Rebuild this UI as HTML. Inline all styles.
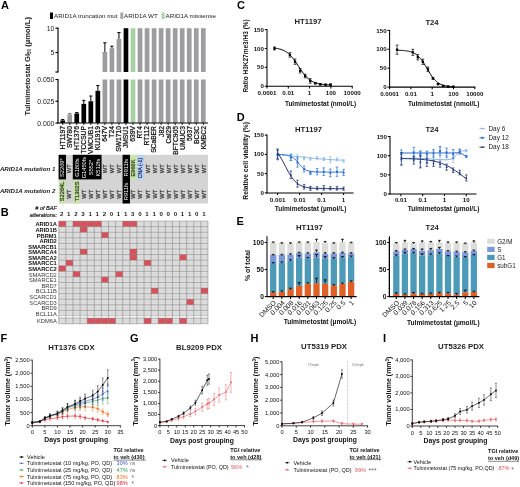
<!DOCTYPE html>
<html lang="en"><head><meta charset="utf-8"><title>Figure</title>
<style>html,body{margin:0;padding:0;background:#fff;}svg{display:block;font-family:'Liberation Sans', Arial, sans-serif;}</style>
</head><body>
<svg width="520" height="487" viewBox="0 0 520 487">
<rect x="0" y="0" width="520" height="487" fill="#fff"/>
<g id="panelA">
<text x="0.90" y="9.40" font-size="11" font-weight="bold" text-anchor="start" fill="#000">A</text>
<rect x="50.00" y="12.50" width="3.00" height="6.50" fill="#000"/>
<text x="54.00" y="18.00" font-size="6.25" font-weight="normal" text-anchor="start" fill="#222">ARID1A truncation mut</text>
<rect x="120.30" y="12.50" width="3.00" height="6.50" fill="#a6a6a6"/>
<text x="124.10" y="18.00" font-size="6.25" font-weight="normal" text-anchor="start" fill="#222">ARID1A WT</text>
<rect x="161.60" y="12.50" width="3.00" height="6.50" fill="#a9d5a5"/>
<text x="165.50" y="18.00" font-size="6.25" font-weight="normal" text-anchor="start" fill="#222">ARID1A missense</text>
<line x1="62.70" y1="120.39" x2="62.70" y2="119.52" stroke="#000" stroke-width="1.0"/>
<line x1="61.10" y1="119.52" x2="64.30" y2="119.52" stroke="#000" stroke-width="1.0"/>
<rect x="60.35" y="120.39" width="4.70" height="2.61" fill="#000"/>
<line x1="69.73" y1="114.30" x2="69.73" y2="113.43" stroke="#777" stroke-width="1.0"/>
<line x1="68.13" y1="113.43" x2="71.33" y2="113.43" stroke="#777" stroke-width="1.0"/>
<rect x="67.38" y="114.30" width="4.70" height="8.70" fill="#9d9d9f"/>
<line x1="76.76" y1="113.43" x2="76.76" y2="112.56" stroke="#000" stroke-width="1.0"/>
<line x1="75.16" y1="112.56" x2="78.36" y2="112.56" stroke="#000" stroke-width="1.0"/>
<rect x="74.41" y="113.43" width="4.70" height="9.57" fill="#000"/>
<line x1="83.79" y1="103.86" x2="83.79" y2="100.38" stroke="#000" stroke-width="1.0"/>
<line x1="82.19" y1="100.38" x2="85.39" y2="100.38" stroke="#000" stroke-width="1.0"/>
<rect x="81.44" y="103.86" width="4.70" height="19.14" fill="#000"/>
<line x1="90.82" y1="101.25" x2="90.82" y2="96.03" stroke="#000" stroke-width="1.0"/>
<line x1="89.22" y1="96.03" x2="92.42" y2="96.03" stroke="#000" stroke-width="1.0"/>
<rect x="88.47" y="101.25" width="4.70" height="21.75" fill="#000"/>
<line x1="97.85" y1="90.81" x2="97.85" y2="85.59" stroke="#000" stroke-width="1.0"/>
<line x1="96.25" y1="85.59" x2="99.45" y2="85.59" stroke="#000" stroke-width="1.0"/>
<rect x="95.50" y="90.81" width="4.70" height="32.19" fill="#000"/>
<rect x="102.53" y="79.50" width="4.70" height="43.50" fill="#9d9d9f"/>
<line x1="104.88" y1="52.01" x2="104.88" y2="42.78" stroke="#000" stroke-width="1.0"/>
<line x1="103.28" y1="42.78" x2="106.48" y2="42.78" stroke="#000" stroke-width="1.0"/>
<rect x="102.53" y="52.01" width="4.70" height="19.99" fill="#9d9d9f"/>
<rect x="109.56" y="79.50" width="4.70" height="43.50" fill="#9d9d9f"/>
<line x1="111.91" y1="48.13" x2="111.91" y2="46.18" stroke="#000" stroke-width="1.0"/>
<line x1="110.31" y1="46.18" x2="113.51" y2="46.18" stroke="#000" stroke-width="1.0"/>
<rect x="109.56" y="48.13" width="4.70" height="23.87" fill="#9d9d9f"/>
<rect x="116.59" y="79.50" width="4.70" height="43.50" fill="#9d9d9f"/>
<line x1="118.94" y1="38.89" x2="118.94" y2="32.57" stroke="#000" stroke-width="1.0"/>
<line x1="117.34" y1="32.57" x2="120.54" y2="32.57" stroke="#000" stroke-width="1.0"/>
<rect x="116.59" y="38.89" width="4.70" height="33.11" fill="#9d9d9f"/>
<rect x="123.62" y="79.50" width="4.70" height="43.50" fill="#000"/>
<rect x="123.62" y="28.20" width="4.70" height="43.80" fill="#000"/>
<rect x="130.65" y="79.50" width="4.70" height="43.50" fill="#a8cea5"/>
<rect x="130.65" y="28.20" width="4.70" height="43.80" fill="#a8cea5"/>
<rect x="137.68" y="79.50" width="4.70" height="43.50" fill="#9d9d9f"/>
<rect x="137.68" y="28.20" width="4.70" height="43.80" fill="#9d9d9f"/>
<rect x="144.71" y="79.50" width="4.70" height="43.50" fill="#9d9d9f"/>
<rect x="144.71" y="28.20" width="4.70" height="43.80" fill="#9d9d9f"/>
<rect x="151.74" y="79.50" width="4.70" height="43.50" fill="#9d9d9f"/>
<rect x="151.74" y="28.20" width="4.70" height="43.80" fill="#9d9d9f"/>
<rect x="158.77" y="79.50" width="4.70" height="43.50" fill="#9d9d9f"/>
<rect x="158.77" y="28.20" width="4.70" height="43.80" fill="#9d9d9f"/>
<rect x="165.80" y="79.50" width="4.70" height="43.50" fill="#9d9d9f"/>
<rect x="165.80" y="28.20" width="4.70" height="43.80" fill="#9d9d9f"/>
<rect x="172.83" y="79.50" width="4.70" height="43.50" fill="#9d9d9f"/>
<rect x="172.83" y="28.20" width="4.70" height="43.80" fill="#9d9d9f"/>
<rect x="179.86" y="79.50" width="4.70" height="43.50" fill="#9d9d9f"/>
<rect x="179.86" y="28.20" width="4.70" height="43.80" fill="#9d9d9f"/>
<rect x="186.89" y="79.50" width="4.70" height="43.50" fill="#9d9d9f"/>
<rect x="186.89" y="28.20" width="4.70" height="43.80" fill="#9d9d9f"/>
<rect x="193.92" y="79.50" width="4.70" height="43.50" fill="#9d9d9f"/>
<rect x="193.92" y="28.20" width="4.70" height="43.80" fill="#9d9d9f"/>
<rect x="200.95" y="79.50" width="4.70" height="43.50" fill="#9d9d9f"/>
<rect x="200.95" y="28.20" width="4.70" height="43.80" fill="#9d9d9f"/>
<line x1="58.00" y1="27.62" x2="58.00" y2="72.58" stroke="#000" stroke-width="1.15"/>
<line x1="55.40" y1="28.20" x2="58.00" y2="28.20" stroke="#000" stroke-width="1.15"/>
<text x="54.40" y="30.70" font-size="6.9" font-weight="normal" text-anchor="end" fill="#222">10</text>
<line x1="55.40" y1="52.50" x2="58.00" y2="52.50" stroke="#000" stroke-width="1.15"/>
<text x="54.40" y="55.00" font-size="6.9" font-weight="normal" text-anchor="end" fill="#222">5</text>
<line x1="55.40" y1="72.00" x2="58.00" y2="72.00" stroke="#000" stroke-width="1.15"/>
<line x1="58.00" y1="78.92" x2="58.00" y2="123.58" stroke="#000" stroke-width="1.15"/>
<line x1="55.40" y1="79.50" x2="58.00" y2="79.50" stroke="#000" stroke-width="1.15"/>
<text x="54.40" y="82.00" font-size="6.9" font-weight="normal" text-anchor="end" fill="#222">0.050</text>
<line x1="55.40" y1="101.25" x2="58.00" y2="101.25" stroke="#000" stroke-width="1.15"/>
<text x="54.40" y="103.75" font-size="6.9" font-weight="normal" text-anchor="end" fill="#222">0.025</text>
<line x1="55.40" y1="123.00" x2="58.00" y2="123.00" stroke="#000" stroke-width="1.15"/>
<text x="54.40" y="125.50" font-size="6.9" font-weight="normal" text-anchor="end" fill="#222">0.000</text>
<line x1="57.42" y1="123.00" x2="208.00" y2="123.00" stroke="#000" stroke-width="1.15"/>
<line x1="62.70" y1="123.00" x2="62.70" y2="125.00" stroke="#000" stroke-width="0.9"/>
<text x="65.10" y="126.10" font-size="6.7" font-weight="normal" text-anchor="end" fill="#111" transform="rotate(-90 65.10 126.10)" stroke="#111" stroke-width="0.25">HT1197</text>
<line x1="69.73" y1="123.00" x2="69.73" y2="125.00" stroke="#000" stroke-width="0.9"/>
<text x="72.13" y="126.10" font-size="6.7" font-weight="normal" text-anchor="end" fill="#111" transform="rotate(-90 72.13 126.10)" stroke="#111" stroke-width="0.25">SW780</text>
<line x1="76.76" y1="123.00" x2="76.76" y2="125.00" stroke="#000" stroke-width="0.9"/>
<text x="79.16" y="126.10" font-size="6.7" font-weight="normal" text-anchor="end" fill="#111" transform="rotate(-90 79.16 126.10)" stroke="#111" stroke-width="0.25">HT1376</text>
<line x1="83.79" y1="123.00" x2="83.79" y2="125.00" stroke="#000" stroke-width="0.9"/>
<text x="86.19" y="126.10" font-size="6.7" font-weight="normal" text-anchor="end" fill="#111" transform="rotate(-90 86.19 126.10)" stroke="#111" stroke-width="0.25">TCCSUP</text>
<line x1="90.82" y1="123.00" x2="90.82" y2="125.00" stroke="#000" stroke-width="0.9"/>
<text x="93.22" y="126.10" font-size="6.7" font-weight="normal" text-anchor="end" fill="#111" transform="rotate(-90 93.22 126.10)" stroke="#111" stroke-width="0.25">VMCUB1</text>
<line x1="97.85" y1="123.00" x2="97.85" y2="125.00" stroke="#000" stroke-width="0.9"/>
<text x="100.25" y="126.10" font-size="6.7" font-weight="normal" text-anchor="end" fill="#111" transform="rotate(-90 100.25 126.10)" stroke="#111" stroke-width="0.25">KU1919</text>
<line x1="104.88" y1="123.00" x2="104.88" y2="125.00" stroke="#000" stroke-width="0.9"/>
<text x="107.28" y="126.10" font-size="6.7" font-weight="normal" text-anchor="end" fill="#111" transform="rotate(-90 107.28 126.10)" stroke="#111" stroke-width="0.25">647V</text>
<line x1="111.91" y1="123.00" x2="111.91" y2="125.00" stroke="#000" stroke-width="0.9"/>
<text x="114.31" y="126.10" font-size="6.7" font-weight="normal" text-anchor="end" fill="#111" transform="rotate(-90 114.31 126.10)" stroke="#111" stroke-width="0.25">T24</text>
<line x1="118.94" y1="123.00" x2="118.94" y2="125.00" stroke="#000" stroke-width="0.9"/>
<text x="121.34" y="126.10" font-size="6.7" font-weight="normal" text-anchor="end" fill="#111" transform="rotate(-90 121.34 126.10)" stroke="#111" stroke-width="0.25">SW1710</text>
<line x1="125.97" y1="123.00" x2="125.97" y2="125.00" stroke="#000" stroke-width="0.9"/>
<text x="128.37" y="126.10" font-size="6.7" font-weight="normal" text-anchor="end" fill="#111" transform="rotate(-90 128.37 126.10)" stroke="#111" stroke-width="0.25">JMSU1</text>
<line x1="133.00" y1="123.00" x2="133.00" y2="125.00" stroke="#000" stroke-width="0.9"/>
<text x="135.40" y="126.10" font-size="6.7" font-weight="normal" text-anchor="end" fill="#111" transform="rotate(-90 135.40 126.10)" stroke="#111" stroke-width="0.25">639V</text>
<line x1="140.03" y1="123.00" x2="140.03" y2="125.00" stroke="#000" stroke-width="0.9"/>
<text x="142.43" y="126.10" font-size="6.7" font-weight="normal" text-anchor="end" fill="#111" transform="rotate(-90 142.43 126.10)" stroke="#111" stroke-width="0.25">RT4</text>
<line x1="147.06" y1="123.00" x2="147.06" y2="125.00" stroke="#000" stroke-width="0.9"/>
<text x="149.46" y="126.10" font-size="6.7" font-weight="normal" text-anchor="end" fill="#111" transform="rotate(-90 149.46 126.10)" stroke="#111" stroke-width="0.25">RT112</text>
<line x1="154.09" y1="123.00" x2="154.09" y2="125.00" stroke="#000" stroke-width="0.9"/>
<text x="156.49" y="126.10" font-size="6.7" font-weight="normal" text-anchor="end" fill="#111" transform="rotate(-90 156.49 126.10)" stroke="#111" stroke-width="0.25">SCaBER</text>
<line x1="161.12" y1="123.00" x2="161.12" y2="125.00" stroke="#000" stroke-width="0.9"/>
<text x="163.52" y="126.10" font-size="6.7" font-weight="normal" text-anchor="end" fill="#111" transform="rotate(-90 163.52 126.10)" stroke="#111" stroke-width="0.25">J82</text>
<line x1="168.15" y1="123.00" x2="168.15" y2="125.00" stroke="#000" stroke-width="0.9"/>
<text x="170.55" y="126.10" font-size="6.7" font-weight="normal" text-anchor="end" fill="#111" transform="rotate(-90 170.55 126.10)" stroke="#111" stroke-width="0.25">Cal29</text>
<line x1="175.18" y1="123.00" x2="175.18" y2="125.00" stroke="#000" stroke-width="0.9"/>
<text x="177.58" y="126.10" font-size="6.7" font-weight="normal" text-anchor="end" fill="#111" transform="rotate(-90 177.58 126.10)" stroke="#111" stroke-width="0.25">BFTC905</text>
<line x1="182.21" y1="123.00" x2="182.21" y2="125.00" stroke="#000" stroke-width="0.9"/>
<text x="184.61" y="126.10" font-size="6.7" font-weight="normal" text-anchor="end" fill="#111" transform="rotate(-90 184.61 126.10)" stroke="#111" stroke-width="0.25">UMUC3</text>
<line x1="189.24" y1="123.00" x2="189.24" y2="125.00" stroke="#000" stroke-width="0.9"/>
<text x="191.64" y="126.10" font-size="6.7" font-weight="normal" text-anchor="end" fill="#111" transform="rotate(-90 191.64 126.10)" stroke="#111" stroke-width="0.25">5637</text>
<line x1="196.27" y1="123.00" x2="196.27" y2="125.00" stroke="#000" stroke-width="0.9"/>
<text x="198.67" y="126.10" font-size="6.7" font-weight="normal" text-anchor="end" fill="#111" transform="rotate(-90 198.67 126.10)" stroke="#111" stroke-width="0.25">BC3C</text>
<line x1="203.30" y1="123.00" x2="203.30" y2="125.00" stroke="#000" stroke-width="0.9"/>
<text x="205.70" y="126.10" font-size="6.7" font-weight="normal" text-anchor="end" fill="#111" transform="rotate(-90 205.70 126.10)" stroke="#111" stroke-width="0.25">KMBC2</text>
<text x="29.6" y="66.2" font-size="7.6" font-weight="bold" text-anchor="middle" fill="#222" transform="rotate(-90 29.6 66.2)">Tulmimetostat GI<tspan font-size="4.6" dy="1.6">50</tspan><tspan dy="-1.6"> (µmol/L)</tspan></text>
<rect x="58.75" y="154.80" width="149.25" height="48.70" fill="#d4d4d4"/>
<text x="55.30" y="170.90" font-size="6.15" font-weight="bold" text-anchor="end" fill="#222" font-style="italic">ARID1A mutation 1</text>
<text x="55.30" y="193.30" font-size="6.15" font-weight="bold" text-anchor="end" fill="#222" font-style="italic">ARID1A mutation 2</text>
<rect x="58.60" y="154.80" width="7.41" height="24.60" fill="#000"/>
<text x="64.30" y="167.60" font-size="5.7" font-weight="normal" text-anchor="middle" fill="#fff" transform="rotate(-90 64.30 167.60)">S2269*</text>
<rect x="59.05" y="180.40" width="6.51" height="23.10" fill="#cbe3ad"/>
<text x="64.30" y="191.40" font-size="5.7" font-weight="normal" text-anchor="middle" fill="#2d3d18" transform="rotate(-90 64.30 191.40)" stroke="#2d3d18" stroke-width="0.22">S2264L</text>
<text x="71.41" y="168.80" font-size="5.7" font-weight="normal" text-anchor="middle" fill="#2a2a2a" transform="rotate(-90 71.41 168.80)" stroke="#2a2a2a" stroke-width="0.22">WT</text>
<text x="71.41" y="194.20" font-size="5.7" font-weight="normal" text-anchor="middle" fill="#2a2a2a" transform="rotate(-90 71.41 194.20)" stroke="#2a2a2a" stroke-width="0.22">WT</text>
<rect x="72.81" y="154.80" width="7.41" height="24.60" fill="#000"/>
<text x="78.51" y="167.60" font-size="5.7" font-weight="normal" text-anchor="middle" fill="#fff" transform="rotate(-90 78.51 167.60)">G180fs</text>
<rect x="73.26" y="180.40" width="6.51" height="23.10" fill="#cbe3ad"/>
<text x="78.51" y="191.40" font-size="5.7" font-weight="normal" text-anchor="middle" fill="#2d3d18" transform="rotate(-90 78.51 191.40)" stroke="#2d3d18" stroke-width="0.22">T1302S</text>
<rect x="79.92" y="154.80" width="7.41" height="24.60" fill="#000"/>
<text x="85.62" y="167.60" font-size="5.7" font-weight="normal" text-anchor="middle" fill="#fff" transform="rotate(-90 85.62 167.60)">G1450fs</text>
<text x="85.62" y="194.20" font-size="5.7" font-weight="normal" text-anchor="middle" fill="#2a2a2a" transform="rotate(-90 85.62 194.20)" stroke="#2a2a2a" stroke-width="0.22">WT</text>
<rect x="87.02" y="154.80" width="7.41" height="24.60" fill="#000"/>
<text x="92.73" y="167.60" font-size="5.7" font-weight="normal" text-anchor="middle" fill="#fff" transform="rotate(-90 92.73 167.60)">S552*</text>
<text x="92.73" y="194.20" font-size="5.7" font-weight="normal" text-anchor="middle" fill="#2a2a2a" transform="rotate(-90 92.73 194.20)" stroke="#2a2a2a" stroke-width="0.22">WT</text>
<rect x="94.13" y="154.80" width="7.41" height="24.60" fill="#000"/>
<text x="99.84" y="167.60" font-size="5.7" font-weight="normal" text-anchor="middle" fill="#fff" transform="rotate(-90 99.84 167.60)">K512fs</text>
<text x="99.84" y="194.20" font-size="5.7" font-weight="normal" text-anchor="middle" fill="#2a2a2a" transform="rotate(-90 99.84 194.20)" stroke="#2a2a2a" stroke-width="0.22">WT</text>
<text x="106.94" y="168.80" font-size="5.7" font-weight="normal" text-anchor="middle" fill="#2a2a2a" transform="rotate(-90 106.94 168.80)" stroke="#2a2a2a" stroke-width="0.22">WT</text>
<text x="106.94" y="194.20" font-size="5.7" font-weight="normal" text-anchor="middle" fill="#2a2a2a" transform="rotate(-90 106.94 194.20)" stroke="#2a2a2a" stroke-width="0.22">WT</text>
<text x="114.05" y="168.80" font-size="5.7" font-weight="normal" text-anchor="middle" fill="#2a2a2a" transform="rotate(-90 114.05 168.80)" stroke="#2a2a2a" stroke-width="0.22">WT</text>
<text x="114.05" y="194.20" font-size="5.7" font-weight="normal" text-anchor="middle" fill="#2a2a2a" transform="rotate(-90 114.05 194.20)" stroke="#2a2a2a" stroke-width="0.22">WT</text>
<text x="121.16" y="168.80" font-size="5.7" font-weight="normal" text-anchor="middle" fill="#2a2a2a" transform="rotate(-90 121.16 168.80)" stroke="#2a2a2a" stroke-width="0.22">WT</text>
<text x="121.16" y="194.20" font-size="5.7" font-weight="normal" text-anchor="middle" fill="#2a2a2a" transform="rotate(-90 121.16 194.20)" stroke="#2a2a2a" stroke-width="0.22">WT</text>
<rect x="122.56" y="154.80" width="7.41" height="48.70" fill="#000"/>
<text x="128.26" y="167.60" font-size="5.7" font-weight="normal" text-anchor="middle" fill="#fff" transform="rotate(-90 128.26 167.60)">R911fs</text>
<text x="128.26" y="191.40" font-size="5.7" font-weight="normal" text-anchor="middle" fill="#fff" transform="rotate(-90 128.26 191.40)">R911fs</text>
<rect x="130.02" y="154.80" width="6.91" height="25.10" fill="#cbe3ad"/>
<text x="135.37" y="168.00" font-size="5.7" font-weight="normal" text-anchor="middle" fill="#2d3d18" transform="rotate(-90 135.37 168.00)" stroke="#2d3d18" stroke-width="0.22">E966K</text>
<text x="135.37" y="194.20" font-size="5.7" font-weight="normal" text-anchor="middle" fill="#2a2a2a" transform="rotate(-90 135.37 194.20)" stroke="#2a2a2a" stroke-width="0.22">WT</text>
<rect x="136.92" y="154.80" width="7.11" height="25.10" fill="#bcd3ee"/>
<text x="142.48" y="168.00" font-size="5.3" font-weight="normal" text-anchor="middle" fill="#1c2c78" transform="rotate(-90 142.48 168.00)" stroke="#1c2c78" stroke-width="0.22">CNA (-1)</text>
<text x="142.48" y="194.20" font-size="5.7" font-weight="normal" text-anchor="middle" fill="#2a2a2a" transform="rotate(-90 142.48 194.20)" stroke="#2a2a2a" stroke-width="0.22">WT</text>
<text x="149.58" y="168.80" font-size="5.7" font-weight="normal" text-anchor="middle" fill="#2a2a2a" transform="rotate(-90 149.58 168.80)" stroke="#2a2a2a" stroke-width="0.22">WT</text>
<text x="149.58" y="194.20" font-size="5.7" font-weight="normal" text-anchor="middle" fill="#2a2a2a" transform="rotate(-90 149.58 194.20)" stroke="#2a2a2a" stroke-width="0.22">WT</text>
<text x="156.69" y="168.80" font-size="5.7" font-weight="normal" text-anchor="middle" fill="#2a2a2a" transform="rotate(-90 156.69 168.80)" stroke="#2a2a2a" stroke-width="0.22">WT</text>
<text x="156.69" y="194.20" font-size="5.7" font-weight="normal" text-anchor="middle" fill="#2a2a2a" transform="rotate(-90 156.69 194.20)" stroke="#2a2a2a" stroke-width="0.22">WT</text>
<text x="163.80" y="168.80" font-size="5.7" font-weight="normal" text-anchor="middle" fill="#2a2a2a" transform="rotate(-90 163.80 168.80)" stroke="#2a2a2a" stroke-width="0.22">WT</text>
<text x="163.80" y="194.20" font-size="5.7" font-weight="normal" text-anchor="middle" fill="#2a2a2a" transform="rotate(-90 163.80 194.20)" stroke="#2a2a2a" stroke-width="0.22">WT</text>
<text x="170.91" y="168.80" font-size="5.7" font-weight="normal" text-anchor="middle" fill="#2a2a2a" transform="rotate(-90 170.91 168.80)" stroke="#2a2a2a" stroke-width="0.22">WT</text>
<text x="170.91" y="194.20" font-size="5.7" font-weight="normal" text-anchor="middle" fill="#2a2a2a" transform="rotate(-90 170.91 194.20)" stroke="#2a2a2a" stroke-width="0.22">WT</text>
<text x="178.01" y="168.80" font-size="5.7" font-weight="normal" text-anchor="middle" fill="#2a2a2a" transform="rotate(-90 178.01 168.80)" stroke="#2a2a2a" stroke-width="0.22">WT</text>
<text x="178.01" y="194.20" font-size="5.7" font-weight="normal" text-anchor="middle" fill="#2a2a2a" transform="rotate(-90 178.01 194.20)" stroke="#2a2a2a" stroke-width="0.22">WT</text>
<text x="185.12" y="168.80" font-size="5.7" font-weight="normal" text-anchor="middle" fill="#2a2a2a" transform="rotate(-90 185.12 168.80)" stroke="#2a2a2a" stroke-width="0.22">WT</text>
<text x="185.12" y="194.20" font-size="5.7" font-weight="normal" text-anchor="middle" fill="#2a2a2a" transform="rotate(-90 185.12 194.20)" stroke="#2a2a2a" stroke-width="0.22">WT</text>
<text x="192.23" y="168.80" font-size="5.7" font-weight="normal" text-anchor="middle" fill="#2a2a2a" transform="rotate(-90 192.23 168.80)" stroke="#2a2a2a" stroke-width="0.22">WT</text>
<text x="192.23" y="194.20" font-size="5.7" font-weight="normal" text-anchor="middle" fill="#2a2a2a" transform="rotate(-90 192.23 194.20)" stroke="#2a2a2a" stroke-width="0.22">WT</text>
<text x="199.33" y="168.80" font-size="5.7" font-weight="normal" text-anchor="middle" fill="#2a2a2a" transform="rotate(-90 199.33 168.80)" stroke="#2a2a2a" stroke-width="0.22">WT</text>
<text x="199.33" y="194.20" font-size="5.7" font-weight="normal" text-anchor="middle" fill="#2a2a2a" transform="rotate(-90 199.33 194.20)" stroke="#2a2a2a" stroke-width="0.22">WT</text>
<text x="206.44" y="168.80" font-size="5.7" font-weight="normal" text-anchor="middle" fill="#2a2a2a" transform="rotate(-90 206.44 168.80)" stroke="#2a2a2a" stroke-width="0.22">WT</text>
<text x="206.44" y="194.20" font-size="5.7" font-weight="normal" text-anchor="middle" fill="#2a2a2a" transform="rotate(-90 206.44 194.20)" stroke="#2a2a2a" stroke-width="0.22">WT</text>
</g>
<g id="panelB">
<text x="0.70" y="216.30" font-size="11" font-weight="bold" text-anchor="start" fill="#000">B</text>
<text x="57.00" y="209.60" font-size="5.6" font-weight="normal" text-anchor="end" fill="#1a1a1a" font-style="italic" stroke="#1a1a1a" stroke-width="0.18"># of BAF</text>
<text x="57.20" y="216.50" font-size="5.6" font-weight="normal" text-anchor="end" fill="#1a1a1a" font-style="italic" stroke="#1a1a1a" stroke-width="0.18">alterations:</text>
<text x="61.70" y="216.00" font-size="6.1" font-weight="bold" text-anchor="middle" fill="#222">2</text>
<text x="68.81" y="216.00" font-size="6.1" font-weight="bold" text-anchor="middle" fill="#222">1</text>
<text x="75.91" y="216.00" font-size="6.1" font-weight="bold" text-anchor="middle" fill="#222">2</text>
<text x="83.02" y="216.00" font-size="6.1" font-weight="bold" text-anchor="middle" fill="#222">3</text>
<text x="90.13" y="216.00" font-size="6.1" font-weight="bold" text-anchor="middle" fill="#222">1</text>
<text x="97.24" y="216.00" font-size="6.1" font-weight="bold" text-anchor="middle" fill="#222">1</text>
<text x="104.34" y="216.00" font-size="6.1" font-weight="bold" text-anchor="middle" fill="#222">2</text>
<text x="111.45" y="216.00" font-size="6.1" font-weight="bold" text-anchor="middle" fill="#222">0</text>
<text x="118.56" y="216.00" font-size="6.1" font-weight="bold" text-anchor="middle" fill="#222">1</text>
<text x="125.66" y="216.00" font-size="6.1" font-weight="bold" text-anchor="middle" fill="#222">1</text>
<text x="132.77" y="216.00" font-size="6.1" font-weight="bold" text-anchor="middle" fill="#222">3</text>
<text x="139.88" y="216.00" font-size="6.1" font-weight="bold" text-anchor="middle" fill="#222">0</text>
<text x="146.98" y="216.00" font-size="6.1" font-weight="bold" text-anchor="middle" fill="#222">1</text>
<text x="154.09" y="216.00" font-size="6.1" font-weight="bold" text-anchor="middle" fill="#222">1</text>
<text x="161.20" y="216.00" font-size="6.1" font-weight="bold" text-anchor="middle" fill="#222">0</text>
<text x="168.31" y="216.00" font-size="6.1" font-weight="bold" text-anchor="middle" fill="#222">0</text>
<text x="175.41" y="216.00" font-size="6.1" font-weight="bold" text-anchor="middle" fill="#222">0</text>
<text x="182.52" y="216.00" font-size="6.1" font-weight="bold" text-anchor="middle" fill="#222">1</text>
<text x="189.63" y="216.00" font-size="6.1" font-weight="bold" text-anchor="middle" fill="#222">1</text>
<text x="196.73" y="216.00" font-size="6.1" font-weight="bold" text-anchor="middle" fill="#222">0</text>
<text x="203.84" y="216.00" font-size="6.1" font-weight="bold" text-anchor="middle" fill="#222">1</text>
<rect x="58.75" y="221.10" width="149.25" height="94.86" fill="#dedede"/>
<line x1="58.75" y1="223.89" x2="207.99" y2="223.89" stroke="#c9c9c9" stroke-width="0.3"/>
<line x1="58.75" y1="229.47" x2="207.99" y2="229.47" stroke="#c9c9c9" stroke-width="0.3"/>
<line x1="58.75" y1="235.05" x2="207.99" y2="235.05" stroke="#c9c9c9" stroke-width="0.3"/>
<line x1="58.75" y1="240.63" x2="207.99" y2="240.63" stroke="#c9c9c9" stroke-width="0.3"/>
<line x1="58.75" y1="246.21" x2="207.99" y2="246.21" stroke="#c9c9c9" stroke-width="0.3"/>
<line x1="58.75" y1="251.79" x2="207.99" y2="251.79" stroke="#c9c9c9" stroke-width="0.3"/>
<line x1="58.75" y1="257.37" x2="207.99" y2="257.37" stroke="#c9c9c9" stroke-width="0.3"/>
<line x1="58.75" y1="262.95" x2="207.99" y2="262.95" stroke="#c9c9c9" stroke-width="0.3"/>
<line x1="58.75" y1="268.53" x2="207.99" y2="268.53" stroke="#c9c9c9" stroke-width="0.3"/>
<line x1="58.75" y1="274.11" x2="207.99" y2="274.11" stroke="#c9c9c9" stroke-width="0.3"/>
<line x1="58.75" y1="279.69" x2="207.99" y2="279.69" stroke="#c9c9c9" stroke-width="0.3"/>
<line x1="58.75" y1="285.27" x2="207.99" y2="285.27" stroke="#c9c9c9" stroke-width="0.3"/>
<line x1="58.75" y1="290.85" x2="207.99" y2="290.85" stroke="#c9c9c9" stroke-width="0.3"/>
<line x1="58.75" y1="296.43" x2="207.99" y2="296.43" stroke="#c9c9c9" stroke-width="0.3"/>
<line x1="58.75" y1="302.01" x2="207.99" y2="302.01" stroke="#c9c9c9" stroke-width="0.3"/>
<line x1="58.75" y1="307.59" x2="207.99" y2="307.59" stroke="#c9c9c9" stroke-width="0.3"/>
<line x1="58.75" y1="313.17" x2="207.99" y2="313.17" stroke="#c9c9c9" stroke-width="0.3"/>
<line x1="58.75" y1="320.95" x2="207.99" y2="320.95" stroke="#c9c9c9" stroke-width="0.3"/>
<rect x="58.75" y="221.10" width="7.11" height="5.58" fill="#d9505a"/>
<rect x="72.96" y="221.10" width="7.11" height="5.58" fill="#d9505a"/>
<rect x="80.07" y="221.10" width="7.11" height="5.58" fill="#d9505a"/>
<rect x="87.17" y="221.10" width="7.11" height="5.58" fill="#d9505a"/>
<rect x="94.28" y="221.10" width="7.11" height="5.58" fill="#d9505a"/>
<rect x="122.71" y="221.10" width="7.11" height="5.58" fill="#d9505a"/>
<rect x="129.82" y="221.10" width="7.11" height="5.58" fill="#d9505a"/>
<rect x="80.07" y="226.68" width="7.11" height="5.58" fill="#d9505a"/>
<rect x="101.39" y="232.26" width="7.11" height="5.58" fill="#d9505a"/>
<rect x="80.07" y="249.00" width="7.11" height="5.58" fill="#d9505a"/>
<rect x="129.82" y="249.00" width="7.11" height="5.58" fill="#d9505a"/>
<rect x="129.82" y="254.58" width="7.11" height="5.58" fill="#d9505a"/>
<rect x="179.57" y="254.58" width="7.11" height="5.58" fill="#d9505a"/>
<rect x="65.85" y="260.16" width="7.11" height="5.58" fill="#d9505a"/>
<rect x="144.03" y="260.16" width="7.11" height="5.58" fill="#d9505a"/>
<rect x="58.75" y="265.74" width="7.11" height="5.58" fill="#d9505a"/>
<rect x="72.96" y="271.32" width="7.11" height="5.58" fill="#d9505a"/>
<rect x="115.60" y="271.32" width="7.11" height="5.58" fill="#d9505a"/>
<rect x="101.39" y="276.90" width="7.11" height="5.58" fill="#d9505a"/>
<rect x="151.14" y="288.06" width="7.11" height="5.58" fill="#d9505a"/>
<rect x="200.89" y="288.06" width="7.11" height="5.58" fill="#d9505a"/>
<rect x="186.67" y="299.22" width="7.11" height="5.58" fill="#d9505a"/>
<line x1="58.75" y1="221.10" x2="207.99" y2="221.10" stroke="#7c7c7c" stroke-width="0.5"/>
<line x1="58.75" y1="226.68" x2="207.99" y2="226.68" stroke="#7c7c7c" stroke-width="0.5"/>
<line x1="58.75" y1="232.26" x2="207.99" y2="232.26" stroke="#7c7c7c" stroke-width="0.5"/>
<line x1="58.75" y1="237.84" x2="207.99" y2="237.84" stroke="#7c7c7c" stroke-width="0.5"/>
<line x1="58.75" y1="243.42" x2="207.99" y2="243.42" stroke="#7c7c7c" stroke-width="0.5"/>
<line x1="58.75" y1="249.00" x2="207.99" y2="249.00" stroke="#7c7c7c" stroke-width="0.5"/>
<line x1="58.75" y1="254.58" x2="207.99" y2="254.58" stroke="#7c7c7c" stroke-width="0.5"/>
<line x1="58.75" y1="260.16" x2="207.99" y2="260.16" stroke="#7c7c7c" stroke-width="0.5"/>
<line x1="58.75" y1="265.74" x2="207.99" y2="265.74" stroke="#7c7c7c" stroke-width="0.5"/>
<line x1="58.75" y1="271.32" x2="207.99" y2="271.32" stroke="#7c7c7c" stroke-width="0.5"/>
<line x1="58.75" y1="276.90" x2="207.99" y2="276.90" stroke="#7c7c7c" stroke-width="0.5"/>
<line x1="58.75" y1="282.48" x2="207.99" y2="282.48" stroke="#7c7c7c" stroke-width="0.5"/>
<line x1="58.75" y1="288.06" x2="207.99" y2="288.06" stroke="#7c7c7c" stroke-width="0.5"/>
<line x1="58.75" y1="293.64" x2="207.99" y2="293.64" stroke="#7c7c7c" stroke-width="0.5"/>
<line x1="58.75" y1="299.22" x2="207.99" y2="299.22" stroke="#7c7c7c" stroke-width="0.5"/>
<line x1="58.75" y1="304.80" x2="207.99" y2="304.80" stroke="#7c7c7c" stroke-width="0.5"/>
<line x1="58.75" y1="310.38" x2="207.99" y2="310.38" stroke="#7c7c7c" stroke-width="0.5"/>
<line x1="58.75" y1="315.96" x2="207.99" y2="315.96" stroke="#7c7c7c" stroke-width="0.5"/>
<rect x="58.75" y="315.96" width="149.25" height="2.20" fill="#f2f2f2"/>
<rect x="58.75" y="318.16" width="149.25" height="5.58" fill="#dedede"/>
<line x1="58.75" y1="320.95" x2="207.99" y2="320.95" stroke="#c9c9c9" stroke-width="0.3"/>
<rect x="87.17" y="318.16" width="7.11" height="5.58" fill="#d9505a"/>
<rect x="94.28" y="318.16" width="7.11" height="5.58" fill="#d9505a"/>
<rect x="101.39" y="318.16" width="7.11" height="5.58" fill="#d9505a"/>
<rect x="108.50" y="318.16" width="7.11" height="5.58" fill="#d9505a"/>
<rect x="144.03" y="318.16" width="7.11" height="5.58" fill="#d9505a"/>
<rect x="158.24" y="318.16" width="7.11" height="5.58" fill="#d9505a"/>
<rect x="165.35" y="318.16" width="7.11" height="5.58" fill="#d9505a"/>
<rect x="179.57" y="318.16" width="7.11" height="5.58" fill="#d9505a"/>
<line x1="58.75" y1="318.16" x2="207.99" y2="318.16" stroke="#7c7c7c" stroke-width="0.5"/>
<line x1="58.75" y1="323.74" x2="207.99" y2="323.74" stroke="#7c7c7c" stroke-width="0.5"/>
<line x1="58.75" y1="221.10" x2="58.75" y2="323.74" stroke="#7c7c7c" stroke-width="0.5"/>
<line x1="65.85" y1="221.10" x2="65.85" y2="323.74" stroke="#7c7c7c" stroke-width="0.5"/>
<line x1="72.96" y1="221.10" x2="72.96" y2="323.74" stroke="#7c7c7c" stroke-width="0.5"/>
<line x1="80.07" y1="221.10" x2="80.07" y2="323.74" stroke="#7c7c7c" stroke-width="0.5"/>
<line x1="87.17" y1="221.10" x2="87.17" y2="323.74" stroke="#7c7c7c" stroke-width="0.5"/>
<line x1="94.28" y1="221.10" x2="94.28" y2="323.74" stroke="#7c7c7c" stroke-width="0.5"/>
<line x1="101.39" y1="221.10" x2="101.39" y2="323.74" stroke="#7c7c7c" stroke-width="0.5"/>
<line x1="108.50" y1="221.10" x2="108.50" y2="323.74" stroke="#7c7c7c" stroke-width="0.5"/>
<line x1="115.60" y1="221.10" x2="115.60" y2="323.74" stroke="#7c7c7c" stroke-width="0.5"/>
<line x1="122.71" y1="221.10" x2="122.71" y2="323.74" stroke="#7c7c7c" stroke-width="0.5"/>
<line x1="129.82" y1="221.10" x2="129.82" y2="323.74" stroke="#7c7c7c" stroke-width="0.5"/>
<line x1="136.92" y1="221.10" x2="136.92" y2="323.74" stroke="#7c7c7c" stroke-width="0.5"/>
<line x1="144.03" y1="221.10" x2="144.03" y2="323.74" stroke="#7c7c7c" stroke-width="0.5"/>
<line x1="151.14" y1="221.10" x2="151.14" y2="323.74" stroke="#7c7c7c" stroke-width="0.5"/>
<line x1="158.24" y1="221.10" x2="158.24" y2="323.74" stroke="#7c7c7c" stroke-width="0.5"/>
<line x1="165.35" y1="221.10" x2="165.35" y2="323.74" stroke="#7c7c7c" stroke-width="0.5"/>
<line x1="172.46" y1="221.10" x2="172.46" y2="323.74" stroke="#7c7c7c" stroke-width="0.5"/>
<line x1="179.57" y1="221.10" x2="179.57" y2="323.74" stroke="#7c7c7c" stroke-width="0.5"/>
<line x1="186.67" y1="221.10" x2="186.67" y2="323.74" stroke="#7c7c7c" stroke-width="0.5"/>
<line x1="193.78" y1="221.10" x2="193.78" y2="323.74" stroke="#7c7c7c" stroke-width="0.5"/>
<line x1="200.89" y1="221.10" x2="200.89" y2="323.74" stroke="#7c7c7c" stroke-width="0.5"/>
<line x1="207.99" y1="221.10" x2="207.99" y2="323.74" stroke="#7c7c7c" stroke-width="0.5"/>
<text x="56.80" y="226.39" font-size="5.75" font-weight="bold" text-anchor="end" fill="#111">ARID1A</text>
<text x="56.80" y="231.97" font-size="5.75" font-weight="bold" text-anchor="end" fill="#111">ARID1B</text>
<text x="56.80" y="237.55" font-size="5.75" font-weight="bold" text-anchor="end" fill="#111">PBRM1</text>
<text x="56.80" y="243.13" font-size="5.75" font-weight="bold" text-anchor="end" fill="#111">ARID2</text>
<text x="56.80" y="248.71" font-size="5.75" font-weight="bold" text-anchor="end" fill="#111">SMARCB1</text>
<text x="56.80" y="254.29" font-size="5.75" font-weight="bold" text-anchor="end" fill="#111">SMARCA4</text>
<text x="56.80" y="259.87" font-size="5.75" font-weight="bold" text-anchor="end" fill="#111">SMARCA2</text>
<text x="56.80" y="265.45" font-size="5.75" font-weight="bold" text-anchor="end" fill="#111">SMARCC1</text>
<text x="56.80" y="271.03" font-size="5.75" font-weight="bold" text-anchor="end" fill="#111">SMARCC2</text>
<text x="56.80" y="276.61" font-size="5.75" font-weight="normal" text-anchor="end" fill="#3a3a3a">SMARCD2</text>
<text x="56.80" y="282.19" font-size="5.75" font-weight="normal" text-anchor="end" fill="#3a3a3a">SMARCE1</text>
<text x="56.80" y="287.77" font-size="5.75" font-weight="normal" text-anchor="end" fill="#3a3a3a">BRD7</text>
<text x="56.80" y="293.35" font-size="5.75" font-weight="normal" text-anchor="end" fill="#3a3a3a">BCL11B</text>
<text x="56.80" y="298.93" font-size="5.75" font-weight="normal" text-anchor="end" fill="#3a3a3a">SCARCD1</text>
<text x="56.80" y="304.51" font-size="5.75" font-weight="normal" text-anchor="end" fill="#3a3a3a">SCARCD3</text>
<text x="56.80" y="310.09" font-size="5.75" font-weight="normal" text-anchor="end" fill="#3a3a3a">BRD9</text>
<text x="56.80" y="315.67" font-size="5.75" font-weight="normal" text-anchor="end" fill="#3a3a3a">BCL11A</text>
<text x="56.80" y="323.35" font-size="5.75" font-weight="normal" text-anchor="end" fill="#3a3a3a">KDM6A</text>
</g>
<g id="panelC">
<text x="236.90" y="9.40" font-size="11" font-weight="bold" text-anchor="start" fill="#000">C</text>
<text x="308.00" y="24.30" font-size="7.7" font-weight="bold" text-anchor="middle" fill="#222">HT1197</text>
<line x1="267.00" y1="29.08" x2="267.00" y2="86.73" stroke="#000" stroke-width="1.05"/>
<line x1="266.48" y1="86.20" x2="352.72" y2="86.20" stroke="#000" stroke-width="1.05"/>
<line x1="264.80" y1="29.60" x2="267.00" y2="29.60" stroke="#000" stroke-width="1.05"/>
<text x="264.00" y="31.71" font-size="6.2" font-weight="bold" text-anchor="end" fill="#111">150</text>
<line x1="264.80" y1="48.47" x2="267.00" y2="48.47" stroke="#000" stroke-width="1.05"/>
<text x="264.00" y="50.57" font-size="6.2" font-weight="bold" text-anchor="end" fill="#111">100</text>
<line x1="264.80" y1="67.33" x2="267.00" y2="67.33" stroke="#000" stroke-width="1.05"/>
<text x="264.00" y="69.44" font-size="6.2" font-weight="bold" text-anchor="end" fill="#111">50</text>
<line x1="264.80" y1="86.20" x2="267.00" y2="86.20" stroke="#000" stroke-width="1.05"/>
<text x="264.00" y="88.31" font-size="6.2" font-weight="bold" text-anchor="end" fill="#111">0</text>
<line x1="267.00" y1="86.20" x2="267.00" y2="88.40" stroke="#000" stroke-width="1.05"/>
<text x="267.00" y="95.10" font-size="6.2" font-weight="bold" text-anchor="middle" fill="#111">0.0001</text>
<line x1="288.30" y1="86.20" x2="288.30" y2="88.40" stroke="#000" stroke-width="1.05"/>
<text x="288.30" y="95.10" font-size="6.2" font-weight="bold" text-anchor="middle" fill="#111">0.01</text>
<line x1="309.60" y1="86.20" x2="309.60" y2="88.40" stroke="#000" stroke-width="1.05"/>
<text x="309.60" y="95.10" font-size="6.2" font-weight="bold" text-anchor="middle" fill="#111">1</text>
<line x1="330.90" y1="86.20" x2="330.90" y2="88.40" stroke="#000" stroke-width="1.05"/>
<text x="330.90" y="95.10" font-size="6.2" font-weight="bold" text-anchor="middle" fill="#111">100</text>
<line x1="352.20" y1="86.20" x2="352.20" y2="88.40" stroke="#000" stroke-width="1.05"/>
<text x="352.20" y="95.10" font-size="6.2" font-weight="bold" text-anchor="middle" fill="#111">10000</text>
<polyline points="274.45,48.09 275.39,48.21 276.33,48.35 277.26,48.51 278.20,48.69 279.13,48.91 280.07,49.15 281.00,49.44 281.94,49.76 282.87,50.12 283.81,50.54 284.74,51.02 285.68,51.55 286.62,52.15 287.55,52.83 288.49,53.58 289.42,54.41 290.36,55.33 291.29,56.32 292.23,57.40 293.16,58.56 294.10,59.79 295.03,61.09 295.97,62.44 296.91,63.83 297.84,65.25 298.78,66.68 299.71,68.11 300.65,69.51 301.58,70.87 302.52,72.19 303.45,73.44 304.39,74.63 305.32,75.73 306.26,76.76 307.19,77.70 308.13,78.56 309.07,79.33 310.00,80.03 310.94,80.66 311.87,81.22 312.81,81.71 313.74,82.15 314.68,82.53 315.61,82.87 316.55,83.16 317.48,83.42 318.42,83.64 319.36,83.83 320.29,84.00 321.23,84.15 322.16,84.28 323.10,84.39 324.03,84.48 324.97,84.56 325.90,84.63 326.84,84.69 327.77,84.75 328.71,84.79 329.65,84.83 330.58,84.86" fill="none" stroke="#000" stroke-width="1.0" stroke-linejoin="round"/>
<line x1="274.45" y1="46.96" x2="274.45" y2="49.98" stroke="#000" stroke-width="0.7"/>
<line x1="273.06" y1="46.96" x2="275.85" y2="46.96" stroke="#000" stroke-width="0.7"/>
<line x1="273.06" y1="49.98" x2="275.85" y2="49.98" stroke="#000" stroke-width="0.7"/>
<rect x="273.31" y="47.32" width="2.30" height="2.30" fill="#000"/>
<line x1="289.90" y1="52.62" x2="289.90" y2="57.15" stroke="#000" stroke-width="0.7"/>
<line x1="288.50" y1="52.62" x2="291.30" y2="52.62" stroke="#000" stroke-width="0.7"/>
<line x1="288.50" y1="57.15" x2="291.30" y2="57.15" stroke="#000" stroke-width="0.7"/>
<rect x="288.75" y="53.73" width="2.30" height="2.30" fill="#000"/>
<line x1="295.01" y1="59.03" x2="295.01" y2="64.31" stroke="#000" stroke-width="0.7"/>
<line x1="293.61" y1="59.03" x2="296.41" y2="59.03" stroke="#000" stroke-width="0.7"/>
<line x1="293.61" y1="64.31" x2="296.41" y2="64.31" stroke="#000" stroke-width="0.7"/>
<rect x="293.86" y="60.52" width="2.30" height="2.30" fill="#000"/>
<line x1="300.12" y1="68.47" x2="300.12" y2="72.99" stroke="#000" stroke-width="0.7"/>
<line x1="298.72" y1="68.47" x2="301.52" y2="68.47" stroke="#000" stroke-width="0.7"/>
<line x1="298.72" y1="72.99" x2="301.52" y2="72.99" stroke="#000" stroke-width="0.7"/>
<rect x="298.97" y="69.58" width="2.30" height="2.30" fill="#000"/>
<line x1="305.13" y1="74.13" x2="305.13" y2="77.90" stroke="#000" stroke-width="0.7"/>
<line x1="303.73" y1="74.13" x2="306.53" y2="74.13" stroke="#000" stroke-width="0.7"/>
<line x1="303.73" y1="77.90" x2="306.53" y2="77.90" stroke="#000" stroke-width="0.7"/>
<rect x="303.98" y="74.86" width="2.30" height="2.30" fill="#000"/>
<line x1="310.24" y1="78.65" x2="310.24" y2="83.18" stroke="#000" stroke-width="0.7"/>
<line x1="308.84" y1="78.65" x2="311.64" y2="78.65" stroke="#000" stroke-width="0.7"/>
<line x1="308.84" y1="83.18" x2="311.64" y2="83.18" stroke="#000" stroke-width="0.7"/>
<rect x="309.09" y="79.77" width="2.30" height="2.30" fill="#000"/>
<line x1="315.35" y1="82.43" x2="315.35" y2="83.94" stroke="#000" stroke-width="0.7"/>
<line x1="313.95" y1="82.43" x2="316.75" y2="82.43" stroke="#000" stroke-width="0.7"/>
<line x1="313.95" y1="83.94" x2="316.75" y2="83.94" stroke="#000" stroke-width="0.7"/>
<rect x="314.20" y="82.03" width="2.30" height="2.30" fill="#000"/>
<line x1="320.25" y1="83.75" x2="320.25" y2="84.88" stroke="#000" stroke-width="0.7"/>
<line x1="318.85" y1="83.75" x2="321.65" y2="83.75" stroke="#000" stroke-width="0.7"/>
<line x1="318.85" y1="84.88" x2="321.65" y2="84.88" stroke="#000" stroke-width="0.7"/>
<rect x="319.10" y="83.16" width="2.30" height="2.30" fill="#000"/>
<line x1="325.57" y1="84.12" x2="325.57" y2="85.26" stroke="#000" stroke-width="0.7"/>
<line x1="324.18" y1="84.12" x2="326.97" y2="84.12" stroke="#000" stroke-width="0.7"/>
<line x1="324.18" y1="85.26" x2="326.97" y2="85.26" stroke="#000" stroke-width="0.7"/>
<rect x="324.43" y="83.54" width="2.30" height="2.30" fill="#000"/>
<line x1="330.58" y1="83.94" x2="330.58" y2="85.45" stroke="#000" stroke-width="0.7"/>
<line x1="329.18" y1="83.94" x2="331.98" y2="83.94" stroke="#000" stroke-width="0.7"/>
<line x1="329.18" y1="85.45" x2="331.98" y2="85.45" stroke="#000" stroke-width="0.7"/>
<rect x="329.43" y="83.54" width="2.30" height="2.30" fill="#000"/>
<text x="432.00" y="24.57" font-size="7.7" font-weight="bold" text-anchor="middle" fill="#222">T24</text>
<line x1="389.60" y1="29.88" x2="389.60" y2="87.62" stroke="#000" stroke-width="1.05"/>
<line x1="389.08" y1="87.10" x2="475.32" y2="87.10" stroke="#000" stroke-width="1.05"/>
<line x1="387.40" y1="30.40" x2="389.60" y2="30.40" stroke="#000" stroke-width="1.05"/>
<text x="386.60" y="32.51" font-size="6.2" font-weight="bold" text-anchor="end" fill="#111">150</text>
<line x1="387.40" y1="49.30" x2="389.60" y2="49.30" stroke="#000" stroke-width="1.05"/>
<text x="386.60" y="51.41" font-size="6.2" font-weight="bold" text-anchor="end" fill="#111">100</text>
<line x1="387.40" y1="68.20" x2="389.60" y2="68.20" stroke="#000" stroke-width="1.05"/>
<text x="386.60" y="70.31" font-size="6.2" font-weight="bold" text-anchor="end" fill="#111">50</text>
<line x1="387.40" y1="87.10" x2="389.60" y2="87.10" stroke="#000" stroke-width="1.05"/>
<text x="386.60" y="89.21" font-size="6.2" font-weight="bold" text-anchor="end" fill="#111">0</text>
<line x1="389.60" y1="87.10" x2="389.60" y2="89.30" stroke="#000" stroke-width="1.05"/>
<text x="389.60" y="96.00" font-size="6.2" font-weight="bold" text-anchor="middle" fill="#111">0.0001</text>
<line x1="410.90" y1="87.10" x2="410.90" y2="89.30" stroke="#000" stroke-width="1.05"/>
<text x="410.90" y="96.00" font-size="6.2" font-weight="bold" text-anchor="middle" fill="#111">0.01</text>
<line x1="432.20" y1="87.10" x2="432.20" y2="89.30" stroke="#000" stroke-width="1.05"/>
<text x="432.20" y="96.00" font-size="6.2" font-weight="bold" text-anchor="middle" fill="#111">1</text>
<line x1="453.50" y1="87.10" x2="453.50" y2="89.30" stroke="#000" stroke-width="1.05"/>
<text x="453.50" y="96.00" font-size="6.2" font-weight="bold" text-anchor="middle" fill="#111">100</text>
<line x1="474.80" y1="87.10" x2="474.80" y2="89.30" stroke="#000" stroke-width="1.05"/>
<text x="474.80" y="96.00" font-size="6.2" font-weight="bold" text-anchor="middle" fill="#111">10000</text>
<polyline points="397.06,50.20 397.99,50.23 398.93,50.26 399.87,50.30 400.80,50.35 401.74,50.41 402.68,50.47 403.62,50.55 404.55,50.64 405.49,50.74 406.43,50.87 407.36,51.02 408.30,51.20 409.24,51.40 410.18,51.65 411.11,51.93 412.05,52.26 412.99,52.64 413.92,53.09 414.86,53.61 415.80,54.20 416.74,54.88 417.67,55.65 418.61,56.52 419.55,57.49 420.49,58.56 421.42,59.74 422.36,61.02 423.30,62.40 424.23,63.85 425.17,65.37 426.11,66.94 427.05,68.53 427.98,70.12 428.92,71.69 429.86,73.22 430.79,74.68 431.73,76.06 432.67,77.34 433.61,78.53 434.54,79.61 435.48,80.59 436.42,81.46 437.35,82.24 438.29,82.92 439.23,83.52 440.17,84.04 441.10,84.49 442.04,84.88 442.98,85.21 443.92,85.50 444.85,85.74 445.79,85.95 446.73,86.13 447.66,86.28 448.60,86.40 449.54,86.51 450.48,86.60 451.41,86.68 452.35,86.75 453.29,86.80" fill="none" stroke="#000" stroke-width="1.0" stroke-linejoin="round"/>
<line x1="397.06" y1="45.14" x2="397.06" y2="54.21" stroke="#000" stroke-width="0.7"/>
<line x1="395.66" y1="45.14" x2="398.45" y2="45.14" stroke="#000" stroke-width="0.7"/>
<line x1="395.66" y1="54.21" x2="398.45" y2="54.21" stroke="#000" stroke-width="0.7"/>
<rect x="395.91" y="48.53" width="2.30" height="2.30" fill="#000"/>
<line x1="412.82" y1="49.30" x2="412.82" y2="55.35" stroke="#000" stroke-width="0.7"/>
<line x1="411.42" y1="49.30" x2="414.22" y2="49.30" stroke="#000" stroke-width="0.7"/>
<line x1="411.42" y1="55.35" x2="414.22" y2="55.35" stroke="#000" stroke-width="0.7"/>
<rect x="411.67" y="51.17" width="2.30" height="2.30" fill="#000"/>
<line x1="417.82" y1="54.59" x2="417.82" y2="59.88" stroke="#000" stroke-width="0.7"/>
<line x1="416.42" y1="54.59" x2="419.22" y2="54.59" stroke="#000" stroke-width="0.7"/>
<line x1="416.42" y1="59.88" x2="419.22" y2="59.88" stroke="#000" stroke-width="0.7"/>
<rect x="416.67" y="56.09" width="2.30" height="2.30" fill="#000"/>
<line x1="422.83" y1="59.13" x2="422.83" y2="64.42" stroke="#000" stroke-width="0.7"/>
<line x1="421.43" y1="59.13" x2="424.23" y2="59.13" stroke="#000" stroke-width="0.7"/>
<line x1="421.43" y1="64.42" x2="424.23" y2="64.42" stroke="#000" stroke-width="0.7"/>
<rect x="421.68" y="60.62" width="2.30" height="2.30" fill="#000"/>
<line x1="427.94" y1="67.07" x2="427.94" y2="71.60" stroke="#000" stroke-width="0.7"/>
<line x1="426.54" y1="67.07" x2="429.34" y2="67.07" stroke="#000" stroke-width="0.7"/>
<line x1="426.54" y1="71.60" x2="429.34" y2="71.60" stroke="#000" stroke-width="0.7"/>
<rect x="426.79" y="68.18" width="2.30" height="2.30" fill="#000"/>
<line x1="432.95" y1="77.65" x2="432.95" y2="79.16" stroke="#000" stroke-width="0.7"/>
<line x1="431.55" y1="77.65" x2="434.35" y2="77.65" stroke="#000" stroke-width="0.7"/>
<line x1="431.55" y1="79.16" x2="434.35" y2="79.16" stroke="#000" stroke-width="0.7"/>
<rect x="431.80" y="77.26" width="2.30" height="2.30" fill="#000"/>
<line x1="438.06" y1="83.51" x2="438.06" y2="84.64" stroke="#000" stroke-width="0.7"/>
<line x1="436.66" y1="83.51" x2="439.46" y2="83.51" stroke="#000" stroke-width="0.7"/>
<line x1="436.66" y1="84.64" x2="439.46" y2="84.64" stroke="#000" stroke-width="0.7"/>
<rect x="436.91" y="82.93" width="2.30" height="2.30" fill="#000"/>
<line x1="443.17" y1="85.40" x2="443.17" y2="86.53" stroke="#000" stroke-width="0.7"/>
<line x1="441.77" y1="85.40" x2="444.57" y2="85.40" stroke="#000" stroke-width="0.7"/>
<line x1="441.77" y1="86.53" x2="444.57" y2="86.53" stroke="#000" stroke-width="0.7"/>
<rect x="442.02" y="84.82" width="2.30" height="2.30" fill="#000"/>
<line x1="448.18" y1="86.16" x2="448.18" y2="86.91" stroke="#000" stroke-width="0.7"/>
<line x1="446.78" y1="86.16" x2="449.57" y2="86.16" stroke="#000" stroke-width="0.7"/>
<line x1="446.78" y1="86.91" x2="449.57" y2="86.91" stroke="#000" stroke-width="0.7"/>
<rect x="447.03" y="85.38" width="2.30" height="2.30" fill="#000"/>
<line x1="453.29" y1="86.34" x2="453.29" y2="87.10" stroke="#000" stroke-width="0.7"/>
<line x1="451.89" y1="86.34" x2="454.69" y2="86.34" stroke="#000" stroke-width="0.7"/>
<line x1="451.89" y1="87.10" x2="454.69" y2="87.10" stroke="#000" stroke-width="0.7"/>
<rect x="452.14" y="85.57" width="2.30" height="2.30" fill="#000"/>
<text x="247.60" y="55.90" font-size="6.5" font-weight="bold" text-anchor="middle" fill="#111" transform="rotate(-90 247.60 55.90)">Ratio H3K27me3/H3 (%)</text>
<text x="320.60" y="106.40" font-size="6.5" font-weight="bold" text-anchor="middle" fill="#111">Tulmimetostat (nmol/L)</text>
<text x="443.80" y="106.40" font-size="6.5" font-weight="bold" text-anchor="middle" fill="#111">Tulmimetostat (nmol/L)</text>
</g>
<g id="panelD">
<text x="236.70" y="120.70" font-size="11" font-weight="bold" text-anchor="start" fill="#000">D</text>
<text x="308.50" y="132.00" font-size="7.7" font-weight="bold" text-anchor="middle" fill="#222">HT1197</text>
<polyline points="277.60,155.04 278.92,155.10 280.24,155.17 281.56,155.24 282.88,155.31 284.20,155.39 285.52,155.48 286.84,155.57 288.16,155.66 289.48,155.76 290.80,155.87 292.12,155.98 293.44,156.10 294.76,156.23 296.08,156.35 297.40,156.49 298.72,156.62 300.04,156.76 301.36,156.91 302.68,157.05 304.00,157.20 305.32,157.35 306.64,157.50 307.96,157.65 309.28,157.79 310.60,157.94 311.92,158.08 313.24,158.22 314.56,158.36 315.88,158.50 317.20,158.63 318.52,158.75 319.84,158.87 321.16,158.99 322.48,159.10 323.80,159.20 325.12,159.30 326.44,159.39 327.76,159.48 329.08,159.56 330.40,159.64 331.72,159.71 333.04,159.77 334.36,159.84 335.68,159.89 337.00,159.95 338.32,160.00 339.64,160.04 340.96,160.08 342.28,160.12 343.60,160.16" fill="none" stroke="#8fb8e8" stroke-width="1.0" stroke-linejoin="round"/>
<line x1="277.60" y1="149.74" x2="277.60" y2="158.99" stroke="#8fb8e8" stroke-width="0.7"/>
<line x1="276.30" y1="149.74" x2="278.90" y2="149.74" stroke="#8fb8e8" stroke-width="0.7"/>
<line x1="276.30" y1="158.99" x2="278.90" y2="158.99" stroke="#8fb8e8" stroke-width="0.7"/>
<circle cx="277.60" cy="154.37" r="1.0" fill="#8fb8e8"/>
<line x1="290.85" y1="153.98" x2="290.85" y2="160.15" stroke="#8fb8e8" stroke-width="0.7"/>
<line x1="289.55" y1="153.98" x2="292.15" y2="153.98" stroke="#8fb8e8" stroke-width="0.7"/>
<line x1="289.55" y1="160.15" x2="292.15" y2="160.15" stroke="#8fb8e8" stroke-width="0.7"/>
<circle cx="290.85" cy="157.06" r="1.0" fill="#8fb8e8"/>
<line x1="297.47" y1="154.75" x2="297.47" y2="159.38" stroke="#8fb8e8" stroke-width="0.7"/>
<line x1="296.17" y1="154.75" x2="298.77" y2="154.75" stroke="#8fb8e8" stroke-width="0.7"/>
<line x1="296.17" y1="159.38" x2="298.77" y2="159.38" stroke="#8fb8e8" stroke-width="0.7"/>
<circle cx="297.47" cy="157.06" r="1.0" fill="#8fb8e8"/>
<line x1="304.09" y1="156.68" x2="304.09" y2="159.76" stroke="#8fb8e8" stroke-width="0.7"/>
<line x1="302.79" y1="156.68" x2="305.39" y2="156.68" stroke="#8fb8e8" stroke-width="0.7"/>
<line x1="302.79" y1="159.76" x2="305.39" y2="159.76" stroke="#8fb8e8" stroke-width="0.7"/>
<circle cx="304.09" cy="158.22" r="1.0" fill="#8fb8e8"/>
<line x1="310.41" y1="157.83" x2="310.41" y2="160.15" stroke="#8fb8e8" stroke-width="0.7"/>
<line x1="309.11" y1="157.83" x2="311.71" y2="157.83" stroke="#8fb8e8" stroke-width="0.7"/>
<line x1="309.11" y1="160.15" x2="311.71" y2="160.15" stroke="#8fb8e8" stroke-width="0.7"/>
<circle cx="310.41" cy="158.99" r="1.0" fill="#8fb8e8"/>
<line x1="317.19" y1="156.68" x2="317.19" y2="159.76" stroke="#8fb8e8" stroke-width="0.7"/>
<line x1="315.89" y1="156.68" x2="318.49" y2="156.68" stroke="#8fb8e8" stroke-width="0.7"/>
<line x1="315.89" y1="159.76" x2="318.49" y2="159.76" stroke="#8fb8e8" stroke-width="0.7"/>
<circle cx="317.19" cy="158.22" r="1.0" fill="#8fb8e8"/>
<line x1="323.73" y1="157.45" x2="323.73" y2="160.53" stroke="#8fb8e8" stroke-width="0.7"/>
<line x1="322.43" y1="157.45" x2="325.03" y2="157.45" stroke="#8fb8e8" stroke-width="0.7"/>
<line x1="322.43" y1="160.53" x2="325.03" y2="160.53" stroke="#8fb8e8" stroke-width="0.7"/>
<circle cx="323.73" cy="158.99" r="1.0" fill="#8fb8e8"/>
<line x1="330.35" y1="156.68" x2="330.35" y2="162.84" stroke="#8fb8e8" stroke-width="0.7"/>
<line x1="329.05" y1="156.68" x2="331.65" y2="156.68" stroke="#8fb8e8" stroke-width="0.7"/>
<line x1="329.05" y1="162.84" x2="331.65" y2="162.84" stroke="#8fb8e8" stroke-width="0.7"/>
<circle cx="330.35" cy="159.76" r="1.0" fill="#8fb8e8"/>
<line x1="336.98" y1="157.83" x2="336.98" y2="160.92" stroke="#8fb8e8" stroke-width="0.7"/>
<line x1="335.68" y1="157.83" x2="338.28" y2="157.83" stroke="#8fb8e8" stroke-width="0.7"/>
<line x1="335.68" y1="160.92" x2="338.28" y2="160.92" stroke="#8fb8e8" stroke-width="0.7"/>
<circle cx="336.98" cy="159.38" r="1.0" fill="#8fb8e8"/>
<line x1="343.60" y1="159.76" x2="343.60" y2="162.07" stroke="#8fb8e8" stroke-width="0.7"/>
<line x1="342.30" y1="159.76" x2="344.90" y2="159.76" stroke="#8fb8e8" stroke-width="0.7"/>
<line x1="342.30" y1="162.07" x2="344.90" y2="162.07" stroke="#8fb8e8" stroke-width="0.7"/>
<circle cx="343.60" cy="160.92" r="1.0" fill="#8fb8e8"/>
<polyline points="277.60,154.43 278.92,154.45 280.24,154.49 281.56,154.54 282.88,154.61 284.20,154.71 285.52,154.86 286.84,155.06 288.16,155.35 289.48,155.74 290.80,156.26 292.12,156.97 293.44,157.87 294.76,158.98 296.08,160.31 297.40,161.80 298.72,163.38 300.04,164.95 301.36,166.42 302.68,167.71 304.00,168.78 305.32,169.64 306.64,170.31 307.96,170.81 309.28,171.17 310.60,171.44 311.92,171.63 313.24,171.77 314.56,171.86 315.88,171.93 317.20,171.98 318.52,172.01 319.84,172.04 321.16,172.05 322.48,172.07 323.80,172.07 325.12,172.08 326.44,172.08 327.76,172.09 329.08,172.09 330.40,172.09 331.72,172.09 333.04,172.09 334.36,172.09 335.68,172.09 337.00,172.09 338.32,172.09 339.64,172.09 340.96,172.09 342.28,172.09 343.60,172.09" fill="none" stroke="#2f6fd0" stroke-width="1.0" stroke-linejoin="round"/>
<line x1="277.60" y1="150.51" x2="277.60" y2="158.22" stroke="#2f6fd0" stroke-width="0.7"/>
<line x1="276.30" y1="150.51" x2="278.90" y2="150.51" stroke="#2f6fd0" stroke-width="0.7"/>
<line x1="276.30" y1="158.22" x2="278.90" y2="158.22" stroke="#2f6fd0" stroke-width="0.7"/>
<rect x="276.60" y="153.37" width="2.00" height="2.00" fill="#2f6fd0"/>
<line x1="290.85" y1="154.37" x2="290.85" y2="160.53" stroke="#2f6fd0" stroke-width="0.7"/>
<line x1="289.55" y1="154.37" x2="292.15" y2="154.37" stroke="#2f6fd0" stroke-width="0.7"/>
<line x1="289.55" y1="160.53" x2="292.15" y2="160.53" stroke="#2f6fd0" stroke-width="0.7"/>
<rect x="289.85" y="156.45" width="2.00" height="2.00" fill="#2f6fd0"/>
<line x1="297.47" y1="157.83" x2="297.47" y2="167.08" stroke="#2f6fd0" stroke-width="0.7"/>
<line x1="296.17" y1="157.83" x2="298.77" y2="157.83" stroke="#2f6fd0" stroke-width="0.7"/>
<line x1="296.17" y1="167.08" x2="298.77" y2="167.08" stroke="#2f6fd0" stroke-width="0.7"/>
<rect x="296.47" y="161.46" width="2.00" height="2.00" fill="#2f6fd0"/>
<line x1="304.09" y1="165.93" x2="304.09" y2="172.09" stroke="#2f6fd0" stroke-width="0.7"/>
<line x1="302.79" y1="165.93" x2="305.39" y2="165.93" stroke="#2f6fd0" stroke-width="0.7"/>
<line x1="302.79" y1="172.09" x2="305.39" y2="172.09" stroke="#2f6fd0" stroke-width="0.7"/>
<rect x="303.09" y="168.01" width="2.00" height="2.00" fill="#2f6fd0"/>
<line x1="310.41" y1="171.32" x2="310.41" y2="174.40" stroke="#2f6fd0" stroke-width="0.7"/>
<line x1="309.11" y1="171.32" x2="311.71" y2="171.32" stroke="#2f6fd0" stroke-width="0.7"/>
<line x1="309.11" y1="174.40" x2="311.71" y2="174.40" stroke="#2f6fd0" stroke-width="0.7"/>
<rect x="309.41" y="171.86" width="2.00" height="2.00" fill="#2f6fd0"/>
<line x1="317.19" y1="168.62" x2="317.19" y2="174.79" stroke="#2f6fd0" stroke-width="0.7"/>
<line x1="315.89" y1="168.62" x2="318.49" y2="168.62" stroke="#2f6fd0" stroke-width="0.7"/>
<line x1="315.89" y1="174.79" x2="318.49" y2="174.79" stroke="#2f6fd0" stroke-width="0.7"/>
<rect x="316.19" y="170.71" width="2.00" height="2.00" fill="#2f6fd0"/>
<line x1="323.73" y1="167.85" x2="323.73" y2="175.56" stroke="#2f6fd0" stroke-width="0.7"/>
<line x1="322.43" y1="167.85" x2="325.03" y2="167.85" stroke="#2f6fd0" stroke-width="0.7"/>
<line x1="322.43" y1="175.56" x2="325.03" y2="175.56" stroke="#2f6fd0" stroke-width="0.7"/>
<rect x="322.73" y="170.71" width="2.00" height="2.00" fill="#2f6fd0"/>
<line x1="330.35" y1="169.01" x2="330.35" y2="176.72" stroke="#2f6fd0" stroke-width="0.7"/>
<line x1="329.05" y1="169.01" x2="331.65" y2="169.01" stroke="#2f6fd0" stroke-width="0.7"/>
<line x1="329.05" y1="176.72" x2="331.65" y2="176.72" stroke="#2f6fd0" stroke-width="0.7"/>
<rect x="329.35" y="171.86" width="2.00" height="2.00" fill="#2f6fd0"/>
<line x1="336.98" y1="167.08" x2="336.98" y2="176.33" stroke="#2f6fd0" stroke-width="0.7"/>
<line x1="335.68" y1="167.08" x2="338.28" y2="167.08" stroke="#2f6fd0" stroke-width="0.7"/>
<line x1="335.68" y1="176.33" x2="338.28" y2="176.33" stroke="#2f6fd0" stroke-width="0.7"/>
<rect x="335.98" y="170.71" width="2.00" height="2.00" fill="#2f6fd0"/>
<line x1="343.60" y1="169.39" x2="343.60" y2="175.56" stroke="#2f6fd0" stroke-width="0.7"/>
<line x1="342.30" y1="169.39" x2="344.90" y2="169.39" stroke="#2f6fd0" stroke-width="0.7"/>
<line x1="342.30" y1="175.56" x2="344.90" y2="175.56" stroke="#2f6fd0" stroke-width="0.7"/>
<rect x="342.60" y="171.48" width="2.00" height="2.00" fill="#2f6fd0"/>
<polyline points="277.60,152.93 278.92,154.78 280.24,156.83 281.56,159.07 282.88,161.46 284.20,163.95 285.52,166.48 286.84,168.99 288.16,171.42 289.48,173.73 290.80,175.86 292.12,177.80 293.44,179.53 294.76,181.04 296.08,182.34 297.40,183.45 298.72,184.39 300.04,185.17 301.36,185.82 302.68,186.36 304.00,186.79 305.32,187.15 306.64,187.44 307.96,187.68 309.28,187.87 310.60,188.03 311.92,188.15 313.24,188.25 314.56,188.33 315.88,188.40 317.20,188.45 318.52,188.49 319.84,188.52 321.16,188.55 322.48,188.57 323.80,188.59 325.12,188.60 326.44,188.62 327.76,188.62 329.08,188.63 330.40,188.64 331.72,188.64 333.04,188.65 334.36,188.65 335.68,188.65 337.00,188.65 338.32,188.66 339.64,188.66 340.96,188.66 342.28,188.66 343.60,188.66" fill="none" stroke="#1c2f6e" stroke-width="1.0" stroke-linejoin="round"/>
<line x1="277.60" y1="148.97" x2="277.60" y2="159.76" stroke="#1c2f6e" stroke-width="0.7"/>
<line x1="276.30" y1="148.97" x2="278.90" y2="148.97" stroke="#1c2f6e" stroke-width="0.7"/>
<line x1="276.30" y1="159.76" x2="278.90" y2="159.76" stroke="#1c2f6e" stroke-width="0.7"/>
<polygon points="277.60,153.17 276.50,155.27 278.70,155.27" fill="#1c2f6e"/>
<line x1="290.85" y1="170.94" x2="290.85" y2="178.64" stroke="#1c2f6e" stroke-width="0.7"/>
<line x1="289.55" y1="170.94" x2="292.15" y2="170.94" stroke="#1c2f6e" stroke-width="0.7"/>
<line x1="289.55" y1="178.64" x2="292.15" y2="178.64" stroke="#1c2f6e" stroke-width="0.7"/>
<polygon points="290.85,173.59 289.75,175.69 291.95,175.69" fill="#1c2f6e"/>
<line x1="297.47" y1="180.18" x2="297.47" y2="187.12" stroke="#1c2f6e" stroke-width="0.7"/>
<line x1="296.17" y1="180.18" x2="298.77" y2="180.18" stroke="#1c2f6e" stroke-width="0.7"/>
<line x1="296.17" y1="187.12" x2="298.77" y2="187.12" stroke="#1c2f6e" stroke-width="0.7"/>
<polygon points="297.47,182.45 296.37,184.55 298.57,184.55" fill="#1c2f6e"/>
<line x1="304.09" y1="184.42" x2="304.09" y2="189.05" stroke="#1c2f6e" stroke-width="0.7"/>
<line x1="302.79" y1="184.42" x2="305.39" y2="184.42" stroke="#1c2f6e" stroke-width="0.7"/>
<line x1="302.79" y1="189.05" x2="305.39" y2="189.05" stroke="#1c2f6e" stroke-width="0.7"/>
<polygon points="304.09,185.53 302.99,187.63 305.19,187.63" fill="#1c2f6e"/>
<line x1="310.41" y1="186.35" x2="310.41" y2="190.20" stroke="#1c2f6e" stroke-width="0.7"/>
<line x1="309.11" y1="186.35" x2="311.71" y2="186.35" stroke="#1c2f6e" stroke-width="0.7"/>
<line x1="309.11" y1="190.20" x2="311.71" y2="190.20" stroke="#1c2f6e" stroke-width="0.7"/>
<polygon points="310.41,187.08 309.31,189.18 311.51,189.18" fill="#1c2f6e"/>
<line x1="317.19" y1="186.73" x2="317.19" y2="189.82" stroke="#1c2f6e" stroke-width="0.7"/>
<line x1="315.89" y1="186.73" x2="318.49" y2="186.73" stroke="#1c2f6e" stroke-width="0.7"/>
<line x1="315.89" y1="189.82" x2="318.49" y2="189.82" stroke="#1c2f6e" stroke-width="0.7"/>
<polygon points="317.19,187.08 316.09,189.18 318.29,189.18" fill="#1c2f6e"/>
<line x1="323.73" y1="185.58" x2="323.73" y2="190.20" stroke="#1c2f6e" stroke-width="0.7"/>
<line x1="322.43" y1="185.58" x2="325.03" y2="185.58" stroke="#1c2f6e" stroke-width="0.7"/>
<line x1="322.43" y1="190.20" x2="325.03" y2="190.20" stroke="#1c2f6e" stroke-width="0.7"/>
<polygon points="323.73,186.69 322.63,188.79 324.83,188.79" fill="#1c2f6e"/>
<line x1="330.35" y1="186.73" x2="330.35" y2="189.82" stroke="#1c2f6e" stroke-width="0.7"/>
<line x1="329.05" y1="186.73" x2="331.65" y2="186.73" stroke="#1c2f6e" stroke-width="0.7"/>
<line x1="329.05" y1="189.82" x2="331.65" y2="189.82" stroke="#1c2f6e" stroke-width="0.7"/>
<polygon points="330.35,187.08 329.25,189.18 331.45,189.18" fill="#1c2f6e"/>
<line x1="336.98" y1="186.35" x2="336.98" y2="190.20" stroke="#1c2f6e" stroke-width="0.7"/>
<line x1="335.68" y1="186.35" x2="338.28" y2="186.35" stroke="#1c2f6e" stroke-width="0.7"/>
<line x1="335.68" y1="190.20" x2="338.28" y2="190.20" stroke="#1c2f6e" stroke-width="0.7"/>
<polygon points="336.98,187.08 335.88,189.18 338.08,189.18" fill="#1c2f6e"/>
<line x1="343.60" y1="187.12" x2="343.60" y2="190.20" stroke="#1c2f6e" stroke-width="0.7"/>
<line x1="342.30" y1="187.12" x2="344.90" y2="187.12" stroke="#1c2f6e" stroke-width="0.7"/>
<line x1="342.30" y1="190.20" x2="344.90" y2="190.20" stroke="#1c2f6e" stroke-width="0.7"/>
<polygon points="343.60,187.46 342.50,189.56 344.70,189.56" fill="#1c2f6e"/>
<line x1="267.00" y1="134.57" x2="267.00" y2="193.43" stroke="#000" stroke-width="1.05"/>
<line x1="266.48" y1="192.90" x2="353.52" y2="192.90" stroke="#000" stroke-width="1.05"/>
<line x1="264.80" y1="135.10" x2="267.00" y2="135.10" stroke="#000" stroke-width="1.05"/>
<text x="264.00" y="137.21" font-size="6.2" font-weight="bold" text-anchor="end" fill="#111">150</text>
<line x1="264.80" y1="154.37" x2="267.00" y2="154.37" stroke="#000" stroke-width="1.05"/>
<text x="264.00" y="156.47" font-size="6.2" font-weight="bold" text-anchor="end" fill="#111">100</text>
<line x1="264.80" y1="173.63" x2="267.00" y2="173.63" stroke="#000" stroke-width="1.05"/>
<text x="264.00" y="175.74" font-size="6.2" font-weight="bold" text-anchor="end" fill="#111">50</text>
<line x1="264.80" y1="192.90" x2="267.00" y2="192.90" stroke="#000" stroke-width="1.05"/>
<text x="264.00" y="195.01" font-size="6.2" font-weight="bold" text-anchor="end" fill="#111">0</text>
<line x1="277.60" y1="192.90" x2="277.60" y2="195.10" stroke="#000" stroke-width="1.05"/>
<text x="277.60" y="201.80" font-size="6.2" font-weight="bold" text-anchor="middle" fill="#111">0.001</text>
<line x1="299.60" y1="192.90" x2="299.60" y2="195.10" stroke="#000" stroke-width="1.05"/>
<text x="299.60" y="201.80" font-size="6.2" font-weight="bold" text-anchor="middle" fill="#111">0.01</text>
<line x1="321.60" y1="192.90" x2="321.60" y2="195.10" stroke="#000" stroke-width="1.05"/>
<text x="321.60" y="201.80" font-size="6.2" font-weight="bold" text-anchor="middle" fill="#111">0.1</text>
<line x1="343.60" y1="192.90" x2="343.60" y2="195.10" stroke="#000" stroke-width="1.05"/>
<text x="343.60" y="201.80" font-size="6.2" font-weight="bold" text-anchor="middle" fill="#111">1</text>
<text x="432.00" y="132.00" font-size="7.7" font-weight="bold" text-anchor="middle" fill="#222">T24</text>
<polyline points="401.36,158.35 413.79,158.35 420.35,158.35 426.91,158.73 433.50,159.12 440.05,159.50 446.61,159.88 453.18,158.73 459.74,151.07 466.30,150.68" fill="none" stroke="#8fb8e8" stroke-width="1.0" stroke-linejoin="round"/>
<line x1="401.36" y1="154.90" x2="401.36" y2="165.63" stroke="#8fb8e8" stroke-width="0.7"/>
<line x1="400.06" y1="154.90" x2="402.66" y2="154.90" stroke="#8fb8e8" stroke-width="0.7"/>
<line x1="400.06" y1="165.63" x2="402.66" y2="165.63" stroke="#8fb8e8" stroke-width="0.7"/>
<circle cx="401.36" cy="160.27" r="1.0" fill="#8fb8e8"/>
<line x1="413.79" y1="151.83" x2="413.79" y2="159.50" stroke="#8fb8e8" stroke-width="0.7"/>
<line x1="412.49" y1="151.83" x2="415.09" y2="151.83" stroke="#8fb8e8" stroke-width="0.7"/>
<line x1="412.49" y1="159.50" x2="415.09" y2="159.50" stroke="#8fb8e8" stroke-width="0.7"/>
<circle cx="413.79" cy="155.67" r="1.0" fill="#8fb8e8"/>
<line x1="420.35" y1="150.30" x2="420.35" y2="167.17" stroke="#8fb8e8" stroke-width="0.7"/>
<line x1="419.05" y1="150.30" x2="421.65" y2="150.30" stroke="#8fb8e8" stroke-width="0.7"/>
<line x1="419.05" y1="167.17" x2="421.65" y2="167.17" stroke="#8fb8e8" stroke-width="0.7"/>
<circle cx="420.35" cy="158.73" r="1.0" fill="#8fb8e8"/>
<line x1="426.91" y1="151.83" x2="426.91" y2="162.57" stroke="#8fb8e8" stroke-width="0.7"/>
<line x1="425.61" y1="151.83" x2="428.21" y2="151.83" stroke="#8fb8e8" stroke-width="0.7"/>
<line x1="425.61" y1="162.57" x2="428.21" y2="162.57" stroke="#8fb8e8" stroke-width="0.7"/>
<circle cx="426.91" cy="157.20" r="1.0" fill="#8fb8e8"/>
<line x1="433.50" y1="151.07" x2="433.50" y2="160.27" stroke="#8fb8e8" stroke-width="0.7"/>
<line x1="432.20" y1="151.07" x2="434.80" y2="151.07" stroke="#8fb8e8" stroke-width="0.7"/>
<line x1="432.20" y1="160.27" x2="434.80" y2="160.27" stroke="#8fb8e8" stroke-width="0.7"/>
<circle cx="433.50" cy="155.67" r="1.0" fill="#8fb8e8"/>
<line x1="440.05" y1="147.23" x2="440.05" y2="157.97" stroke="#8fb8e8" stroke-width="0.7"/>
<line x1="438.75" y1="147.23" x2="441.35" y2="147.23" stroke="#8fb8e8" stroke-width="0.7"/>
<line x1="438.75" y1="157.97" x2="441.35" y2="157.97" stroke="#8fb8e8" stroke-width="0.7"/>
<circle cx="440.05" cy="152.60" r="1.0" fill="#8fb8e8"/>
<line x1="446.61" y1="151.83" x2="446.61" y2="159.50" stroke="#8fb8e8" stroke-width="0.7"/>
<line x1="445.31" y1="151.83" x2="447.91" y2="151.83" stroke="#8fb8e8" stroke-width="0.7"/>
<line x1="445.31" y1="159.50" x2="447.91" y2="159.50" stroke="#8fb8e8" stroke-width="0.7"/>
<circle cx="446.61" cy="155.67" r="1.0" fill="#8fb8e8"/>
<line x1="453.18" y1="152.98" x2="453.18" y2="162.18" stroke="#8fb8e8" stroke-width="0.7"/>
<line x1="451.88" y1="152.98" x2="454.48" y2="152.98" stroke="#8fb8e8" stroke-width="0.7"/>
<line x1="451.88" y1="162.18" x2="454.48" y2="162.18" stroke="#8fb8e8" stroke-width="0.7"/>
<circle cx="453.18" cy="157.58" r="1.0" fill="#8fb8e8"/>
<line x1="459.74" y1="148.77" x2="459.74" y2="153.37" stroke="#8fb8e8" stroke-width="0.7"/>
<line x1="458.44" y1="148.77" x2="461.04" y2="148.77" stroke="#8fb8e8" stroke-width="0.7"/>
<line x1="458.44" y1="153.37" x2="461.04" y2="153.37" stroke="#8fb8e8" stroke-width="0.7"/>
<circle cx="459.74" cy="151.07" r="1.0" fill="#8fb8e8"/>
<line x1="466.30" y1="149.53" x2="466.30" y2="151.83" stroke="#8fb8e8" stroke-width="0.7"/>
<line x1="465.00" y1="149.53" x2="467.60" y2="149.53" stroke="#8fb8e8" stroke-width="0.7"/>
<line x1="465.00" y1="151.83" x2="467.60" y2="151.83" stroke="#8fb8e8" stroke-width="0.7"/>
<circle cx="466.30" cy="150.68" r="1.0" fill="#8fb8e8"/>
<polyline points="401.36,152.98 413.79,152.98 420.35,152.98 426.91,152.98 433.50,152.98 440.05,152.98 446.61,152.98 453.18,152.98 459.74,152.60 466.30,156.43" fill="none" stroke="#2f6fd0" stroke-width="1.0" stroke-linejoin="round"/>
<line x1="401.36" y1="149.92" x2="401.36" y2="157.58" stroke="#2f6fd0" stroke-width="0.7"/>
<line x1="400.06" y1="149.92" x2="402.66" y2="149.92" stroke="#2f6fd0" stroke-width="0.7"/>
<line x1="400.06" y1="157.58" x2="402.66" y2="157.58" stroke="#2f6fd0" stroke-width="0.7"/>
<rect x="400.36" y="152.75" width="2.00" height="2.00" fill="#2f6fd0"/>
<line x1="413.79" y1="147.23" x2="413.79" y2="157.97" stroke="#2f6fd0" stroke-width="0.7"/>
<line x1="412.49" y1="147.23" x2="415.09" y2="147.23" stroke="#2f6fd0" stroke-width="0.7"/>
<line x1="412.49" y1="157.97" x2="415.09" y2="157.97" stroke="#2f6fd0" stroke-width="0.7"/>
<rect x="412.79" y="151.60" width="2.00" height="2.00" fill="#2f6fd0"/>
<line x1="420.35" y1="151.45" x2="420.35" y2="156.05" stroke="#2f6fd0" stroke-width="0.7"/>
<line x1="419.05" y1="151.45" x2="421.65" y2="151.45" stroke="#2f6fd0" stroke-width="0.7"/>
<line x1="419.05" y1="156.05" x2="421.65" y2="156.05" stroke="#2f6fd0" stroke-width="0.7"/>
<rect x="419.35" y="152.75" width="2.00" height="2.00" fill="#2f6fd0"/>
<line x1="426.91" y1="151.07" x2="426.91" y2="157.20" stroke="#2f6fd0" stroke-width="0.7"/>
<line x1="425.61" y1="151.07" x2="428.21" y2="151.07" stroke="#2f6fd0" stroke-width="0.7"/>
<line x1="425.61" y1="157.20" x2="428.21" y2="157.20" stroke="#2f6fd0" stroke-width="0.7"/>
<rect x="425.91" y="153.13" width="2.00" height="2.00" fill="#2f6fd0"/>
<line x1="433.50" y1="149.53" x2="433.50" y2="157.20" stroke="#2f6fd0" stroke-width="0.7"/>
<line x1="432.20" y1="149.53" x2="434.80" y2="149.53" stroke="#2f6fd0" stroke-width="0.7"/>
<line x1="432.20" y1="157.20" x2="434.80" y2="157.20" stroke="#2f6fd0" stroke-width="0.7"/>
<rect x="432.50" y="152.37" width="2.00" height="2.00" fill="#2f6fd0"/>
<line x1="440.05" y1="146.47" x2="440.05" y2="155.67" stroke="#2f6fd0" stroke-width="0.7"/>
<line x1="438.75" y1="146.47" x2="441.35" y2="146.47" stroke="#2f6fd0" stroke-width="0.7"/>
<line x1="438.75" y1="155.67" x2="441.35" y2="155.67" stroke="#2f6fd0" stroke-width="0.7"/>
<rect x="439.05" y="150.07" width="2.00" height="2.00" fill="#2f6fd0"/>
<line x1="446.61" y1="148.00" x2="446.61" y2="157.20" stroke="#2f6fd0" stroke-width="0.7"/>
<line x1="445.31" y1="148.00" x2="447.91" y2="148.00" stroke="#2f6fd0" stroke-width="0.7"/>
<line x1="445.31" y1="157.20" x2="447.91" y2="157.20" stroke="#2f6fd0" stroke-width="0.7"/>
<rect x="445.61" y="151.60" width="2.00" height="2.00" fill="#2f6fd0"/>
<line x1="453.18" y1="149.53" x2="453.18" y2="158.73" stroke="#2f6fd0" stroke-width="0.7"/>
<line x1="451.88" y1="149.53" x2="454.48" y2="149.53" stroke="#2f6fd0" stroke-width="0.7"/>
<line x1="451.88" y1="158.73" x2="454.48" y2="158.73" stroke="#2f6fd0" stroke-width="0.7"/>
<rect x="452.18" y="153.13" width="2.00" height="2.00" fill="#2f6fd0"/>
<line x1="459.74" y1="149.53" x2="459.74" y2="154.13" stroke="#2f6fd0" stroke-width="0.7"/>
<line x1="458.44" y1="149.53" x2="461.04" y2="149.53" stroke="#2f6fd0" stroke-width="0.7"/>
<line x1="458.44" y1="154.13" x2="461.04" y2="154.13" stroke="#2f6fd0" stroke-width="0.7"/>
<rect x="458.74" y="150.83" width="2.00" height="2.00" fill="#2f6fd0"/>
<line x1="466.30" y1="155.28" x2="466.30" y2="157.58" stroke="#2f6fd0" stroke-width="0.7"/>
<line x1="465.00" y1="155.28" x2="467.60" y2="155.28" stroke="#2f6fd0" stroke-width="0.7"/>
<line x1="465.00" y1="157.58" x2="467.60" y2="157.58" stroke="#2f6fd0" stroke-width="0.7"/>
<rect x="465.30" y="155.43" width="2.00" height="2.00" fill="#2f6fd0"/>
<polyline points="400.90,158.54 402.21,158.56 403.52,158.58 404.82,158.61 406.13,158.64 407.44,158.68 408.75,158.71 410.06,158.75 411.36,158.80 412.67,158.85 413.98,158.91 415.29,158.98 416.60,159.05 417.90,159.13 419.21,159.22 420.52,159.31 421.83,159.42 423.14,159.54 424.44,159.68 425.75,159.83 427.06,159.99 428.37,160.17 429.68,160.38 430.98,160.60 432.29,160.84 433.60,161.11 434.91,161.41 436.22,161.73 437.52,162.08 438.83,162.47 440.14,162.89 441.45,163.34 442.76,163.84 444.06,164.37 445.37,164.94 446.68,165.56 447.99,166.22 449.30,166.91 450.60,167.65 451.91,168.43 453.22,169.25 454.53,170.11 455.84,170.99 457.14,171.91 458.45,172.85 459.76,173.81 461.07,174.78 462.38,175.76 463.68,176.75 464.99,177.73 466.30,178.70" fill="none" stroke="#1c2f6e" stroke-width="1.0" stroke-linejoin="round"/>
<line x1="401.36" y1="152.60" x2="401.36" y2="164.87" stroke="#1c2f6e" stroke-width="0.7"/>
<line x1="400.06" y1="152.60" x2="402.66" y2="152.60" stroke="#1c2f6e" stroke-width="0.7"/>
<line x1="400.06" y1="164.87" x2="402.66" y2="164.87" stroke="#1c2f6e" stroke-width="0.7"/>
<polygon points="401.36,157.53 400.26,159.63 402.46,159.63" fill="#1c2f6e"/>
<line x1="413.79" y1="156.43" x2="413.79" y2="164.10" stroke="#1c2f6e" stroke-width="0.7"/>
<line x1="412.49" y1="156.43" x2="415.09" y2="156.43" stroke="#1c2f6e" stroke-width="0.7"/>
<line x1="412.49" y1="164.10" x2="415.09" y2="164.10" stroke="#1c2f6e" stroke-width="0.7"/>
<polygon points="413.79,159.07 412.69,161.17 414.89,161.17" fill="#1c2f6e"/>
<line x1="420.35" y1="155.67" x2="420.35" y2="167.93" stroke="#1c2f6e" stroke-width="0.7"/>
<line x1="419.05" y1="155.67" x2="421.65" y2="155.67" stroke="#1c2f6e" stroke-width="0.7"/>
<line x1="419.05" y1="167.93" x2="421.65" y2="167.93" stroke="#1c2f6e" stroke-width="0.7"/>
<polygon points="420.35,160.60 419.25,162.70 421.45,162.70" fill="#1c2f6e"/>
<line x1="426.91" y1="158.73" x2="426.91" y2="166.40" stroke="#1c2f6e" stroke-width="0.7"/>
<line x1="425.61" y1="158.73" x2="428.21" y2="158.73" stroke="#1c2f6e" stroke-width="0.7"/>
<line x1="425.61" y1="166.40" x2="428.21" y2="166.40" stroke="#1c2f6e" stroke-width="0.7"/>
<polygon points="426.91,161.37 425.81,163.47 428.01,163.47" fill="#1c2f6e"/>
<line x1="433.50" y1="160.27" x2="433.50" y2="166.40" stroke="#1c2f6e" stroke-width="0.7"/>
<line x1="432.20" y1="160.27" x2="434.80" y2="160.27" stroke="#1c2f6e" stroke-width="0.7"/>
<line x1="432.20" y1="166.40" x2="434.80" y2="166.40" stroke="#1c2f6e" stroke-width="0.7"/>
<polygon points="433.50,162.13 432.40,164.23 434.60,164.23" fill="#1c2f6e"/>
<line x1="440.05" y1="161.03" x2="440.05" y2="167.17" stroke="#1c2f6e" stroke-width="0.7"/>
<line x1="438.75" y1="161.03" x2="441.35" y2="161.03" stroke="#1c2f6e" stroke-width="0.7"/>
<line x1="438.75" y1="167.17" x2="441.35" y2="167.17" stroke="#1c2f6e" stroke-width="0.7"/>
<polygon points="440.05,162.90 438.95,165.00 441.15,165.00" fill="#1c2f6e"/>
<line x1="446.61" y1="164.10" x2="446.61" y2="170.23" stroke="#1c2f6e" stroke-width="0.7"/>
<line x1="445.31" y1="164.10" x2="447.91" y2="164.10" stroke="#1c2f6e" stroke-width="0.7"/>
<line x1="445.31" y1="170.23" x2="447.91" y2="170.23" stroke="#1c2f6e" stroke-width="0.7"/>
<polygon points="446.61,165.97 445.51,168.07 447.71,168.07" fill="#1c2f6e"/>
<line x1="453.18" y1="167.93" x2="453.18" y2="172.53" stroke="#1c2f6e" stroke-width="0.7"/>
<line x1="451.88" y1="167.93" x2="454.48" y2="167.93" stroke="#1c2f6e" stroke-width="0.7"/>
<line x1="451.88" y1="172.53" x2="454.48" y2="172.53" stroke="#1c2f6e" stroke-width="0.7"/>
<polygon points="453.18,169.03 452.08,171.13 454.28,171.13" fill="#1c2f6e"/>
<line x1="459.74" y1="170.23" x2="459.74" y2="174.83" stroke="#1c2f6e" stroke-width="0.7"/>
<line x1="458.44" y1="170.23" x2="461.04" y2="170.23" stroke="#1c2f6e" stroke-width="0.7"/>
<line x1="458.44" y1="174.83" x2="461.04" y2="174.83" stroke="#1c2f6e" stroke-width="0.7"/>
<polygon points="459.74,171.33 458.64,173.43 460.84,173.43" fill="#1c2f6e"/>
<line x1="466.30" y1="174.83" x2="466.30" y2="180.97" stroke="#1c2f6e" stroke-width="0.7"/>
<line x1="465.00" y1="174.83" x2="467.60" y2="174.83" stroke="#1c2f6e" stroke-width="0.7"/>
<line x1="465.00" y1="180.97" x2="467.60" y2="180.97" stroke="#1c2f6e" stroke-width="0.7"/>
<polygon points="466.30,176.70 465.20,178.80 467.40,178.80" fill="#1c2f6e"/>
<line x1="390.00" y1="135.97" x2="390.00" y2="194.53" stroke="#000" stroke-width="1.05"/>
<line x1="389.48" y1="194.00" x2="476.52" y2="194.00" stroke="#000" stroke-width="1.05"/>
<line x1="387.80" y1="136.50" x2="390.00" y2="136.50" stroke="#000" stroke-width="1.05"/>
<text x="387.00" y="138.61" font-size="6.2" font-weight="bold" text-anchor="end" fill="#111">150</text>
<line x1="387.80" y1="155.67" x2="390.00" y2="155.67" stroke="#000" stroke-width="1.05"/>
<text x="387.00" y="157.77" font-size="6.2" font-weight="bold" text-anchor="end" fill="#111">100</text>
<line x1="387.80" y1="174.83" x2="390.00" y2="174.83" stroke="#000" stroke-width="1.05"/>
<text x="387.00" y="176.94" font-size="6.2" font-weight="bold" text-anchor="end" fill="#111">50</text>
<line x1="387.80" y1="194.00" x2="390.00" y2="194.00" stroke="#000" stroke-width="1.05"/>
<text x="387.00" y="196.11" font-size="6.2" font-weight="bold" text-anchor="end" fill="#111">0</text>
<line x1="400.90" y1="194.00" x2="400.90" y2="196.20" stroke="#000" stroke-width="1.05"/>
<text x="400.90" y="202.40" font-size="6.2" font-weight="bold" text-anchor="middle" fill="#111">0.01</text>
<line x1="422.70" y1="194.00" x2="422.70" y2="196.20" stroke="#000" stroke-width="1.05"/>
<text x="422.70" y="202.40" font-size="6.2" font-weight="bold" text-anchor="middle" fill="#111">0.1</text>
<line x1="444.50" y1="194.00" x2="444.50" y2="196.20" stroke="#000" stroke-width="1.05"/>
<text x="444.50" y="202.40" font-size="6.2" font-weight="bold" text-anchor="middle" fill="#111">1</text>
<line x1="466.30" y1="194.00" x2="466.30" y2="196.20" stroke="#000" stroke-width="1.05"/>
<text x="466.30" y="202.40" font-size="6.2" font-weight="bold" text-anchor="middle" fill="#111">10</text>
<text x="248.50" y="160.80" font-size="6.7" font-weight="bold" text-anchor="middle" fill="#111" transform="rotate(-90 248.50 160.80)">Relative cell viability (%)</text>
<text x="310.50" y="210.70" font-size="6.55" font-weight="bold" text-anchor="middle" fill="#111">Tulmimetostat (µmol/L)</text>
<text x="443.50" y="210.70" font-size="6.55" font-weight="bold" text-anchor="middle" fill="#111">Tulmimetostat (µmol/L)</text>
<line x1="479.50" y1="128.50" x2="485.00" y2="128.50" stroke="#8fb8e8" stroke-width="0.9"/>
<circle cx="482.20" cy="128.50" r="1.0" fill="#8fb8e8"/>
<text x="488.50" y="130.80" font-size="6.4" font-weight="normal" text-anchor="start" fill="#222">Day 6</text>
<line x1="479.50" y1="137.80" x2="485.00" y2="137.80" stroke="#2f6fd0" stroke-width="0.9"/>
<rect x="481.20" y="136.80" width="2.00" height="2.00" fill="#2f6fd0"/>
<text x="488.50" y="140.10" font-size="6.4" font-weight="normal" text-anchor="start" fill="#222">Day 12</text>
<line x1="479.50" y1="147.10" x2="485.00" y2="147.10" stroke="#1c2f6e" stroke-width="0.9"/>
<polygon points="482.20,145.90 481.10,148.00 483.30,148.00" fill="#1c2f6e"/>
<text x="488.50" y="149.40" font-size="6.4" font-weight="normal" text-anchor="start" fill="#222">Day 18</text>
</g>
<g id="panelE">
<text x="236.60" y="224.60" font-size="11" font-weight="bold" text-anchor="start" fill="#000">E</text>
<text x="309.40" y="230.40" font-size="7.7" font-weight="bold" text-anchor="middle" fill="#222">HT1197</text>
<rect x="270.05" y="292.27" width="6.30" height="4.33" fill="#de6027"/>
<rect x="270.05" y="263.06" width="6.30" height="29.21" fill="#4c9ab7"/>
<rect x="270.05" y="254.94" width="6.30" height="8.11" fill="#7a99da"/>
<rect x="270.05" y="242.50" width="6.30" height="12.44" fill="#dcdcdb"/>
<line x1="271.80" y1="291.73" x2="274.60" y2="291.73" stroke="#111" stroke-width="0.9"/>
<line x1="273.20" y1="291.73" x2="273.20" y2="292.93" stroke="#111" stroke-width="1.0"/>
<line x1="271.80" y1="262.52" x2="274.60" y2="262.52" stroke="#111" stroke-width="0.9"/>
<line x1="273.20" y1="262.52" x2="273.20" y2="263.72" stroke="#111" stroke-width="1.0"/>
<line x1="271.80" y1="254.40" x2="274.60" y2="254.40" stroke="#111" stroke-width="0.9"/>
<line x1="273.20" y1="254.40" x2="273.20" y2="255.60" stroke="#111" stroke-width="1.0"/>
<line x1="271.80" y1="241.96" x2="274.60" y2="241.96" stroke="#111" stroke-width="0.9"/>
<line x1="273.20" y1="241.96" x2="273.20" y2="243.16" stroke="#111" stroke-width="1.0"/>
<rect x="278.71" y="291.73" width="6.30" height="4.87" fill="#de6027"/>
<rect x="278.71" y="262.52" width="6.30" height="29.21" fill="#4c9ab7"/>
<rect x="278.71" y="254.94" width="6.30" height="7.57" fill="#7a99da"/>
<rect x="278.71" y="243.04" width="6.30" height="11.90" fill="#dcdcdb"/>
<line x1="280.46" y1="290.92" x2="283.26" y2="290.92" stroke="#111" stroke-width="0.9"/>
<line x1="281.86" y1="290.92" x2="281.86" y2="292.12" stroke="#111" stroke-width="1.0"/>
<line x1="280.46" y1="261.98" x2="283.26" y2="261.98" stroke="#111" stroke-width="0.9"/>
<line x1="281.86" y1="261.98" x2="281.86" y2="263.18" stroke="#111" stroke-width="1.0"/>
<line x1="280.46" y1="254.40" x2="283.26" y2="254.40" stroke="#111" stroke-width="0.9"/>
<line x1="281.86" y1="254.40" x2="281.86" y2="255.60" stroke="#111" stroke-width="1.0"/>
<line x1="280.46" y1="242.77" x2="283.26" y2="242.77" stroke="#111" stroke-width="0.9"/>
<line x1="281.86" y1="242.77" x2="281.86" y2="243.97" stroke="#111" stroke-width="1.0"/>
<rect x="287.37" y="289.03" width="6.30" height="7.57" fill="#de6027"/>
<rect x="287.37" y="260.35" width="6.30" height="28.67" fill="#4c9ab7"/>
<rect x="287.37" y="254.40" width="6.30" height="5.95" fill="#7a99da"/>
<rect x="287.37" y="243.04" width="6.30" height="11.36" fill="#dcdcdb"/>
<line x1="289.12" y1="288.21" x2="291.92" y2="288.21" stroke="#111" stroke-width="0.9"/>
<line x1="290.52" y1="288.21" x2="290.52" y2="289.41" stroke="#111" stroke-width="1.0"/>
<line x1="289.12" y1="259.81" x2="291.92" y2="259.81" stroke="#111" stroke-width="0.9"/>
<line x1="290.52" y1="259.81" x2="290.52" y2="261.01" stroke="#111" stroke-width="1.0"/>
<line x1="289.12" y1="253.86" x2="291.92" y2="253.86" stroke="#111" stroke-width="0.9"/>
<line x1="290.52" y1="253.86" x2="290.52" y2="255.06" stroke="#111" stroke-width="1.0"/>
<line x1="289.12" y1="242.77" x2="291.92" y2="242.77" stroke="#111" stroke-width="0.9"/>
<line x1="290.52" y1="242.77" x2="290.52" y2="243.97" stroke="#111" stroke-width="1.0"/>
<rect x="296.03" y="285.78" width="6.30" height="10.82" fill="#de6027"/>
<rect x="296.03" y="257.65" width="6.30" height="28.13" fill="#4c9ab7"/>
<rect x="296.03" y="252.78" width="6.30" height="4.87" fill="#7a99da"/>
<rect x="296.03" y="242.50" width="6.30" height="10.28" fill="#dcdcdb"/>
<line x1="297.78" y1="282.53" x2="300.58" y2="282.53" stroke="#111" stroke-width="0.9"/>
<line x1="299.18" y1="282.53" x2="299.18" y2="283.73" stroke="#111" stroke-width="1.0"/>
<line x1="299.18" y1="285.78" x2="299.18" y2="282.53" stroke="#111" stroke-width="0.8"/>
<line x1="297.78" y1="255.48" x2="300.58" y2="255.48" stroke="#111" stroke-width="0.9"/>
<line x1="299.18" y1="255.48" x2="299.18" y2="256.68" stroke="#111" stroke-width="1.0"/>
<line x1="299.18" y1="257.65" x2="299.18" y2="255.48" stroke="#111" stroke-width="0.8"/>
<line x1="297.78" y1="252.24" x2="300.58" y2="252.24" stroke="#111" stroke-width="0.9"/>
<line x1="299.18" y1="252.24" x2="299.18" y2="253.44" stroke="#111" stroke-width="1.0"/>
<line x1="297.78" y1="241.96" x2="300.58" y2="241.96" stroke="#111" stroke-width="0.9"/>
<line x1="299.18" y1="241.96" x2="299.18" y2="243.16" stroke="#111" stroke-width="1.0"/>
<rect x="304.69" y="283.62" width="6.30" height="12.98" fill="#de6027"/>
<rect x="304.69" y="258.19" width="6.30" height="25.43" fill="#4c9ab7"/>
<rect x="304.69" y="253.32" width="6.30" height="4.87" fill="#7a99da"/>
<rect x="304.69" y="242.50" width="6.30" height="10.82" fill="#dcdcdb"/>
<line x1="306.44" y1="282.80" x2="309.24" y2="282.80" stroke="#111" stroke-width="0.9"/>
<line x1="307.84" y1="282.80" x2="307.84" y2="284.00" stroke="#111" stroke-width="1.0"/>
<line x1="306.44" y1="257.38" x2="309.24" y2="257.38" stroke="#111" stroke-width="0.9"/>
<line x1="307.84" y1="257.38" x2="307.84" y2="258.58" stroke="#111" stroke-width="1.0"/>
<line x1="306.44" y1="252.78" x2="309.24" y2="252.78" stroke="#111" stroke-width="0.9"/>
<line x1="307.84" y1="252.78" x2="307.84" y2="253.98" stroke="#111" stroke-width="1.0"/>
<line x1="306.44" y1="241.96" x2="309.24" y2="241.96" stroke="#111" stroke-width="0.9"/>
<line x1="307.84" y1="241.96" x2="307.84" y2="243.16" stroke="#111" stroke-width="1.0"/>
<rect x="313.35" y="283.08" width="6.30" height="13.52" fill="#de6027"/>
<rect x="313.35" y="257.65" width="6.30" height="25.43" fill="#4c9ab7"/>
<rect x="313.35" y="252.24" width="6.30" height="5.41" fill="#7a99da"/>
<rect x="313.35" y="241.96" width="6.30" height="10.28" fill="#dcdcdb"/>
<line x1="315.10" y1="278.21" x2="317.90" y2="278.21" stroke="#111" stroke-width="0.9"/>
<line x1="316.50" y1="278.21" x2="316.50" y2="279.41" stroke="#111" stroke-width="1.0"/>
<line x1="316.50" y1="283.08" x2="316.50" y2="278.21" stroke="#111" stroke-width="0.8"/>
<line x1="315.10" y1="254.40" x2="317.90" y2="254.40" stroke="#111" stroke-width="0.9"/>
<line x1="316.50" y1="254.40" x2="316.50" y2="255.60" stroke="#111" stroke-width="1.0"/>
<line x1="316.50" y1="257.65" x2="316.50" y2="254.40" stroke="#111" stroke-width="0.8"/>
<line x1="315.10" y1="250.07" x2="317.90" y2="250.07" stroke="#111" stroke-width="0.9"/>
<line x1="316.50" y1="250.07" x2="316.50" y2="251.27" stroke="#111" stroke-width="1.0"/>
<line x1="316.50" y1="252.24" x2="316.50" y2="250.07" stroke="#111" stroke-width="0.8"/>
<line x1="315.10" y1="239.25" x2="317.90" y2="239.25" stroke="#111" stroke-width="0.9"/>
<line x1="316.50" y1="239.25" x2="316.50" y2="240.45" stroke="#111" stroke-width="1.0"/>
<line x1="316.50" y1="241.96" x2="316.50" y2="239.25" stroke="#111" stroke-width="0.8"/>
<rect x="322.01" y="283.62" width="6.30" height="12.98" fill="#de6027"/>
<rect x="322.01" y="258.73" width="6.30" height="24.89" fill="#4c9ab7"/>
<rect x="322.01" y="253.86" width="6.30" height="4.87" fill="#7a99da"/>
<rect x="322.01" y="242.50" width="6.30" height="11.36" fill="#dcdcdb"/>
<line x1="323.76" y1="279.83" x2="326.56" y2="279.83" stroke="#111" stroke-width="0.9"/>
<line x1="325.16" y1="279.83" x2="325.16" y2="281.03" stroke="#111" stroke-width="1.0"/>
<line x1="325.16" y1="283.62" x2="325.16" y2="279.83" stroke="#111" stroke-width="0.8"/>
<line x1="323.76" y1="256.57" x2="326.56" y2="256.57" stroke="#111" stroke-width="0.9"/>
<line x1="325.16" y1="256.57" x2="325.16" y2="257.77" stroke="#111" stroke-width="1.0"/>
<line x1="325.16" y1="258.73" x2="325.16" y2="256.57" stroke="#111" stroke-width="0.8"/>
<line x1="323.76" y1="252.78" x2="326.56" y2="252.78" stroke="#111" stroke-width="0.9"/>
<line x1="325.16" y1="252.78" x2="325.16" y2="253.98" stroke="#111" stroke-width="1.0"/>
<line x1="325.16" y1="253.86" x2="325.16" y2="252.78" stroke="#111" stroke-width="0.8"/>
<line x1="323.76" y1="241.42" x2="326.56" y2="241.42" stroke="#111" stroke-width="0.9"/>
<line x1="325.16" y1="241.42" x2="325.16" y2="242.62" stroke="#111" stroke-width="1.0"/>
<line x1="325.16" y1="242.50" x2="325.16" y2="241.42" stroke="#111" stroke-width="0.8"/>
<rect x="330.67" y="285.24" width="6.30" height="11.36" fill="#de6027"/>
<rect x="330.67" y="258.19" width="6.30" height="27.05" fill="#4c9ab7"/>
<rect x="330.67" y="253.32" width="6.30" height="4.87" fill="#7a99da"/>
<rect x="330.67" y="243.04" width="6.30" height="10.28" fill="#dcdcdb"/>
<line x1="332.42" y1="284.70" x2="335.22" y2="284.70" stroke="#111" stroke-width="0.9"/>
<line x1="333.82" y1="284.70" x2="333.82" y2="285.90" stroke="#111" stroke-width="1.0"/>
<line x1="332.42" y1="257.65" x2="335.22" y2="257.65" stroke="#111" stroke-width="0.9"/>
<line x1="333.82" y1="257.65" x2="333.82" y2="258.85" stroke="#111" stroke-width="1.0"/>
<line x1="332.42" y1="252.78" x2="335.22" y2="252.78" stroke="#111" stroke-width="0.9"/>
<line x1="333.82" y1="252.78" x2="333.82" y2="253.98" stroke="#111" stroke-width="1.0"/>
<line x1="332.42" y1="242.77" x2="335.22" y2="242.77" stroke="#111" stroke-width="0.9"/>
<line x1="333.82" y1="242.77" x2="333.82" y2="243.97" stroke="#111" stroke-width="1.0"/>
<rect x="339.33" y="283.62" width="6.30" height="12.98" fill="#de6027"/>
<rect x="339.33" y="257.11" width="6.30" height="26.51" fill="#4c9ab7"/>
<rect x="339.33" y="252.78" width="6.30" height="4.33" fill="#7a99da"/>
<rect x="339.33" y="241.96" width="6.30" height="10.82" fill="#dcdcdb"/>
<line x1="341.08" y1="283.08" x2="343.88" y2="283.08" stroke="#111" stroke-width="0.9"/>
<line x1="342.48" y1="283.08" x2="342.48" y2="284.28" stroke="#111" stroke-width="1.0"/>
<line x1="341.08" y1="256.57" x2="343.88" y2="256.57" stroke="#111" stroke-width="0.9"/>
<line x1="342.48" y1="256.57" x2="342.48" y2="257.77" stroke="#111" stroke-width="1.0"/>
<line x1="341.08" y1="252.24" x2="343.88" y2="252.24" stroke="#111" stroke-width="0.9"/>
<line x1="342.48" y1="252.24" x2="342.48" y2="253.44" stroke="#111" stroke-width="1.0"/>
<line x1="341.08" y1="239.25" x2="343.88" y2="239.25" stroke="#111" stroke-width="0.9"/>
<line x1="342.48" y1="239.25" x2="342.48" y2="240.45" stroke="#111" stroke-width="1.0"/>
<line x1="342.48" y1="241.96" x2="342.48" y2="239.25" stroke="#111" stroke-width="0.8"/>
<rect x="347.99" y="281.45" width="6.30" height="15.15" fill="#de6027"/>
<rect x="347.99" y="256.57" width="6.30" height="24.89" fill="#4c9ab7"/>
<rect x="347.99" y="253.32" width="6.30" height="3.25" fill="#7a99da"/>
<rect x="347.99" y="242.50" width="6.30" height="10.82" fill="#dcdcdb"/>
<line x1="349.74" y1="280.91" x2="352.54" y2="280.91" stroke="#111" stroke-width="0.9"/>
<line x1="351.14" y1="280.91" x2="351.14" y2="282.11" stroke="#111" stroke-width="1.0"/>
<line x1="349.74" y1="256.02" x2="352.54" y2="256.02" stroke="#111" stroke-width="0.9"/>
<line x1="351.14" y1="256.02" x2="351.14" y2="257.22" stroke="#111" stroke-width="1.0"/>
<line x1="349.74" y1="252.78" x2="352.54" y2="252.78" stroke="#111" stroke-width="0.9"/>
<line x1="351.14" y1="252.78" x2="351.14" y2="253.98" stroke="#111" stroke-width="1.0"/>
<line x1="349.74" y1="242.23" x2="352.54" y2="242.23" stroke="#111" stroke-width="0.9"/>
<line x1="351.14" y1="242.23" x2="351.14" y2="243.43" stroke="#111" stroke-width="1.0"/>
<line x1="267.00" y1="236.28" x2="267.00" y2="297.12" stroke="#000" stroke-width="1.05"/>
<line x1="266.48" y1="296.60" x2="356.66" y2="296.60" stroke="#000" stroke-width="1.05"/>
<line x1="264.70" y1="242.50" x2="267.00" y2="242.50" stroke="#000" stroke-width="1.05"/>
<text x="263.90" y="244.78" font-size="6.7" font-weight="bold" text-anchor="end" fill="#111">100</text>
<line x1="264.70" y1="269.55" x2="267.00" y2="269.55" stroke="#000" stroke-width="1.05"/>
<text x="263.90" y="271.83" font-size="6.7" font-weight="bold" text-anchor="end" fill="#111">50</text>
<line x1="264.70" y1="296.60" x2="267.00" y2="296.60" stroke="#000" stroke-width="1.05"/>
<text x="263.90" y="298.88" font-size="6.7" font-weight="bold" text-anchor="end" fill="#111">0</text>
<line x1="273.20" y1="296.60" x2="273.20" y2="298.90" stroke="#000" stroke-width="1.05"/>
<text x="276.60" y="303.20" font-size="6.9" font-weight="normal" text-anchor="end" fill="#111" transform="rotate(-45 276.60 303.20)">DMSO</text>
<line x1="281.86" y1="296.60" x2="281.86" y2="298.90" stroke="#000" stroke-width="1.05"/>
<text x="285.26" y="303.20" font-size="6.9" font-weight="normal" text-anchor="end" fill="#111" transform="rotate(-45 285.26 303.20)">0.004</text>
<line x1="290.52" y1="296.60" x2="290.52" y2="298.90" stroke="#000" stroke-width="1.05"/>
<text x="293.92" y="303.20" font-size="6.9" font-weight="normal" text-anchor="end" fill="#111" transform="rotate(-45 293.92 303.20)">0.008</text>
<line x1="299.18" y1="296.60" x2="299.18" y2="298.90" stroke="#000" stroke-width="1.05"/>
<text x="302.58" y="303.20" font-size="6.9" font-weight="normal" text-anchor="end" fill="#111" transform="rotate(-45 302.58 303.20)">0.016</text>
<line x1="307.84" y1="296.60" x2="307.84" y2="298.90" stroke="#000" stroke-width="1.05"/>
<text x="311.24" y="303.20" font-size="6.9" font-weight="normal" text-anchor="end" fill="#111" transform="rotate(-45 311.24 303.20)">0.031</text>
<line x1="316.50" y1="296.60" x2="316.50" y2="298.90" stroke="#000" stroke-width="1.05"/>
<text x="319.90" y="303.20" font-size="6.9" font-weight="normal" text-anchor="end" fill="#111" transform="rotate(-45 319.90 303.20)">0.063</text>
<line x1="325.16" y1="296.60" x2="325.16" y2="298.90" stroke="#000" stroke-width="1.05"/>
<text x="328.56" y="303.20" font-size="6.9" font-weight="normal" text-anchor="end" fill="#111" transform="rotate(-45 328.56 303.20)">0.125</text>
<line x1="333.82" y1="296.60" x2="333.82" y2="298.90" stroke="#000" stroke-width="1.05"/>
<text x="337.22" y="303.20" font-size="6.9" font-weight="normal" text-anchor="end" fill="#111" transform="rotate(-45 337.22 303.20)">0.25</text>
<line x1="342.48" y1="296.60" x2="342.48" y2="298.90" stroke="#000" stroke-width="1.05"/>
<text x="345.88" y="303.20" font-size="6.9" font-weight="normal" text-anchor="end" fill="#111" transform="rotate(-45 345.88 303.20)">0.5</text>
<line x1="351.14" y1="296.60" x2="351.14" y2="298.90" stroke="#000" stroke-width="1.05"/>
<text x="354.54" y="303.20" font-size="6.9" font-weight="normal" text-anchor="end" fill="#111" transform="rotate(-45 354.54 303.20)">1</text>
<text x="432.20" y="230.40" font-size="7.7" font-weight="bold" text-anchor="middle" fill="#222">T24</text>
<rect x="393.15" y="293.90" width="6.30" height="2.70" fill="#de6027"/>
<rect x="393.15" y="255.48" width="6.30" height="38.41" fill="#4c9ab7"/>
<rect x="393.15" y="251.16" width="6.30" height="4.33" fill="#7a99da"/>
<rect x="393.15" y="243.04" width="6.30" height="8.12" fill="#dcdcdb"/>
<line x1="394.90" y1="292.81" x2="397.70" y2="292.81" stroke="#111" stroke-width="0.9"/>
<line x1="396.30" y1="292.81" x2="396.30" y2="294.01" stroke="#111" stroke-width="1.0"/>
<line x1="396.30" y1="293.90" x2="396.30" y2="292.81" stroke="#111" stroke-width="0.8"/>
<line x1="394.90" y1="254.94" x2="397.70" y2="254.94" stroke="#111" stroke-width="0.9"/>
<line x1="396.30" y1="254.94" x2="396.30" y2="256.14" stroke="#111" stroke-width="1.0"/>
<line x1="394.90" y1="250.62" x2="397.70" y2="250.62" stroke="#111" stroke-width="0.9"/>
<line x1="396.30" y1="250.62" x2="396.30" y2="251.81" stroke="#111" stroke-width="1.0"/>
<line x1="394.90" y1="242.50" x2="397.70" y2="242.50" stroke="#111" stroke-width="0.9"/>
<line x1="396.30" y1="242.50" x2="396.30" y2="243.70" stroke="#111" stroke-width="1.0"/>
<rect x="401.77" y="294.44" width="6.30" height="2.16" fill="#de6027"/>
<rect x="401.77" y="253.86" width="6.30" height="40.58" fill="#4c9ab7"/>
<rect x="401.77" y="249.53" width="6.30" height="4.33" fill="#7a99da"/>
<rect x="401.77" y="242.50" width="6.30" height="7.03" fill="#dcdcdb"/>
<line x1="403.52" y1="293.90" x2="406.32" y2="293.90" stroke="#111" stroke-width="0.9"/>
<line x1="404.92" y1="293.90" x2="404.92" y2="295.10" stroke="#111" stroke-width="1.0"/>
<line x1="403.52" y1="252.24" x2="406.32" y2="252.24" stroke="#111" stroke-width="0.9"/>
<line x1="404.92" y1="252.24" x2="404.92" y2="253.44" stroke="#111" stroke-width="1.0"/>
<line x1="404.92" y1="253.86" x2="404.92" y2="252.24" stroke="#111" stroke-width="0.8"/>
<line x1="403.52" y1="248.99" x2="406.32" y2="248.99" stroke="#111" stroke-width="0.9"/>
<line x1="404.92" y1="248.99" x2="404.92" y2="250.19" stroke="#111" stroke-width="1.0"/>
<line x1="403.52" y1="240.34" x2="406.32" y2="240.34" stroke="#111" stroke-width="0.9"/>
<line x1="404.92" y1="240.34" x2="404.92" y2="241.54" stroke="#111" stroke-width="1.0"/>
<line x1="404.92" y1="242.50" x2="404.92" y2="240.34" stroke="#111" stroke-width="0.8"/>
<rect x="410.39" y="293.35" width="6.30" height="3.25" fill="#de6027"/>
<rect x="410.39" y="252.78" width="6.30" height="40.58" fill="#4c9ab7"/>
<rect x="410.39" y="248.99" width="6.30" height="3.79" fill="#7a99da"/>
<rect x="410.39" y="243.04" width="6.30" height="5.95" fill="#dcdcdb"/>
<line x1="412.14" y1="292.54" x2="414.94" y2="292.54" stroke="#111" stroke-width="0.9"/>
<line x1="413.54" y1="292.54" x2="413.54" y2="293.74" stroke="#111" stroke-width="1.0"/>
<line x1="412.14" y1="252.24" x2="414.94" y2="252.24" stroke="#111" stroke-width="0.9"/>
<line x1="413.54" y1="252.24" x2="413.54" y2="253.44" stroke="#111" stroke-width="1.0"/>
<line x1="412.14" y1="248.45" x2="414.94" y2="248.45" stroke="#111" stroke-width="0.9"/>
<line x1="413.54" y1="248.45" x2="413.54" y2="249.65" stroke="#111" stroke-width="1.0"/>
<line x1="412.14" y1="242.50" x2="414.94" y2="242.50" stroke="#111" stroke-width="0.9"/>
<line x1="413.54" y1="242.50" x2="413.54" y2="243.70" stroke="#111" stroke-width="1.0"/>
<rect x="419.01" y="293.90" width="6.30" height="2.70" fill="#de6027"/>
<rect x="419.01" y="255.48" width="6.30" height="38.41" fill="#4c9ab7"/>
<rect x="419.01" y="250.62" width="6.30" height="4.87" fill="#7a99da"/>
<rect x="419.01" y="242.50" width="6.30" height="8.12" fill="#dcdcdb"/>
<line x1="420.76" y1="293.35" x2="423.56" y2="293.35" stroke="#111" stroke-width="0.9"/>
<line x1="422.16" y1="293.35" x2="422.16" y2="294.55" stroke="#111" stroke-width="1.0"/>
<line x1="420.76" y1="253.86" x2="423.56" y2="253.86" stroke="#111" stroke-width="0.9"/>
<line x1="422.16" y1="253.86" x2="422.16" y2="255.06" stroke="#111" stroke-width="1.0"/>
<line x1="422.16" y1="255.48" x2="422.16" y2="253.86" stroke="#111" stroke-width="0.8"/>
<line x1="420.76" y1="248.99" x2="423.56" y2="248.99" stroke="#111" stroke-width="0.9"/>
<line x1="422.16" y1="248.99" x2="422.16" y2="250.19" stroke="#111" stroke-width="1.0"/>
<line x1="422.16" y1="250.62" x2="422.16" y2="248.99" stroke="#111" stroke-width="0.8"/>
<line x1="420.76" y1="240.88" x2="423.56" y2="240.88" stroke="#111" stroke-width="0.9"/>
<line x1="422.16" y1="240.88" x2="422.16" y2="242.08" stroke="#111" stroke-width="1.0"/>
<line x1="422.16" y1="242.50" x2="422.16" y2="240.88" stroke="#111" stroke-width="0.8"/>
<rect x="427.63" y="293.90" width="6.30" height="2.70" fill="#de6027"/>
<rect x="427.63" y="254.40" width="6.30" height="39.49" fill="#4c9ab7"/>
<rect x="427.63" y="250.07" width="6.30" height="4.33" fill="#7a99da"/>
<rect x="427.63" y="242.50" width="6.30" height="7.57" fill="#dcdcdb"/>
<line x1="429.38" y1="293.08" x2="432.18" y2="293.08" stroke="#111" stroke-width="0.9"/>
<line x1="430.78" y1="293.08" x2="430.78" y2="294.28" stroke="#111" stroke-width="1.0"/>
<line x1="429.38" y1="253.86" x2="432.18" y2="253.86" stroke="#111" stroke-width="0.9"/>
<line x1="430.78" y1="253.86" x2="430.78" y2="255.06" stroke="#111" stroke-width="1.0"/>
<line x1="429.38" y1="248.45" x2="432.18" y2="248.45" stroke="#111" stroke-width="0.9"/>
<line x1="430.78" y1="248.45" x2="430.78" y2="249.65" stroke="#111" stroke-width="1.0"/>
<line x1="430.78" y1="250.07" x2="430.78" y2="248.45" stroke="#111" stroke-width="0.8"/>
<line x1="429.38" y1="241.42" x2="432.18" y2="241.42" stroke="#111" stroke-width="0.9"/>
<line x1="430.78" y1="241.42" x2="430.78" y2="242.62" stroke="#111" stroke-width="1.0"/>
<line x1="430.78" y1="242.50" x2="430.78" y2="241.42" stroke="#111" stroke-width="0.8"/>
<rect x="436.25" y="292.81" width="6.30" height="3.79" fill="#de6027"/>
<rect x="436.25" y="253.32" width="6.30" height="39.49" fill="#4c9ab7"/>
<rect x="436.25" y="248.99" width="6.30" height="4.33" fill="#7a99da"/>
<rect x="436.25" y="242.50" width="6.30" height="6.49" fill="#dcdcdb"/>
<line x1="438.00" y1="292.27" x2="440.80" y2="292.27" stroke="#111" stroke-width="0.9"/>
<line x1="439.40" y1="292.27" x2="439.40" y2="293.47" stroke="#111" stroke-width="1.0"/>
<line x1="438.00" y1="252.78" x2="440.80" y2="252.78" stroke="#111" stroke-width="0.9"/>
<line x1="439.40" y1="252.78" x2="439.40" y2="253.98" stroke="#111" stroke-width="1.0"/>
<line x1="438.00" y1="247.37" x2="440.80" y2="247.37" stroke="#111" stroke-width="0.9"/>
<line x1="439.40" y1="247.37" x2="439.40" y2="248.57" stroke="#111" stroke-width="1.0"/>
<line x1="439.40" y1="248.99" x2="439.40" y2="247.37" stroke="#111" stroke-width="0.8"/>
<line x1="438.00" y1="240.34" x2="440.80" y2="240.34" stroke="#111" stroke-width="0.9"/>
<line x1="439.40" y1="240.34" x2="439.40" y2="241.54" stroke="#111" stroke-width="1.0"/>
<line x1="439.40" y1="242.50" x2="439.40" y2="240.34" stroke="#111" stroke-width="0.8"/>
<rect x="444.87" y="293.35" width="6.30" height="3.25" fill="#de6027"/>
<rect x="444.87" y="256.02" width="6.30" height="37.33" fill="#4c9ab7"/>
<rect x="444.87" y="251.16" width="6.30" height="4.87" fill="#7a99da"/>
<rect x="444.87" y="243.04" width="6.30" height="8.12" fill="#dcdcdb"/>
<line x1="446.62" y1="292.54" x2="449.42" y2="292.54" stroke="#111" stroke-width="0.9"/>
<line x1="448.02" y1="292.54" x2="448.02" y2="293.74" stroke="#111" stroke-width="1.0"/>
<line x1="446.62" y1="255.48" x2="449.42" y2="255.48" stroke="#111" stroke-width="0.9"/>
<line x1="448.02" y1="255.48" x2="448.02" y2="256.68" stroke="#111" stroke-width="1.0"/>
<line x1="446.62" y1="250.62" x2="449.42" y2="250.62" stroke="#111" stroke-width="0.9"/>
<line x1="448.02" y1="250.62" x2="448.02" y2="251.81" stroke="#111" stroke-width="1.0"/>
<line x1="446.62" y1="241.96" x2="449.42" y2="241.96" stroke="#111" stroke-width="0.9"/>
<line x1="448.02" y1="241.96" x2="448.02" y2="243.16" stroke="#111" stroke-width="1.0"/>
<line x1="448.02" y1="243.04" x2="448.02" y2="241.96" stroke="#111" stroke-width="0.8"/>
<rect x="453.49" y="294.44" width="6.30" height="2.16" fill="#de6027"/>
<rect x="453.49" y="256.57" width="6.30" height="37.87" fill="#4c9ab7"/>
<rect x="453.49" y="251.70" width="6.30" height="4.87" fill="#7a99da"/>
<rect x="453.49" y="242.50" width="6.30" height="9.20" fill="#dcdcdb"/>
<line x1="455.24" y1="293.62" x2="458.04" y2="293.62" stroke="#111" stroke-width="0.9"/>
<line x1="456.64" y1="293.62" x2="456.64" y2="294.82" stroke="#111" stroke-width="1.0"/>
<line x1="455.24" y1="256.02" x2="458.04" y2="256.02" stroke="#111" stroke-width="0.9"/>
<line x1="456.64" y1="256.02" x2="456.64" y2="257.22" stroke="#111" stroke-width="1.0"/>
<line x1="455.24" y1="251.16" x2="458.04" y2="251.16" stroke="#111" stroke-width="0.9"/>
<line x1="456.64" y1="251.16" x2="456.64" y2="252.36" stroke="#111" stroke-width="1.0"/>
<line x1="455.24" y1="241.96" x2="458.04" y2="241.96" stroke="#111" stroke-width="0.9"/>
<line x1="456.64" y1="241.96" x2="456.64" y2="243.16" stroke="#111" stroke-width="1.0"/>
<rect x="462.11" y="292.27" width="6.30" height="4.33" fill="#de6027"/>
<rect x="462.11" y="257.11" width="6.30" height="35.17" fill="#4c9ab7"/>
<rect x="462.11" y="252.24" width="6.30" height="4.87" fill="#7a99da"/>
<rect x="462.11" y="243.04" width="6.30" height="9.20" fill="#dcdcdb"/>
<line x1="463.86" y1="290.11" x2="466.66" y2="290.11" stroke="#111" stroke-width="0.9"/>
<line x1="465.26" y1="290.11" x2="465.26" y2="291.31" stroke="#111" stroke-width="1.0"/>
<line x1="465.26" y1="292.27" x2="465.26" y2="290.11" stroke="#111" stroke-width="0.8"/>
<line x1="463.86" y1="256.57" x2="466.66" y2="256.57" stroke="#111" stroke-width="0.9"/>
<line x1="465.26" y1="256.57" x2="465.26" y2="257.77" stroke="#111" stroke-width="1.0"/>
<line x1="463.86" y1="251.70" x2="466.66" y2="251.70" stroke="#111" stroke-width="0.9"/>
<line x1="465.26" y1="251.70" x2="465.26" y2="252.90" stroke="#111" stroke-width="1.0"/>
<line x1="463.86" y1="243.04" x2="466.66" y2="243.04" stroke="#111" stroke-width="0.9"/>
<line x1="465.26" y1="243.04" x2="465.26" y2="244.24" stroke="#111" stroke-width="1.0"/>
<rect x="470.73" y="291.73" width="6.30" height="4.87" fill="#de6027"/>
<rect x="470.73" y="254.94" width="6.30" height="36.79" fill="#4c9ab7"/>
<rect x="470.73" y="250.62" width="6.30" height="4.33" fill="#7a99da"/>
<rect x="470.73" y="242.50" width="6.30" height="8.12" fill="#dcdcdb"/>
<line x1="472.48" y1="291.19" x2="475.28" y2="291.19" stroke="#111" stroke-width="0.9"/>
<line x1="473.88" y1="291.19" x2="473.88" y2="292.39" stroke="#111" stroke-width="1.0"/>
<line x1="472.48" y1="254.40" x2="475.28" y2="254.40" stroke="#111" stroke-width="0.9"/>
<line x1="473.88" y1="254.40" x2="473.88" y2="255.60" stroke="#111" stroke-width="1.0"/>
<line x1="472.48" y1="250.07" x2="475.28" y2="250.07" stroke="#111" stroke-width="0.9"/>
<line x1="473.88" y1="250.07" x2="473.88" y2="251.27" stroke="#111" stroke-width="1.0"/>
<line x1="472.48" y1="240.88" x2="475.28" y2="240.88" stroke="#111" stroke-width="0.9"/>
<line x1="473.88" y1="240.88" x2="473.88" y2="242.08" stroke="#111" stroke-width="1.0"/>
<line x1="473.88" y1="242.50" x2="473.88" y2="240.88" stroke="#111" stroke-width="0.8"/>
<line x1="389.50" y1="236.28" x2="389.50" y2="297.12" stroke="#000" stroke-width="1.05"/>
<line x1="388.98" y1="296.60" x2="479.40" y2="296.60" stroke="#000" stroke-width="1.05"/>
<line x1="387.20" y1="242.50" x2="389.50" y2="242.50" stroke="#000" stroke-width="1.05"/>
<text x="386.40" y="244.78" font-size="6.7" font-weight="bold" text-anchor="end" fill="#111">100</text>
<line x1="387.20" y1="269.55" x2="389.50" y2="269.55" stroke="#000" stroke-width="1.05"/>
<text x="386.40" y="271.83" font-size="6.7" font-weight="bold" text-anchor="end" fill="#111">50</text>
<line x1="387.20" y1="296.60" x2="389.50" y2="296.60" stroke="#000" stroke-width="1.05"/>
<text x="386.40" y="298.88" font-size="6.7" font-weight="bold" text-anchor="end" fill="#111">0</text>
<line x1="396.30" y1="296.60" x2="396.30" y2="298.90" stroke="#000" stroke-width="1.05"/>
<text x="399.70" y="303.20" font-size="6.9" font-weight="normal" text-anchor="end" fill="#111" transform="rotate(-45 399.70 303.20)">DMSO</text>
<line x1="404.92" y1="296.60" x2="404.92" y2="298.90" stroke="#000" stroke-width="1.05"/>
<text x="408.32" y="303.20" font-size="6.9" font-weight="normal" text-anchor="end" fill="#111" transform="rotate(-45 408.32 303.20)">0.039</text>
<line x1="413.54" y1="296.60" x2="413.54" y2="298.90" stroke="#000" stroke-width="1.05"/>
<text x="416.94" y="303.20" font-size="6.9" font-weight="normal" text-anchor="end" fill="#111" transform="rotate(-45 416.94 303.20)">0.078</text>
<line x1="422.16" y1="296.60" x2="422.16" y2="298.90" stroke="#000" stroke-width="1.05"/>
<text x="425.56" y="303.20" font-size="6.9" font-weight="normal" text-anchor="end" fill="#111" transform="rotate(-45 425.56 303.20)">0.156</text>
<line x1="430.78" y1="296.60" x2="430.78" y2="298.90" stroke="#000" stroke-width="1.05"/>
<text x="434.18" y="303.20" font-size="6.9" font-weight="normal" text-anchor="end" fill="#111" transform="rotate(-45 434.18 303.20)">0.313</text>
<line x1="439.40" y1="296.60" x2="439.40" y2="298.90" stroke="#000" stroke-width="1.05"/>
<text x="442.80" y="303.20" font-size="6.9" font-weight="normal" text-anchor="end" fill="#111" transform="rotate(-45 442.80 303.20)">0.625</text>
<line x1="448.02" y1="296.60" x2="448.02" y2="298.90" stroke="#000" stroke-width="1.05"/>
<text x="451.42" y="303.20" font-size="6.9" font-weight="normal" text-anchor="end" fill="#111" transform="rotate(-45 451.42 303.20)">1.25</text>
<line x1="456.64" y1="296.60" x2="456.64" y2="298.90" stroke="#000" stroke-width="1.05"/>
<text x="460.04" y="303.20" font-size="6.9" font-weight="normal" text-anchor="end" fill="#111" transform="rotate(-45 460.04 303.20)">2.5</text>
<line x1="465.26" y1="296.60" x2="465.26" y2="298.90" stroke="#000" stroke-width="1.05"/>
<text x="468.66" y="303.20" font-size="6.9" font-weight="normal" text-anchor="end" fill="#111" transform="rotate(-45 468.66 303.20)">5</text>
<line x1="473.88" y1="296.60" x2="473.88" y2="298.90" stroke="#000" stroke-width="1.05"/>
<text x="477.28" y="303.20" font-size="6.9" font-weight="normal" text-anchor="end" fill="#111" transform="rotate(-45 477.28 303.20)">10</text>
<line x1="388.20" y1="295.25" x2="389.50" y2="295.25" stroke="#000" stroke-width="0.5"/>
<line x1="388.20" y1="293.90" x2="389.50" y2="293.90" stroke="#000" stroke-width="0.5"/>
<line x1="388.20" y1="292.54" x2="389.50" y2="292.54" stroke="#000" stroke-width="0.5"/>
<line x1="388.20" y1="291.19" x2="389.50" y2="291.19" stroke="#000" stroke-width="0.5"/>
<line x1="388.20" y1="289.84" x2="389.50" y2="289.84" stroke="#000" stroke-width="0.5"/>
<line x1="388.20" y1="288.49" x2="389.50" y2="288.49" stroke="#000" stroke-width="0.5"/>
<line x1="388.20" y1="287.13" x2="389.50" y2="287.13" stroke="#000" stroke-width="0.5"/>
<line x1="388.20" y1="285.78" x2="389.50" y2="285.78" stroke="#000" stroke-width="0.5"/>
<line x1="388.20" y1="284.43" x2="389.50" y2="284.43" stroke="#000" stroke-width="0.5"/>
<line x1="388.20" y1="283.08" x2="389.50" y2="283.08" stroke="#000" stroke-width="0.5"/>
<line x1="388.20" y1="281.72" x2="389.50" y2="281.72" stroke="#000" stroke-width="0.5"/>
<line x1="388.20" y1="280.37" x2="389.50" y2="280.37" stroke="#000" stroke-width="0.5"/>
<line x1="388.20" y1="279.02" x2="389.50" y2="279.02" stroke="#000" stroke-width="0.5"/>
<line x1="388.20" y1="277.67" x2="389.50" y2="277.67" stroke="#000" stroke-width="0.5"/>
<line x1="388.20" y1="276.31" x2="389.50" y2="276.31" stroke="#000" stroke-width="0.5"/>
<line x1="388.20" y1="274.96" x2="389.50" y2="274.96" stroke="#000" stroke-width="0.5"/>
<line x1="388.20" y1="273.61" x2="389.50" y2="273.61" stroke="#000" stroke-width="0.5"/>
<line x1="388.20" y1="272.25" x2="389.50" y2="272.25" stroke="#000" stroke-width="0.5"/>
<line x1="388.20" y1="270.90" x2="389.50" y2="270.90" stroke="#000" stroke-width="0.5"/>
<line x1="388.20" y1="268.20" x2="389.50" y2="268.20" stroke="#000" stroke-width="0.5"/>
<line x1="388.20" y1="266.85" x2="389.50" y2="266.85" stroke="#000" stroke-width="0.5"/>
<line x1="388.20" y1="265.49" x2="389.50" y2="265.49" stroke="#000" stroke-width="0.5"/>
<line x1="388.20" y1="264.14" x2="389.50" y2="264.14" stroke="#000" stroke-width="0.5"/>
<line x1="388.20" y1="262.79" x2="389.50" y2="262.79" stroke="#000" stroke-width="0.5"/>
<line x1="388.20" y1="261.44" x2="389.50" y2="261.44" stroke="#000" stroke-width="0.5"/>
<line x1="388.20" y1="260.08" x2="389.50" y2="260.08" stroke="#000" stroke-width="0.5"/>
<line x1="388.20" y1="258.73" x2="389.50" y2="258.73" stroke="#000" stroke-width="0.5"/>
<line x1="388.20" y1="257.38" x2="389.50" y2="257.38" stroke="#000" stroke-width="0.5"/>
<line x1="388.20" y1="256.02" x2="389.50" y2="256.02" stroke="#000" stroke-width="0.5"/>
<line x1="388.20" y1="254.67" x2="389.50" y2="254.67" stroke="#000" stroke-width="0.5"/>
<line x1="388.20" y1="253.32" x2="389.50" y2="253.32" stroke="#000" stroke-width="0.5"/>
<line x1="388.20" y1="251.97" x2="389.50" y2="251.97" stroke="#000" stroke-width="0.5"/>
<line x1="388.20" y1="250.62" x2="389.50" y2="250.62" stroke="#000" stroke-width="0.5"/>
<line x1="388.20" y1="249.26" x2="389.50" y2="249.26" stroke="#000" stroke-width="0.5"/>
<line x1="388.20" y1="247.91" x2="389.50" y2="247.91" stroke="#000" stroke-width="0.5"/>
<line x1="388.20" y1="246.56" x2="389.50" y2="246.56" stroke="#000" stroke-width="0.5"/>
<line x1="388.20" y1="245.21" x2="389.50" y2="245.21" stroke="#000" stroke-width="0.5"/>
<line x1="388.20" y1="243.85" x2="389.50" y2="243.85" stroke="#000" stroke-width="0.5"/>
<line x1="388.20" y1="241.15" x2="389.50" y2="241.15" stroke="#000" stroke-width="0.5"/>
<line x1="388.20" y1="239.79" x2="389.50" y2="239.79" stroke="#000" stroke-width="0.5"/>
<line x1="388.20" y1="238.44" x2="389.50" y2="238.44" stroke="#000" stroke-width="0.5"/>
<text x="249.60" y="265.60" font-size="6.9" font-weight="bold" text-anchor="middle" fill="#111" transform="rotate(-90 249.60 265.60)">% of total</text>
<text x="320.00" y="324.20" font-size="6.65" font-weight="bold" text-anchor="middle" fill="#111">Tulmimetostat (µmol/L)</text>
<text x="443.30" y="324.80" font-size="6.65" font-weight="bold" text-anchor="middle" fill="#111">Tulmimetostat (µmol/L)</text>
<rect x="487.20" y="238.60" width="7.40" height="5.20" fill="#dcdcdb"/>
<text x="497.20" y="243.50" font-size="6.3" font-weight="normal" text-anchor="start" fill="#222">G2/M</text>
<rect x="487.20" y="246.80" width="7.40" height="5.20" fill="#7a99da"/>
<text x="497.20" y="251.70" font-size="6.3" font-weight="normal" text-anchor="start" fill="#222">S</text>
<rect x="487.20" y="254.80" width="7.40" height="5.20" fill="#4c9ab7"/>
<text x="497.20" y="259.70" font-size="6.3" font-weight="normal" text-anchor="start" fill="#222">G1</text>
<rect x="487.20" y="262.90" width="7.40" height="5.20" fill="#de6027"/>
<text x="497.20" y="267.80" font-size="6.3" font-weight="normal" text-anchor="start" fill="#222">subG1</text>
</g>
<g id="panelF">
<text x="0.50" y="341.60" font-size="11" font-weight="bold" text-anchor="start" fill="#000">F</text>
<text x="71.50" y="350.20" font-size="7.8" font-weight="bold" text-anchor="middle" fill="#222">HT1376 CDX</text>
<polyline points="32.30,422.55 39.85,421.76 44.88,419.93 49.91,418.62 57.46,417.83 62.49,416.78 67.52,416.25 75.07,415.99 80.10,416.52 85.14,417.83 92.68,418.88 97.72,419.93 102.75,420.98 107.78,422.03" fill="none" stroke="#e0242e" stroke-width="0.6" stroke-linejoin="round"/>
<line x1="32.30" y1="421.86" x2="32.30" y2="423.24" stroke="#e0242e" stroke-width="0.45"/>
<line x1="31.40" y1="421.86" x2="33.20" y2="421.86" stroke="#e0242e" stroke-width="0.45"/>
<line x1="31.40" y1="423.24" x2="33.20" y2="423.24" stroke="#e0242e" stroke-width="0.45"/>
<polygon points="32.30,423.69 31.25,421.70 33.34,421.70" fill="#e0242e"/>
<line x1="39.85" y1="420.90" x2="39.85" y2="422.63" stroke="#e0242e" stroke-width="0.45"/>
<line x1="38.95" y1="420.90" x2="40.75" y2="420.90" stroke="#e0242e" stroke-width="0.45"/>
<line x1="38.95" y1="422.63" x2="40.75" y2="422.63" stroke="#e0242e" stroke-width="0.45"/>
<polygon points="39.85,422.90 38.80,420.91 40.89,420.91" fill="#e0242e"/>
<line x1="44.88" y1="418.66" x2="44.88" y2="421.20" stroke="#e0242e" stroke-width="0.45"/>
<line x1="43.98" y1="418.66" x2="45.78" y2="418.66" stroke="#e0242e" stroke-width="0.45"/>
<line x1="43.98" y1="421.20" x2="45.78" y2="421.20" stroke="#e0242e" stroke-width="0.45"/>
<polygon points="44.88,421.07 43.83,419.07 45.92,419.07" fill="#e0242e"/>
<line x1="49.91" y1="417.06" x2="49.91" y2="420.17" stroke="#e0242e" stroke-width="0.45"/>
<line x1="49.01" y1="417.06" x2="50.81" y2="417.06" stroke="#e0242e" stroke-width="0.45"/>
<line x1="49.01" y1="420.17" x2="50.81" y2="420.17" stroke="#e0242e" stroke-width="0.45"/>
<polygon points="49.91,419.76 48.87,417.76 50.96,417.76" fill="#e0242e"/>
<line x1="57.46" y1="416.10" x2="57.46" y2="419.56" stroke="#e0242e" stroke-width="0.45"/>
<line x1="56.56" y1="416.10" x2="58.36" y2="416.10" stroke="#e0242e" stroke-width="0.45"/>
<line x1="56.56" y1="419.56" x2="58.36" y2="419.56" stroke="#e0242e" stroke-width="0.45"/>
<polygon points="57.46,418.97 56.41,416.97 58.50,416.97" fill="#e0242e"/>
<line x1="62.49" y1="414.82" x2="62.49" y2="418.74" stroke="#e0242e" stroke-width="0.45"/>
<line x1="61.59" y1="414.82" x2="63.39" y2="414.82" stroke="#e0242e" stroke-width="0.45"/>
<line x1="61.59" y1="418.74" x2="63.39" y2="418.74" stroke="#e0242e" stroke-width="0.45"/>
<polygon points="62.49,417.92 61.45,415.92 63.54,415.92" fill="#e0242e"/>
<line x1="67.52" y1="414.18" x2="67.52" y2="418.33" stroke="#e0242e" stroke-width="0.45"/>
<line x1="66.62" y1="414.18" x2="68.42" y2="414.18" stroke="#e0242e" stroke-width="0.45"/>
<line x1="66.62" y1="418.33" x2="68.42" y2="418.33" stroke="#e0242e" stroke-width="0.45"/>
<polygon points="67.52,417.39 66.48,415.40 68.57,415.40" fill="#e0242e"/>
<line x1="75.07" y1="413.86" x2="75.07" y2="418.13" stroke="#e0242e" stroke-width="0.45"/>
<line x1="74.17" y1="413.86" x2="75.97" y2="413.86" stroke="#e0242e" stroke-width="0.45"/>
<line x1="74.17" y1="418.13" x2="75.97" y2="418.13" stroke="#e0242e" stroke-width="0.45"/>
<polygon points="75.07,417.13 74.03,415.14 76.12,415.14" fill="#e0242e"/>
<line x1="80.10" y1="414.50" x2="80.10" y2="418.54" stroke="#e0242e" stroke-width="0.45"/>
<line x1="79.20" y1="414.50" x2="81.00" y2="414.50" stroke="#e0242e" stroke-width="0.45"/>
<line x1="79.20" y1="418.54" x2="81.00" y2="418.54" stroke="#e0242e" stroke-width="0.45"/>
<polygon points="80.10,417.66 79.06,415.66 81.15,415.66" fill="#e0242e"/>
<line x1="85.14" y1="416.10" x2="85.14" y2="419.56" stroke="#e0242e" stroke-width="0.45"/>
<line x1="84.24" y1="416.10" x2="86.04" y2="416.10" stroke="#e0242e" stroke-width="0.45"/>
<line x1="84.24" y1="419.56" x2="86.04" y2="419.56" stroke="#e0242e" stroke-width="0.45"/>
<polygon points="85.14,418.97 84.09,416.97 86.18,416.97" fill="#e0242e"/>
<line x1="92.68" y1="417.38" x2="92.68" y2="420.38" stroke="#e0242e" stroke-width="0.45"/>
<line x1="91.78" y1="417.38" x2="93.58" y2="417.38" stroke="#e0242e" stroke-width="0.45"/>
<line x1="91.78" y1="420.38" x2="93.58" y2="420.38" stroke="#e0242e" stroke-width="0.45"/>
<polygon points="92.68,420.02 91.64,418.02 93.73,418.02" fill="#e0242e"/>
<line x1="97.72" y1="418.66" x2="97.72" y2="421.20" stroke="#e0242e" stroke-width="0.45"/>
<line x1="96.82" y1="418.66" x2="98.62" y2="418.66" stroke="#e0242e" stroke-width="0.45"/>
<line x1="96.82" y1="421.20" x2="98.62" y2="421.20" stroke="#e0242e" stroke-width="0.45"/>
<polygon points="97.72,421.07 96.67,419.07 98.76,419.07" fill="#e0242e"/>
<line x1="102.75" y1="419.94" x2="102.75" y2="422.02" stroke="#e0242e" stroke-width="0.45"/>
<line x1="101.85" y1="419.94" x2="103.65" y2="419.94" stroke="#e0242e" stroke-width="0.45"/>
<line x1="101.85" y1="422.02" x2="103.65" y2="422.02" stroke="#e0242e" stroke-width="0.45"/>
<polygon points="102.75,422.12 101.70,420.12 103.79,420.12" fill="#e0242e"/>
<line x1="107.78" y1="421.22" x2="107.78" y2="422.83" stroke="#e0242e" stroke-width="0.45"/>
<line x1="106.88" y1="421.22" x2="108.68" y2="421.22" stroke="#e0242e" stroke-width="0.45"/>
<line x1="106.88" y1="422.83" x2="108.68" y2="422.83" stroke="#e0242e" stroke-width="0.45"/>
<polygon points="107.78,423.17 106.73,421.17 108.83,421.17" fill="#e0242e"/>
<polyline points="32.30,422.55 39.85,421.50 44.88,418.62 49.91,416.52 57.46,414.42 62.49,412.06 67.52,409.43 75.07,407.59 80.10,406.81 85.14,406.81 92.68,407.33 97.72,408.64 102.75,411.79 107.78,414.42" fill="none" stroke="#f0701e" stroke-width="0.6" stroke-linejoin="round"/>
<line x1="32.30" y1="421.92" x2="32.30" y2="423.18" stroke="#f0701e" stroke-width="0.45"/>
<line x1="31.40" y1="421.92" x2="33.20" y2="421.92" stroke="#f0701e" stroke-width="0.45"/>
<line x1="31.40" y1="423.18" x2="33.20" y2="423.18" stroke="#f0701e" stroke-width="0.45"/>
<rect x="31.35" y="421.60" width="1.90" height="1.90" fill="#f0701e"/>
<line x1="39.85" y1="420.66" x2="39.85" y2="422.34" stroke="#f0701e" stroke-width="0.45"/>
<line x1="38.95" y1="420.66" x2="40.75" y2="420.66" stroke="#f0701e" stroke-width="0.45"/>
<line x1="38.95" y1="422.34" x2="40.75" y2="422.34" stroke="#f0701e" stroke-width="0.45"/>
<rect x="38.90" y="420.55" width="1.90" height="1.90" fill="#f0701e"/>
<line x1="44.88" y1="417.20" x2="44.88" y2="420.03" stroke="#f0701e" stroke-width="0.45"/>
<line x1="43.98" y1="417.20" x2="45.78" y2="417.20" stroke="#f0701e" stroke-width="0.45"/>
<line x1="43.98" y1="420.03" x2="45.78" y2="420.03" stroke="#f0701e" stroke-width="0.45"/>
<rect x="43.93" y="417.67" width="1.90" height="1.90" fill="#f0701e"/>
<line x1="49.91" y1="414.68" x2="49.91" y2="418.35" stroke="#f0701e" stroke-width="0.45"/>
<line x1="49.01" y1="414.68" x2="50.81" y2="414.68" stroke="#f0701e" stroke-width="0.45"/>
<line x1="49.01" y1="418.35" x2="50.81" y2="418.35" stroke="#f0701e" stroke-width="0.45"/>
<rect x="48.96" y="415.57" width="1.90" height="1.90" fill="#f0701e"/>
<line x1="57.46" y1="412.16" x2="57.46" y2="416.67" stroke="#f0701e" stroke-width="0.45"/>
<line x1="56.56" y1="412.16" x2="58.36" y2="412.16" stroke="#f0701e" stroke-width="0.45"/>
<line x1="56.56" y1="416.67" x2="58.36" y2="416.67" stroke="#f0701e" stroke-width="0.45"/>
<rect x="56.51" y="413.47" width="1.90" height="1.90" fill="#f0701e"/>
<line x1="62.49" y1="409.33" x2="62.49" y2="414.78" stroke="#f0701e" stroke-width="0.45"/>
<line x1="61.59" y1="409.33" x2="63.39" y2="409.33" stroke="#f0701e" stroke-width="0.45"/>
<line x1="61.59" y1="414.78" x2="63.39" y2="414.78" stroke="#f0701e" stroke-width="0.45"/>
<rect x="61.54" y="411.11" width="1.90" height="1.90" fill="#f0701e"/>
<line x1="67.52" y1="406.18" x2="67.52" y2="412.68" stroke="#f0701e" stroke-width="0.45"/>
<line x1="66.62" y1="406.18" x2="68.42" y2="406.18" stroke="#f0701e" stroke-width="0.45"/>
<line x1="66.62" y1="412.68" x2="68.42" y2="412.68" stroke="#f0701e" stroke-width="0.45"/>
<rect x="66.57" y="408.48" width="1.90" height="1.90" fill="#f0701e"/>
<line x1="75.07" y1="403.97" x2="75.07" y2="411.22" stroke="#f0701e" stroke-width="0.45"/>
<line x1="74.17" y1="403.97" x2="75.97" y2="403.97" stroke="#f0701e" stroke-width="0.45"/>
<line x1="74.17" y1="411.22" x2="75.97" y2="411.22" stroke="#f0701e" stroke-width="0.45"/>
<rect x="74.12" y="406.64" width="1.90" height="1.90" fill="#f0701e"/>
<line x1="80.10" y1="403.03" x2="80.10" y2="410.59" stroke="#f0701e" stroke-width="0.45"/>
<line x1="79.20" y1="403.03" x2="81.00" y2="403.03" stroke="#f0701e" stroke-width="0.45"/>
<line x1="79.20" y1="410.59" x2="81.00" y2="410.59" stroke="#f0701e" stroke-width="0.45"/>
<rect x="79.15" y="405.86" width="1.90" height="1.90" fill="#f0701e"/>
<line x1="85.14" y1="403.03" x2="85.14" y2="410.59" stroke="#f0701e" stroke-width="0.45"/>
<line x1="84.24" y1="403.03" x2="86.04" y2="403.03" stroke="#f0701e" stroke-width="0.45"/>
<line x1="84.24" y1="410.59" x2="86.04" y2="410.59" stroke="#f0701e" stroke-width="0.45"/>
<rect x="84.19" y="405.86" width="1.90" height="1.90" fill="#f0701e"/>
<line x1="92.68" y1="403.66" x2="92.68" y2="411.01" stroke="#f0701e" stroke-width="0.45"/>
<line x1="91.78" y1="403.66" x2="93.58" y2="403.66" stroke="#f0701e" stroke-width="0.45"/>
<line x1="91.78" y1="411.01" x2="93.58" y2="411.01" stroke="#f0701e" stroke-width="0.45"/>
<rect x="91.73" y="406.38" width="1.90" height="1.90" fill="#f0701e"/>
<line x1="97.72" y1="405.23" x2="97.72" y2="412.06" stroke="#f0701e" stroke-width="0.45"/>
<line x1="96.82" y1="405.23" x2="98.62" y2="405.23" stroke="#f0701e" stroke-width="0.45"/>
<line x1="96.82" y1="412.06" x2="98.62" y2="412.06" stroke="#f0701e" stroke-width="0.45"/>
<rect x="96.77" y="407.69" width="1.90" height="1.90" fill="#f0701e"/>
<line x1="102.75" y1="409.01" x2="102.75" y2="414.57" stroke="#f0701e" stroke-width="0.45"/>
<line x1="101.85" y1="409.01" x2="103.65" y2="409.01" stroke="#f0701e" stroke-width="0.45"/>
<line x1="101.85" y1="414.57" x2="103.65" y2="414.57" stroke="#f0701e" stroke-width="0.45"/>
<rect x="101.80" y="410.84" width="1.90" height="1.90" fill="#f0701e"/>
<line x1="107.78" y1="412.16" x2="107.78" y2="416.67" stroke="#f0701e" stroke-width="0.45"/>
<line x1="106.88" y1="412.16" x2="108.68" y2="412.16" stroke="#f0701e" stroke-width="0.45"/>
<line x1="106.88" y1="416.67" x2="108.68" y2="416.67" stroke="#f0701e" stroke-width="0.45"/>
<rect x="106.83" y="413.47" width="1.90" height="1.90" fill="#f0701e"/>
<polyline points="32.30,422.55 39.85,421.50 44.88,418.35 49.91,415.99 57.46,413.89 62.49,411.27 67.52,407.86 75.07,405.76 80.10,404.71 85.14,403.13 92.68,401.56 97.72,399.98 102.75,398.41 107.78,398.15" fill="none" stroke="#3f9a4c" stroke-width="0.6" stroke-linejoin="round"/>
<line x1="32.30" y1="421.92" x2="32.30" y2="423.18" stroke="#3f9a4c" stroke-width="0.45"/>
<line x1="31.40" y1="421.92" x2="33.20" y2="421.92" stroke="#3f9a4c" stroke-width="0.45"/>
<line x1="31.40" y1="423.18" x2="33.20" y2="423.18" stroke="#3f9a4c" stroke-width="0.45"/>
<polygon points="32.30,421.41 31.25,423.41 33.34,423.41" fill="#3f9a4c"/>
<line x1="39.85" y1="420.66" x2="39.85" y2="422.34" stroke="#3f9a4c" stroke-width="0.45"/>
<line x1="38.95" y1="420.66" x2="40.75" y2="420.66" stroke="#3f9a4c" stroke-width="0.45"/>
<line x1="38.95" y1="422.34" x2="40.75" y2="422.34" stroke="#3f9a4c" stroke-width="0.45"/>
<polygon points="39.85,420.36 38.80,422.36 40.89,422.36" fill="#3f9a4c"/>
<line x1="44.88" y1="416.88" x2="44.88" y2="419.82" stroke="#3f9a4c" stroke-width="0.45"/>
<line x1="43.98" y1="416.88" x2="45.78" y2="416.88" stroke="#3f9a4c" stroke-width="0.45"/>
<line x1="43.98" y1="419.82" x2="45.78" y2="419.82" stroke="#3f9a4c" stroke-width="0.45"/>
<polygon points="44.88,417.21 43.83,419.21 45.92,419.21" fill="#3f9a4c"/>
<line x1="49.91" y1="414.05" x2="49.91" y2="417.93" stroke="#3f9a4c" stroke-width="0.45"/>
<line x1="49.01" y1="414.05" x2="50.81" y2="414.05" stroke="#3f9a4c" stroke-width="0.45"/>
<line x1="49.01" y1="417.93" x2="50.81" y2="417.93" stroke="#3f9a4c" stroke-width="0.45"/>
<polygon points="49.91,414.85 48.87,416.85 50.96,416.85" fill="#3f9a4c"/>
<line x1="57.46" y1="411.53" x2="57.46" y2="416.25" stroke="#3f9a4c" stroke-width="0.45"/>
<line x1="56.56" y1="411.53" x2="58.36" y2="411.53" stroke="#3f9a4c" stroke-width="0.45"/>
<line x1="56.56" y1="416.25" x2="58.36" y2="416.25" stroke="#3f9a4c" stroke-width="0.45"/>
<polygon points="57.46,412.75 56.41,414.75 58.50,414.75" fill="#3f9a4c"/>
<line x1="62.49" y1="408.38" x2="62.49" y2="414.15" stroke="#3f9a4c" stroke-width="0.45"/>
<line x1="61.59" y1="408.38" x2="63.39" y2="408.38" stroke="#3f9a4c" stroke-width="0.45"/>
<line x1="61.59" y1="414.15" x2="63.39" y2="414.15" stroke="#3f9a4c" stroke-width="0.45"/>
<polygon points="62.49,410.13 61.45,412.12 63.54,412.12" fill="#3f9a4c"/>
<line x1="67.52" y1="404.29" x2="67.52" y2="411.43" stroke="#3f9a4c" stroke-width="0.45"/>
<line x1="66.62" y1="404.29" x2="68.42" y2="404.29" stroke="#3f9a4c" stroke-width="0.45"/>
<line x1="66.62" y1="411.43" x2="68.42" y2="411.43" stroke="#3f9a4c" stroke-width="0.45"/>
<polygon points="67.52,406.72 66.48,408.71 68.57,408.71" fill="#3f9a4c"/>
<line x1="75.07" y1="401.77" x2="75.07" y2="409.75" stroke="#3f9a4c" stroke-width="0.45"/>
<line x1="74.17" y1="401.77" x2="75.97" y2="401.77" stroke="#3f9a4c" stroke-width="0.45"/>
<line x1="74.17" y1="409.75" x2="75.97" y2="409.75" stroke="#3f9a4c" stroke-width="0.45"/>
<polygon points="75.07,404.62 74.03,406.61 76.12,406.61" fill="#3f9a4c"/>
<line x1="80.10" y1="400.51" x2="80.10" y2="408.91" stroke="#3f9a4c" stroke-width="0.45"/>
<line x1="79.20" y1="400.51" x2="81.00" y2="400.51" stroke="#3f9a4c" stroke-width="0.45"/>
<line x1="79.20" y1="408.91" x2="81.00" y2="408.91" stroke="#3f9a4c" stroke-width="0.45"/>
<polygon points="80.10,403.57 79.06,405.56 81.15,405.56" fill="#3f9a4c"/>
<line x1="85.14" y1="398.62" x2="85.14" y2="407.65" stroke="#3f9a4c" stroke-width="0.45"/>
<line x1="84.24" y1="398.62" x2="86.04" y2="398.62" stroke="#3f9a4c" stroke-width="0.45"/>
<line x1="84.24" y1="407.65" x2="86.04" y2="407.65" stroke="#3f9a4c" stroke-width="0.45"/>
<polygon points="85.14,401.99 84.09,403.99 86.18,403.99" fill="#3f9a4c"/>
<line x1="92.68" y1="396.73" x2="92.68" y2="406.39" stroke="#3f9a4c" stroke-width="0.45"/>
<line x1="91.78" y1="396.73" x2="93.58" y2="396.73" stroke="#3f9a4c" stroke-width="0.45"/>
<line x1="91.78" y1="406.39" x2="93.58" y2="406.39" stroke="#3f9a4c" stroke-width="0.45"/>
<polygon points="92.68,400.42 91.64,402.41 93.73,402.41" fill="#3f9a4c"/>
<line x1="97.72" y1="394.84" x2="97.72" y2="405.13" stroke="#3f9a4c" stroke-width="0.45"/>
<line x1="96.82" y1="394.84" x2="98.62" y2="394.84" stroke="#3f9a4c" stroke-width="0.45"/>
<line x1="96.82" y1="405.13" x2="98.62" y2="405.13" stroke="#3f9a4c" stroke-width="0.45"/>
<polygon points="97.72,398.84 96.67,400.84 98.76,400.84" fill="#3f9a4c"/>
<line x1="102.75" y1="392.95" x2="102.75" y2="403.87" stroke="#3f9a4c" stroke-width="0.45"/>
<line x1="101.85" y1="392.95" x2="103.65" y2="392.95" stroke="#3f9a4c" stroke-width="0.45"/>
<line x1="101.85" y1="403.87" x2="103.65" y2="403.87" stroke="#3f9a4c" stroke-width="0.45"/>
<polygon points="102.75,397.27 101.70,399.27 103.79,399.27" fill="#3f9a4c"/>
<line x1="107.78" y1="392.64" x2="107.78" y2="403.66" stroke="#3f9a4c" stroke-width="0.45"/>
<line x1="106.88" y1="392.64" x2="108.68" y2="392.64" stroke="#3f9a4c" stroke-width="0.45"/>
<line x1="106.88" y1="403.66" x2="108.68" y2="403.66" stroke="#3f9a4c" stroke-width="0.45"/>
<polygon points="107.78,397.01 106.73,399.00 108.83,399.00" fill="#3f9a4c"/>
<polyline points="32.30,422.55 39.85,421.50 44.88,418.22 49.91,415.86 57.46,413.63 62.49,410.74 67.52,407.33 75.07,404.71 80.10,403.13 85.14,401.30 92.68,399.20 97.72,397.10 102.75,393.95 107.78,390.80" fill="none" stroke="#3a55c8" stroke-width="0.6" stroke-linejoin="round"/>
<line x1="32.30" y1="421.92" x2="32.30" y2="423.18" stroke="#3a55c8" stroke-width="0.45"/>
<line x1="31.40" y1="421.92" x2="33.20" y2="421.92" stroke="#3a55c8" stroke-width="0.45"/>
<line x1="31.40" y1="423.18" x2="33.20" y2="423.18" stroke="#3a55c8" stroke-width="0.45"/>
<polygon points="32.30,421.41 31.25,423.41 33.34,423.41" fill="#3a55c8"/>
<line x1="39.85" y1="420.66" x2="39.85" y2="422.34" stroke="#3a55c8" stroke-width="0.45"/>
<line x1="38.95" y1="420.66" x2="40.75" y2="420.66" stroke="#3a55c8" stroke-width="0.45"/>
<line x1="38.95" y1="422.34" x2="40.75" y2="422.34" stroke="#3a55c8" stroke-width="0.45"/>
<polygon points="39.85,420.36 38.80,422.36 40.89,422.36" fill="#3a55c8"/>
<line x1="44.88" y1="416.73" x2="44.88" y2="419.72" stroke="#3a55c8" stroke-width="0.45"/>
<line x1="43.98" y1="416.73" x2="45.78" y2="416.73" stroke="#3a55c8" stroke-width="0.45"/>
<line x1="43.98" y1="419.72" x2="45.78" y2="419.72" stroke="#3a55c8" stroke-width="0.45"/>
<polygon points="44.88,417.08 43.83,419.08 45.92,419.08" fill="#3a55c8"/>
<line x1="49.91" y1="413.89" x2="49.91" y2="417.83" stroke="#3a55c8" stroke-width="0.45"/>
<line x1="49.01" y1="413.89" x2="50.81" y2="413.89" stroke="#3a55c8" stroke-width="0.45"/>
<line x1="49.01" y1="417.83" x2="50.81" y2="417.83" stroke="#3a55c8" stroke-width="0.45"/>
<polygon points="49.91,414.72 48.87,416.72 50.96,416.72" fill="#3a55c8"/>
<line x1="57.46" y1="411.22" x2="57.46" y2="416.04" stroke="#3a55c8" stroke-width="0.45"/>
<line x1="56.56" y1="411.22" x2="58.36" y2="411.22" stroke="#3a55c8" stroke-width="0.45"/>
<line x1="56.56" y1="416.04" x2="58.36" y2="416.04" stroke="#3a55c8" stroke-width="0.45"/>
<polygon points="57.46,412.49 56.41,414.48 58.50,414.48" fill="#3a55c8"/>
<line x1="62.49" y1="407.75" x2="62.49" y2="413.73" stroke="#3a55c8" stroke-width="0.45"/>
<line x1="61.59" y1="407.75" x2="63.39" y2="407.75" stroke="#3a55c8" stroke-width="0.45"/>
<line x1="61.59" y1="413.73" x2="63.39" y2="413.73" stroke="#3a55c8" stroke-width="0.45"/>
<polygon points="62.49,409.60 61.45,411.60 63.54,411.60" fill="#3a55c8"/>
<line x1="67.52" y1="403.66" x2="67.52" y2="411.01" stroke="#3a55c8" stroke-width="0.45"/>
<line x1="66.62" y1="403.66" x2="68.42" y2="403.66" stroke="#3a55c8" stroke-width="0.45"/>
<line x1="66.62" y1="411.01" x2="68.42" y2="411.01" stroke="#3a55c8" stroke-width="0.45"/>
<polygon points="67.52,406.19 66.48,408.19 68.57,408.19" fill="#3a55c8"/>
<line x1="75.07" y1="400.51" x2="75.07" y2="408.91" stroke="#3a55c8" stroke-width="0.45"/>
<line x1="74.17" y1="400.51" x2="75.97" y2="400.51" stroke="#3a55c8" stroke-width="0.45"/>
<line x1="74.17" y1="408.91" x2="75.97" y2="408.91" stroke="#3a55c8" stroke-width="0.45"/>
<polygon points="75.07,403.57 74.03,405.56 76.12,405.56" fill="#3a55c8"/>
<line x1="80.10" y1="398.62" x2="80.10" y2="407.65" stroke="#3a55c8" stroke-width="0.45"/>
<line x1="79.20" y1="398.62" x2="81.00" y2="398.62" stroke="#3a55c8" stroke-width="0.45"/>
<line x1="79.20" y1="407.65" x2="81.00" y2="407.65" stroke="#3a55c8" stroke-width="0.45"/>
<polygon points="80.10,401.99 79.06,403.99 81.15,403.99" fill="#3a55c8"/>
<line x1="85.14" y1="396.42" x2="85.14" y2="406.18" stroke="#3a55c8" stroke-width="0.45"/>
<line x1="84.24" y1="396.42" x2="86.04" y2="396.42" stroke="#3a55c8" stroke-width="0.45"/>
<line x1="84.24" y1="406.18" x2="86.04" y2="406.18" stroke="#3a55c8" stroke-width="0.45"/>
<polygon points="85.14,400.16 84.09,402.15 86.18,402.15" fill="#3a55c8"/>
<line x1="92.68" y1="393.90" x2="92.68" y2="404.50" stroke="#3a55c8" stroke-width="0.45"/>
<line x1="91.78" y1="393.90" x2="93.58" y2="393.90" stroke="#3a55c8" stroke-width="0.45"/>
<line x1="91.78" y1="404.50" x2="93.58" y2="404.50" stroke="#3a55c8" stroke-width="0.45"/>
<polygon points="92.68,398.06 91.64,400.05 93.73,400.05" fill="#3a55c8"/>
<line x1="97.72" y1="391.38" x2="97.72" y2="402.82" stroke="#3a55c8" stroke-width="0.45"/>
<line x1="96.82" y1="391.38" x2="98.62" y2="391.38" stroke="#3a55c8" stroke-width="0.45"/>
<line x1="96.82" y1="402.82" x2="98.62" y2="402.82" stroke="#3a55c8" stroke-width="0.45"/>
<polygon points="97.72,395.96 96.67,397.95 98.76,397.95" fill="#3a55c8"/>
<line x1="102.75" y1="387.60" x2="102.75" y2="400.30" stroke="#3a55c8" stroke-width="0.45"/>
<line x1="101.85" y1="387.60" x2="103.65" y2="387.60" stroke="#3a55c8" stroke-width="0.45"/>
<line x1="101.85" y1="400.30" x2="103.65" y2="400.30" stroke="#3a55c8" stroke-width="0.45"/>
<polygon points="102.75,392.81 101.70,394.80 103.79,394.80" fill="#3a55c8"/>
<line x1="107.78" y1="383.82" x2="107.78" y2="397.78" stroke="#3a55c8" stroke-width="0.45"/>
<line x1="106.88" y1="383.82" x2="108.68" y2="383.82" stroke="#3a55c8" stroke-width="0.45"/>
<line x1="106.88" y1="397.78" x2="108.68" y2="397.78" stroke="#3a55c8" stroke-width="0.45"/>
<polygon points="107.78,389.66 106.73,391.66 108.83,391.66" fill="#3a55c8"/>
<polyline points="32.30,422.55 39.85,421.50 44.88,418.09 49.91,415.73 57.46,413.37 62.49,410.48 67.52,406.81 75.07,403.92 80.10,401.30 85.14,398.67 92.68,395.52 97.72,391.59 102.75,385.03 107.78,377.94" fill="none" stroke="#000" stroke-width="0.6" stroke-linejoin="round"/>
<line x1="32.30" y1="422.02" x2="32.30" y2="423.09" stroke="#000" stroke-width="0.45"/>
<line x1="31.40" y1="422.02" x2="33.20" y2="422.02" stroke="#000" stroke-width="0.45"/>
<line x1="31.40" y1="423.09" x2="33.20" y2="423.09" stroke="#000" stroke-width="0.45"/>
<circle cx="32.30" cy="422.55" r="0.95" fill="#000"/>
<line x1="39.85" y1="420.79" x2="39.85" y2="422.22" stroke="#000" stroke-width="0.45"/>
<line x1="38.95" y1="420.79" x2="40.75" y2="420.79" stroke="#000" stroke-width="0.45"/>
<line x1="38.95" y1="422.22" x2="40.75" y2="422.22" stroke="#000" stroke-width="0.45"/>
<circle cx="39.85" cy="421.50" r="0.95" fill="#000"/>
<line x1="44.88" y1="416.80" x2="44.88" y2="419.38" stroke="#000" stroke-width="0.45"/>
<line x1="43.98" y1="416.80" x2="45.78" y2="416.80" stroke="#000" stroke-width="0.45"/>
<line x1="43.98" y1="419.38" x2="45.78" y2="419.38" stroke="#000" stroke-width="0.45"/>
<circle cx="44.88" cy="418.09" r="0.95" fill="#000"/>
<line x1="49.91" y1="414.03" x2="49.91" y2="417.42" stroke="#000" stroke-width="0.45"/>
<line x1="49.01" y1="414.03" x2="50.81" y2="414.03" stroke="#000" stroke-width="0.45"/>
<line x1="49.01" y1="417.42" x2="50.81" y2="417.42" stroke="#000" stroke-width="0.45"/>
<circle cx="49.91" cy="415.73" r="0.95" fill="#000"/>
<line x1="57.46" y1="411.27" x2="57.46" y2="415.46" stroke="#000" stroke-width="0.45"/>
<line x1="56.56" y1="411.27" x2="58.36" y2="411.27" stroke="#000" stroke-width="0.45"/>
<line x1="56.56" y1="415.46" x2="58.36" y2="415.46" stroke="#000" stroke-width="0.45"/>
<circle cx="57.46" cy="413.37" r="0.95" fill="#000"/>
<line x1="62.49" y1="407.89" x2="62.49" y2="413.07" stroke="#000" stroke-width="0.45"/>
<line x1="61.59" y1="407.89" x2="63.39" y2="407.89" stroke="#000" stroke-width="0.45"/>
<line x1="61.59" y1="413.07" x2="63.39" y2="413.07" stroke="#000" stroke-width="0.45"/>
<circle cx="62.49" cy="410.48" r="0.95" fill="#000"/>
<line x1="67.52" y1="403.60" x2="67.52" y2="410.02" stroke="#000" stroke-width="0.45"/>
<line x1="66.62" y1="403.60" x2="68.42" y2="403.60" stroke="#000" stroke-width="0.45"/>
<line x1="66.62" y1="410.02" x2="68.42" y2="410.02" stroke="#000" stroke-width="0.45"/>
<circle cx="67.52" cy="406.81" r="0.95" fill="#000"/>
<line x1="75.07" y1="400.22" x2="75.07" y2="407.62" stroke="#000" stroke-width="0.45"/>
<line x1="74.17" y1="400.22" x2="75.97" y2="400.22" stroke="#000" stroke-width="0.45"/>
<line x1="74.17" y1="407.62" x2="75.97" y2="407.62" stroke="#000" stroke-width="0.45"/>
<circle cx="75.07" cy="403.92" r="0.95" fill="#000"/>
<line x1="80.10" y1="397.15" x2="80.10" y2="405.45" stroke="#000" stroke-width="0.45"/>
<line x1="79.20" y1="397.15" x2="81.00" y2="397.15" stroke="#000" stroke-width="0.45"/>
<line x1="79.20" y1="405.45" x2="81.00" y2="405.45" stroke="#000" stroke-width="0.45"/>
<circle cx="80.10" cy="401.30" r="0.95" fill="#000"/>
<line x1="85.14" y1="394.08" x2="85.14" y2="403.27" stroke="#000" stroke-width="0.45"/>
<line x1="84.24" y1="394.08" x2="86.04" y2="394.08" stroke="#000" stroke-width="0.45"/>
<line x1="84.24" y1="403.27" x2="86.04" y2="403.27" stroke="#000" stroke-width="0.45"/>
<circle cx="85.14" cy="398.67" r="0.95" fill="#000"/>
<line x1="92.68" y1="390.39" x2="92.68" y2="400.65" stroke="#000" stroke-width="0.45"/>
<line x1="91.78" y1="390.39" x2="93.58" y2="390.39" stroke="#000" stroke-width="0.45"/>
<line x1="91.78" y1="400.65" x2="93.58" y2="400.65" stroke="#000" stroke-width="0.45"/>
<circle cx="92.68" cy="395.52" r="0.95" fill="#000"/>
<line x1="97.72" y1="385.79" x2="97.72" y2="397.39" stroke="#000" stroke-width="0.45"/>
<line x1="96.82" y1="385.79" x2="98.62" y2="385.79" stroke="#000" stroke-width="0.45"/>
<line x1="96.82" y1="397.39" x2="98.62" y2="397.39" stroke="#000" stroke-width="0.45"/>
<circle cx="97.72" cy="391.59" r="0.95" fill="#000"/>
<line x1="102.75" y1="378.11" x2="102.75" y2="391.94" stroke="#000" stroke-width="0.45"/>
<line x1="101.85" y1="378.11" x2="103.65" y2="378.11" stroke="#000" stroke-width="0.45"/>
<line x1="101.85" y1="391.94" x2="103.65" y2="391.94" stroke="#000" stroke-width="0.45"/>
<circle cx="102.75" cy="385.03" r="0.95" fill="#000"/>
<line x1="107.78" y1="369.82" x2="107.78" y2="386.06" stroke="#000" stroke-width="0.45"/>
<line x1="106.88" y1="369.82" x2="108.68" y2="369.82" stroke="#000" stroke-width="0.45"/>
<line x1="106.88" y1="386.06" x2="108.68" y2="386.06" stroke="#000" stroke-width="0.45"/>
<circle cx="107.78" cy="377.94" r="0.95" fill="#000"/>
<line x1="32.30" y1="359.73" x2="32.30" y2="426.07" stroke="#000" stroke-width="0.75"/>
<line x1="31.92" y1="425.70" x2="120.73" y2="425.70" stroke="#000" stroke-width="0.75"/>
<line x1="30.40" y1="425.70" x2="32.30" y2="425.70" stroke="#000" stroke-width="0.75"/>
<text x="29.60" y="427.64" font-size="5.7" font-weight="normal" text-anchor="end" fill="#111">0</text>
<line x1="30.40" y1="412.58" x2="32.30" y2="412.58" stroke="#000" stroke-width="0.75"/>
<text x="29.60" y="414.52" font-size="5.7" font-weight="normal" text-anchor="end" fill="#111">500</text>
<line x1="30.40" y1="399.46" x2="32.30" y2="399.46" stroke="#000" stroke-width="0.75"/>
<text x="29.60" y="401.40" font-size="5.7" font-weight="normal" text-anchor="end" fill="#111">1,000</text>
<line x1="30.40" y1="386.34" x2="32.30" y2="386.34" stroke="#000" stroke-width="0.75"/>
<text x="29.60" y="388.28" font-size="5.7" font-weight="normal" text-anchor="end" fill="#111">1,500</text>
<line x1="30.40" y1="373.22" x2="32.30" y2="373.22" stroke="#000" stroke-width="0.75"/>
<text x="29.60" y="375.16" font-size="5.7" font-weight="normal" text-anchor="end" fill="#111">2,000</text>
<line x1="30.40" y1="360.10" x2="32.30" y2="360.10" stroke="#000" stroke-width="0.75"/>
<text x="29.60" y="362.04" font-size="5.7" font-weight="normal" text-anchor="end" fill="#111">2,500</text>
<line x1="32.30" y1="425.70" x2="32.30" y2="427.60" stroke="#000" stroke-width="0.75"/>
<text x="32.30" y="433.70" font-size="5.7" font-weight="normal" text-anchor="middle" fill="#111">0</text>
<line x1="44.88" y1="425.70" x2="44.88" y2="427.60" stroke="#000" stroke-width="0.75"/>
<text x="44.88" y="433.70" font-size="5.7" font-weight="normal" text-anchor="middle" fill="#111">5</text>
<line x1="57.46" y1="425.70" x2="57.46" y2="427.60" stroke="#000" stroke-width="0.75"/>
<text x="57.46" y="433.70" font-size="5.7" font-weight="normal" text-anchor="middle" fill="#111">10</text>
<line x1="70.04" y1="425.70" x2="70.04" y2="427.60" stroke="#000" stroke-width="0.75"/>
<text x="70.04" y="433.70" font-size="5.7" font-weight="normal" text-anchor="middle" fill="#111">15</text>
<line x1="82.62" y1="425.70" x2="82.62" y2="427.60" stroke="#000" stroke-width="0.75"/>
<text x="82.62" y="433.70" font-size="5.7" font-weight="normal" text-anchor="middle" fill="#111">20</text>
<line x1="95.20" y1="425.70" x2="95.20" y2="427.60" stroke="#000" stroke-width="0.75"/>
<text x="95.20" y="433.70" font-size="5.7" font-weight="normal" text-anchor="middle" fill="#111">25</text>
<line x1="107.78" y1="425.70" x2="107.78" y2="427.60" stroke="#000" stroke-width="0.75"/>
<text x="107.78" y="433.70" font-size="5.7" font-weight="normal" text-anchor="middle" fill="#111">30</text>
<line x1="120.36" y1="425.70" x2="120.36" y2="427.60" stroke="#000" stroke-width="0.75"/>
<text x="120.36" y="433.70" font-size="5.7" font-weight="normal" text-anchor="middle" fill="#111">35</text>
<text x="10.5" y="391.2" font-size="7.0" font-weight="bold" text-anchor="middle" fill="#111" transform="rotate(-90 10.5 391.2)">Tumor volume (mm<tspan font-size="4.5" dy="-2.6">3</tspan><tspan dy="2.6">)</tspan></text>
<text x="76.20" y="442.00" font-size="6.8" font-weight="bold" text-anchor="middle" fill="#111">Days post grouping</text>
</g>
<text x="113.40" y="452.20" font-size="5.55" font-weight="bold" text-anchor="start" fill="#111">TGI relative</text>
<text x="113.40" y="459.00" font-size="5.55" font-weight="bold" text-anchor="start" fill="#111">to veh (d30)</text>
<line x1="113.40" y1="460.10" x2="145.90" y2="460.10" stroke="#111" stroke-width="0.5"/>
<line x1="19.20" y1="457.00" x2="23.80" y2="457.00" stroke="#000" stroke-width="0.6"/>
<circle cx="21.50" cy="457.00" r="0.9" fill="#000"/>
<text x="27.00" y="459.00" font-size="5.55" font-weight="normal" text-anchor="start" fill="#111">Vehicle</text>
<line x1="19.20" y1="463.30" x2="23.80" y2="463.30" stroke="#3a55c8" stroke-width="0.6"/>
<polygon points="21.50,462.22 20.51,464.11 22.49,464.11" fill="#3a55c8"/>
<text x="27.00" y="465.30" font-size="5.55" font-weight="normal" text-anchor="start" fill="#111">Tulmimetostat (10 mg/kg, PO, QD)</text>
<line x1="19.20" y1="469.90" x2="23.80" y2="469.90" stroke="#3f9a4c" stroke-width="0.6"/>
<polygon points="21.50,468.82 20.51,470.71 22.49,470.71" fill="#3f9a4c"/>
<text x="27.00" y="471.90" font-size="5.55" font-weight="normal" text-anchor="start" fill="#111">Tulmimetostat (25 mg/kg, PO, QD)</text>
<line x1="19.20" y1="476.50" x2="23.80" y2="476.50" stroke="#f0701e" stroke-width="0.6"/>
<rect x="20.60" y="475.60" width="1.80" height="1.80" fill="#f0701e"/>
<text x="27.00" y="478.50" font-size="5.55" font-weight="normal" text-anchor="start" fill="#111">Tulmimetostat (75 mg/kg, PO, QD)</text>
<line x1="19.20" y1="483.10" x2="23.80" y2="483.10" stroke="#e0242e" stroke-width="0.6"/>
<polygon points="21.50,484.18 20.51,482.29 22.49,482.29" fill="#e0242e"/>
<text x="27.00" y="485.10" font-size="5.55" font-weight="normal" text-anchor="start" fill="#111">Tulmimetostat (150 mg/kg, PO, QD)</text>
<text x="116.60" y="465.30" font-size="5.6" font-weight="normal" text-anchor="start" fill="#3a55c8">30%</text>
<text x="130.00" y="465.30" font-size="4.8" font-weight="normal" text-anchor="start" fill="#666">ns</text>
<text x="116.60" y="471.90" font-size="5.6" font-weight="normal" text-anchor="start" fill="#3f9a4c">47%</text>
<text x="130.00" y="471.90" font-size="4.8" font-weight="normal" text-anchor="start" fill="#666">ns</text>
<text x="116.60" y="478.50" font-size="5.6" font-weight="normal" text-anchor="start" fill="#f0701e">83%</text>
<text x="131.50" y="479.50" font-size="6.6" font-weight="normal" text-anchor="start" fill="#666">*</text>
<text x="116.60" y="485.10" font-size="5.6" font-weight="normal" text-anchor="start" fill="#e0242e">98%</text>
<text x="131.50" y="486.10" font-size="6.6" font-weight="normal" text-anchor="start" fill="#666">*</text>
<g id="panelG">
<text x="130.00" y="341.60" font-size="11" font-weight="bold" text-anchor="start" fill="#000">G</text>
<text x="199.00" y="349.70" font-size="7.8" font-weight="bold" text-anchor="middle" fill="#222">BL9209 PDX</text>
<polyline points="159.90,422.28 166.67,421.61 171.74,420.28 178.51,418.51 183.59,416.73 190.36,414.07 195.43,411.41 202.20,407.20 207.28,404.10 208.97,403.43 214.04,399.44 219.12,395.01 225.89,392.35 230.96,382.38" fill="none" stroke="#e4555a" stroke-width="0.6" stroke-linejoin="round"/>
<line x1="159.90" y1="421.51" x2="159.90" y2="423.04" stroke="#e4555a" stroke-width="0.45"/>
<line x1="159.00" y1="421.51" x2="160.80" y2="421.51" stroke="#e4555a" stroke-width="0.45"/>
<line x1="159.00" y1="423.04" x2="160.80" y2="423.04" stroke="#e4555a" stroke-width="0.45"/>
<polygon points="159.90,423.42 158.86,421.42 160.94,421.42" fill="#e4555a"/>
<line x1="166.67" y1="420.69" x2="166.67" y2="422.53" stroke="#e4555a" stroke-width="0.45"/>
<line x1="165.77" y1="420.69" x2="167.57" y2="420.69" stroke="#e4555a" stroke-width="0.45"/>
<line x1="165.77" y1="422.53" x2="167.57" y2="422.53" stroke="#e4555a" stroke-width="0.45"/>
<polygon points="166.67,422.75 165.62,420.75 167.71,420.75" fill="#e4555a"/>
<line x1="171.74" y1="419.06" x2="171.74" y2="421.50" stroke="#e4555a" stroke-width="0.45"/>
<line x1="170.84" y1="419.06" x2="172.64" y2="419.06" stroke="#e4555a" stroke-width="0.45"/>
<line x1="170.84" y1="421.50" x2="172.64" y2="421.50" stroke="#e4555a" stroke-width="0.45"/>
<polygon points="171.74,421.42 170.70,419.43 172.79,419.43" fill="#e4555a"/>
<line x1="178.51" y1="416.88" x2="178.51" y2="420.14" stroke="#e4555a" stroke-width="0.45"/>
<line x1="177.61" y1="416.88" x2="179.41" y2="416.88" stroke="#e4555a" stroke-width="0.45"/>
<line x1="177.61" y1="420.14" x2="179.41" y2="420.14" stroke="#e4555a" stroke-width="0.45"/>
<polygon points="178.51,419.65 177.47,417.65 179.56,417.65" fill="#e4555a"/>
<line x1="183.59" y1="414.69" x2="183.59" y2="418.77" stroke="#e4555a" stroke-width="0.45"/>
<line x1="182.69" y1="414.69" x2="184.49" y2="414.69" stroke="#e4555a" stroke-width="0.45"/>
<line x1="182.69" y1="418.77" x2="184.49" y2="418.77" stroke="#e4555a" stroke-width="0.45"/>
<polygon points="183.59,417.87 182.54,415.88 184.63,415.88" fill="#e4555a"/>
<line x1="190.36" y1="411.42" x2="190.36" y2="416.72" stroke="#e4555a" stroke-width="0.45"/>
<line x1="189.46" y1="411.42" x2="191.26" y2="411.42" stroke="#e4555a" stroke-width="0.45"/>
<line x1="189.46" y1="416.72" x2="191.26" y2="416.72" stroke="#e4555a" stroke-width="0.45"/>
<polygon points="190.36,415.21 189.31,413.22 191.40,413.22" fill="#e4555a"/>
<line x1="195.43" y1="408.15" x2="195.43" y2="414.68" stroke="#e4555a" stroke-width="0.45"/>
<line x1="194.53" y1="408.15" x2="196.33" y2="408.15" stroke="#e4555a" stroke-width="0.45"/>
<line x1="194.53" y1="414.68" x2="196.33" y2="414.68" stroke="#e4555a" stroke-width="0.45"/>
<polygon points="195.43,412.55 194.39,410.56 196.48,410.56" fill="#e4555a"/>
<line x1="202.20" y1="402.97" x2="202.20" y2="411.43" stroke="#e4555a" stroke-width="0.45"/>
<line x1="201.30" y1="402.97" x2="203.10" y2="402.97" stroke="#e4555a" stroke-width="0.45"/>
<line x1="201.30" y1="411.43" x2="203.10" y2="411.43" stroke="#e4555a" stroke-width="0.45"/>
<polygon points="202.20,408.34 201.16,406.35 203.25,406.35" fill="#e4555a"/>
<line x1="207.28" y1="399.15" x2="207.28" y2="409.04" stroke="#e4555a" stroke-width="0.45"/>
<line x1="206.38" y1="399.15" x2="208.18" y2="399.15" stroke="#e4555a" stroke-width="0.45"/>
<line x1="206.38" y1="409.04" x2="208.18" y2="409.04" stroke="#e4555a" stroke-width="0.45"/>
<polygon points="207.28,405.24 206.23,403.24 208.32,403.24" fill="#e4555a"/>
<line x1="208.97" y1="398.34" x2="208.97" y2="408.53" stroke="#e4555a" stroke-width="0.45"/>
<line x1="208.07" y1="398.34" x2="209.87" y2="398.34" stroke="#e4555a" stroke-width="0.45"/>
<line x1="208.07" y1="408.53" x2="209.87" y2="408.53" stroke="#e4555a" stroke-width="0.45"/>
<polygon points="208.97,404.57 207.92,402.58 210.01,402.58" fill="#e4555a"/>
<line x1="214.04" y1="393.43" x2="214.04" y2="405.46" stroke="#e4555a" stroke-width="0.45"/>
<line x1="213.14" y1="393.43" x2="214.94" y2="393.43" stroke="#e4555a" stroke-width="0.45"/>
<line x1="213.14" y1="405.46" x2="214.94" y2="405.46" stroke="#e4555a" stroke-width="0.45"/>
<polygon points="214.04,400.58 213.00,398.59 215.09,398.59" fill="#e4555a"/>
<line x1="219.12" y1="387.97" x2="219.12" y2="402.05" stroke="#e4555a" stroke-width="0.45"/>
<line x1="218.22" y1="387.97" x2="220.02" y2="387.97" stroke="#e4555a" stroke-width="0.45"/>
<line x1="218.22" y1="402.05" x2="220.02" y2="402.05" stroke="#e4555a" stroke-width="0.45"/>
<polygon points="219.12,396.15 218.08,394.16 220.16,394.16" fill="#e4555a"/>
<line x1="225.89" y1="384.70" x2="225.89" y2="400.00" stroke="#e4555a" stroke-width="0.45"/>
<line x1="224.99" y1="384.70" x2="226.79" y2="384.70" stroke="#e4555a" stroke-width="0.45"/>
<line x1="224.99" y1="400.00" x2="226.79" y2="400.00" stroke="#e4555a" stroke-width="0.45"/>
<polygon points="225.89,393.49 224.84,391.50 226.93,391.50" fill="#e4555a"/>
<line x1="230.96" y1="372.43" x2="230.96" y2="392.32" stroke="#e4555a" stroke-width="0.45"/>
<line x1="230.06" y1="372.43" x2="231.86" y2="372.43" stroke="#e4555a" stroke-width="0.45"/>
<line x1="230.06" y1="392.32" x2="231.86" y2="392.32" stroke="#e4555a" stroke-width="0.45"/>
<polygon points="230.96,383.51 229.92,381.52 232.01,381.52" fill="#e4555a"/>
<polyline points="159.90,422.28 166.67,421.39 171.74,419.17 178.51,416.29 183.59,413.19 190.36,407.87 195.43,402.77 202.20,390.13 207.28,380.16 208.97,379.05" fill="none" stroke="#000" stroke-width="0.6" stroke-linejoin="round"/>
<line x1="159.90" y1="421.91" x2="159.90" y2="422.64" stroke="#000" stroke-width="0.45"/>
<line x1="159.00" y1="421.91" x2="160.80" y2="421.91" stroke="#000" stroke-width="0.45"/>
<line x1="159.00" y1="422.64" x2="160.80" y2="422.64" stroke="#000" stroke-width="0.45"/>
<circle cx="159.90" cy="422.28" r="0.95" fill="#000"/>
<line x1="166.67" y1="420.93" x2="166.67" y2="421.85" stroke="#000" stroke-width="0.45"/>
<line x1="165.77" y1="420.93" x2="167.57" y2="420.93" stroke="#000" stroke-width="0.45"/>
<line x1="165.77" y1="421.85" x2="167.57" y2="421.85" stroke="#000" stroke-width="0.45"/>
<circle cx="166.67" cy="421.39" r="0.95" fill="#000"/>
<line x1="171.74" y1="418.46" x2="171.74" y2="419.88" stroke="#000" stroke-width="0.45"/>
<line x1="170.84" y1="418.46" x2="172.64" y2="418.46" stroke="#000" stroke-width="0.45"/>
<line x1="170.84" y1="419.88" x2="172.64" y2="419.88" stroke="#000" stroke-width="0.45"/>
<circle cx="171.74" cy="419.17" r="0.95" fill="#000"/>
<line x1="178.51" y1="415.27" x2="178.51" y2="417.31" stroke="#000" stroke-width="0.45"/>
<line x1="177.61" y1="415.27" x2="179.41" y2="415.27" stroke="#000" stroke-width="0.45"/>
<line x1="177.61" y1="417.31" x2="179.41" y2="417.31" stroke="#000" stroke-width="0.45"/>
<circle cx="178.51" cy="416.29" r="0.95" fill="#000"/>
<line x1="183.59" y1="411.82" x2="183.59" y2="414.55" stroke="#000" stroke-width="0.45"/>
<line x1="182.69" y1="411.82" x2="184.49" y2="411.82" stroke="#000" stroke-width="0.45"/>
<line x1="182.69" y1="414.55" x2="184.49" y2="414.55" stroke="#000" stroke-width="0.45"/>
<circle cx="183.59" cy="413.19" r="0.95" fill="#000"/>
<line x1="190.36" y1="405.92" x2="190.36" y2="409.82" stroke="#000" stroke-width="0.45"/>
<line x1="189.46" y1="405.92" x2="191.26" y2="405.92" stroke="#000" stroke-width="0.45"/>
<line x1="189.46" y1="409.82" x2="191.26" y2="409.82" stroke="#000" stroke-width="0.45"/>
<circle cx="190.36" cy="407.87" r="0.95" fill="#000"/>
<line x1="195.43" y1="400.26" x2="195.43" y2="405.28" stroke="#000" stroke-width="0.45"/>
<line x1="194.53" y1="400.26" x2="196.33" y2="400.26" stroke="#000" stroke-width="0.45"/>
<line x1="194.53" y1="405.28" x2="196.33" y2="405.28" stroke="#000" stroke-width="0.45"/>
<circle cx="195.43" cy="402.77" r="0.95" fill="#000"/>
<line x1="202.20" y1="386.23" x2="202.20" y2="394.03" stroke="#000" stroke-width="0.45"/>
<line x1="201.30" y1="386.23" x2="203.10" y2="386.23" stroke="#000" stroke-width="0.45"/>
<line x1="201.30" y1="394.03" x2="203.10" y2="394.03" stroke="#000" stroke-width="0.45"/>
<circle cx="202.20" cy="390.13" r="0.95" fill="#000"/>
<line x1="207.28" y1="375.16" x2="207.28" y2="385.16" stroke="#000" stroke-width="0.45"/>
<line x1="206.38" y1="375.16" x2="208.18" y2="375.16" stroke="#000" stroke-width="0.45"/>
<line x1="206.38" y1="385.16" x2="208.18" y2="385.16" stroke="#000" stroke-width="0.45"/>
<circle cx="207.28" cy="380.16" r="0.95" fill="#000"/>
<line x1="208.97" y1="373.93" x2="208.97" y2="384.17" stroke="#000" stroke-width="0.45"/>
<line x1="208.07" y1="373.93" x2="209.87" y2="373.93" stroke="#000" stroke-width="0.45"/>
<line x1="208.07" y1="384.17" x2="209.87" y2="384.17" stroke="#000" stroke-width="0.45"/>
<circle cx="208.97" cy="379.05" r="0.95" fill="#000"/>
<line x1="159.90" y1="358.73" x2="159.90" y2="425.98" stroke="#000" stroke-width="0.75"/>
<line x1="159.53" y1="425.60" x2="244.88" y2="425.60" stroke="#000" stroke-width="0.75"/>
<line x1="158.00" y1="425.60" x2="159.90" y2="425.60" stroke="#000" stroke-width="0.75"/>
<text x="157.20" y="427.54" font-size="5.7" font-weight="normal" text-anchor="end" fill="#111">0</text>
<line x1="158.00" y1="414.52" x2="159.90" y2="414.52" stroke="#000" stroke-width="0.75"/>
<text x="157.20" y="416.45" font-size="5.7" font-weight="normal" text-anchor="end" fill="#111">500</text>
<line x1="158.00" y1="403.43" x2="159.90" y2="403.43" stroke="#000" stroke-width="0.75"/>
<text x="157.20" y="405.37" font-size="5.7" font-weight="normal" text-anchor="end" fill="#111">1,000</text>
<line x1="158.00" y1="392.35" x2="159.90" y2="392.35" stroke="#000" stroke-width="0.75"/>
<text x="157.20" y="394.29" font-size="5.7" font-weight="normal" text-anchor="end" fill="#111">1,500</text>
<line x1="158.00" y1="381.27" x2="159.90" y2="381.27" stroke="#000" stroke-width="0.75"/>
<text x="157.20" y="383.20" font-size="5.7" font-weight="normal" text-anchor="end" fill="#111">2,000</text>
<line x1="158.00" y1="370.18" x2="159.90" y2="370.18" stroke="#000" stroke-width="0.75"/>
<text x="157.20" y="372.12" font-size="5.7" font-weight="normal" text-anchor="end" fill="#111">2,500</text>
<line x1="158.00" y1="359.10" x2="159.90" y2="359.10" stroke="#000" stroke-width="0.75"/>
<text x="157.20" y="361.04" font-size="5.7" font-weight="normal" text-anchor="end" fill="#111">3,000</text>
<line x1="159.90" y1="425.60" x2="159.90" y2="427.50" stroke="#000" stroke-width="0.75"/>
<text x="159.90" y="433.60" font-size="5.7" font-weight="normal" text-anchor="middle" fill="#111">0</text>
<line x1="168.36" y1="425.60" x2="168.36" y2="427.50" stroke="#000" stroke-width="0.75"/>
<text x="168.36" y="433.60" font-size="5.7" font-weight="normal" text-anchor="middle" fill="#111">5</text>
<line x1="176.82" y1="425.60" x2="176.82" y2="427.50" stroke="#000" stroke-width="0.75"/>
<text x="176.82" y="433.60" font-size="5.7" font-weight="normal" text-anchor="middle" fill="#111">10</text>
<line x1="185.28" y1="425.60" x2="185.28" y2="427.50" stroke="#000" stroke-width="0.75"/>
<text x="185.28" y="433.60" font-size="5.7" font-weight="normal" text-anchor="middle" fill="#111">15</text>
<line x1="193.74" y1="425.60" x2="193.74" y2="427.50" stroke="#000" stroke-width="0.75"/>
<text x="193.74" y="433.60" font-size="5.7" font-weight="normal" text-anchor="middle" fill="#111">20</text>
<line x1="202.20" y1="425.60" x2="202.20" y2="427.50" stroke="#000" stroke-width="0.75"/>
<text x="202.20" y="433.60" font-size="5.7" font-weight="normal" text-anchor="middle" fill="#111">25</text>
<line x1="210.66" y1="425.60" x2="210.66" y2="427.50" stroke="#000" stroke-width="0.75"/>
<text x="210.66" y="433.60" font-size="5.7" font-weight="normal" text-anchor="middle" fill="#111">30</text>
<line x1="219.12" y1="425.60" x2="219.12" y2="427.50" stroke="#000" stroke-width="0.75"/>
<text x="219.12" y="433.60" font-size="5.7" font-weight="normal" text-anchor="middle" fill="#111">35</text>
<line x1="227.58" y1="425.60" x2="227.58" y2="427.50" stroke="#000" stroke-width="0.75"/>
<text x="227.58" y="433.60" font-size="5.7" font-weight="normal" text-anchor="middle" fill="#111">40</text>
<line x1="236.04" y1="425.60" x2="236.04" y2="427.50" stroke="#000" stroke-width="0.75"/>
<text x="236.04" y="433.60" font-size="5.7" font-weight="normal" text-anchor="middle" fill="#111">45</text>
<line x1="244.50" y1="425.60" x2="244.50" y2="427.50" stroke="#000" stroke-width="0.75"/>
<text x="244.50" y="433.60" font-size="5.7" font-weight="normal" text-anchor="middle" fill="#111">50</text>
<text x="137.6" y="391.2" font-size="7.0" font-weight="bold" text-anchor="middle" fill="#111" transform="rotate(-90 137.6 391.2)">Tumor volume (mm<tspan font-size="4.5" dy="-2.6">3</tspan><tspan dy="2.6">)</tspan></text>
<text x="202.00" y="442.90" font-size="6.8" font-weight="bold" text-anchor="middle" fill="#111">Days post grouping</text>
</g>
<text x="230.20" y="451.70" font-size="5.55" font-weight="bold" text-anchor="start" fill="#111">TGI relative</text>
<text x="230.20" y="458.70" font-size="5.55" font-weight="bold" text-anchor="start" fill="#111">to veh (d28)</text>
<line x1="230.20" y1="459.80" x2="262.20" y2="459.80" stroke="#111" stroke-width="0.5"/>
<line x1="162.30" y1="460.40" x2="166.90" y2="460.40" stroke="#000" stroke-width="0.6"/>
<circle cx="164.60" cy="460.40" r="0.9" fill="#000"/>
<text x="171.00" y="462.40" font-size="5.55" font-weight="normal" text-anchor="start" fill="#111">Vehicle</text>
<line x1="162.30" y1="466.90" x2="166.90" y2="466.90" stroke="#e4555a" stroke-width="0.6"/>
<polygon points="164.60,467.98 163.61,466.09 165.59,466.09" fill="#e4555a"/>
<text x="171.00" y="468.90" font-size="5.4" font-weight="normal" text-anchor="start" fill="#111">Tulmimetostat (PO, QD)</text>
<text x="231.00" y="468.90" font-size="5.6" font-weight="normal" text-anchor="start" fill="#e4555a">56%</text>
<text x="246.30" y="470.20" font-size="6.8" font-weight="normal" text-anchor="start" fill="#666">*</text>
<g id="panelH">
<text x="250.50" y="341.60" font-size="11" font-weight="bold" text-anchor="start" fill="#000">H</text>
<text x="324.00" y="349.40" font-size="7.8" font-weight="bold" text-anchor="middle" fill="#222">UT5319 PDX</text>
<polyline points="282.00,423.88 293.42,423.37 301.98,422.47 313.39,421.58 321.96,421.19 333.37,421.06 341.93,423.62 353.35,424.14 361.91,424.14" fill="none" stroke="#e4555a" stroke-width="0.6" stroke-linejoin="round"/>
<line x1="282.00" y1="423.62" x2="282.00" y2="424.14" stroke="#e4555a" stroke-width="0.45"/>
<line x1="281.10" y1="423.62" x2="282.90" y2="423.62" stroke="#e4555a" stroke-width="0.45"/>
<line x1="281.10" y1="424.14" x2="282.90" y2="424.14" stroke="#e4555a" stroke-width="0.45"/>
<polygon points="282.00,425.02 280.95,423.02 283.05,423.02" fill="#e4555a"/>
<line x1="293.42" y1="422.98" x2="293.42" y2="423.75" stroke="#e4555a" stroke-width="0.45"/>
<line x1="292.52" y1="422.98" x2="294.32" y2="422.98" stroke="#e4555a" stroke-width="0.45"/>
<line x1="292.52" y1="423.75" x2="294.32" y2="423.75" stroke="#e4555a" stroke-width="0.45"/>
<polygon points="293.42,424.51 292.37,422.51 294.46,422.51" fill="#e4555a"/>
<line x1="301.98" y1="421.96" x2="301.98" y2="422.98" stroke="#e4555a" stroke-width="0.45"/>
<line x1="301.08" y1="421.96" x2="302.88" y2="421.96" stroke="#e4555a" stroke-width="0.45"/>
<line x1="301.08" y1="422.98" x2="302.88" y2="422.98" stroke="#e4555a" stroke-width="0.45"/>
<polygon points="301.98,423.61 300.93,421.62 303.02,421.62" fill="#e4555a"/>
<line x1="313.39" y1="420.42" x2="313.39" y2="422.73" stroke="#e4555a" stroke-width="0.45"/>
<line x1="312.49" y1="420.42" x2="314.29" y2="420.42" stroke="#e4555a" stroke-width="0.45"/>
<line x1="312.49" y1="422.73" x2="314.29" y2="422.73" stroke="#e4555a" stroke-width="0.45"/>
<polygon points="313.39,422.72 312.35,420.72 314.44,420.72" fill="#e4555a"/>
<line x1="321.96" y1="419.91" x2="321.96" y2="422.47" stroke="#e4555a" stroke-width="0.45"/>
<line x1="321.06" y1="419.91" x2="322.86" y2="419.91" stroke="#e4555a" stroke-width="0.45"/>
<line x1="321.06" y1="422.47" x2="322.86" y2="422.47" stroke="#e4555a" stroke-width="0.45"/>
<polygon points="321.96,422.33 320.91,420.34 323.00,420.34" fill="#e4555a"/>
<line x1="333.37" y1="419.91" x2="333.37" y2="422.22" stroke="#e4555a" stroke-width="0.45"/>
<line x1="332.47" y1="419.91" x2="334.27" y2="419.91" stroke="#e4555a" stroke-width="0.45"/>
<line x1="332.47" y1="422.22" x2="334.27" y2="422.22" stroke="#e4555a" stroke-width="0.45"/>
<polygon points="333.37,422.20 332.33,420.21 334.42,420.21" fill="#e4555a"/>
<line x1="341.93" y1="422.47" x2="341.93" y2="424.78" stroke="#e4555a" stroke-width="0.45"/>
<line x1="341.03" y1="422.47" x2="342.83" y2="422.47" stroke="#e4555a" stroke-width="0.45"/>
<line x1="341.03" y1="424.78" x2="342.83" y2="424.78" stroke="#e4555a" stroke-width="0.45"/>
<polygon points="341.93,424.76 340.89,422.77 342.98,422.77" fill="#e4555a"/>
<line x1="353.35" y1="423.11" x2="353.35" y2="425.16" stroke="#e4555a" stroke-width="0.45"/>
<line x1="352.45" y1="423.11" x2="354.25" y2="423.11" stroke="#e4555a" stroke-width="0.45"/>
<line x1="352.45" y1="425.16" x2="354.25" y2="425.16" stroke="#e4555a" stroke-width="0.45"/>
<polygon points="353.35,425.28 352.31,423.28 354.40,423.28" fill="#e4555a"/>
<line x1="361.91" y1="423.11" x2="361.91" y2="425.16" stroke="#e4555a" stroke-width="0.45"/>
<line x1="361.01" y1="423.11" x2="362.81" y2="423.11" stroke="#e4555a" stroke-width="0.45"/>
<line x1="361.01" y1="425.16" x2="362.81" y2="425.16" stroke="#e4555a" stroke-width="0.45"/>
<polygon points="361.91,425.28 360.87,423.28 362.96,423.28" fill="#e4555a"/>
<polyline points="282.00,423.88 293.42,423.24 301.98,422.22 313.39,417.86 321.96,413.26 333.37,403.02 341.93,373.96" fill="none" stroke="#000" stroke-width="0.6" stroke-linejoin="round"/>
<line x1="282.00" y1="423.62" x2="282.00" y2="424.14" stroke="#000" stroke-width="0.45"/>
<line x1="281.10" y1="423.62" x2="282.90" y2="423.62" stroke="#000" stroke-width="0.45"/>
<line x1="281.10" y1="424.14" x2="282.90" y2="424.14" stroke="#000" stroke-width="0.45"/>
<circle cx="282.00" cy="423.88" r="0.95" fill="#000"/>
<line x1="293.42" y1="422.86" x2="293.42" y2="423.62" stroke="#000" stroke-width="0.45"/>
<line x1="292.52" y1="422.86" x2="294.32" y2="422.86" stroke="#000" stroke-width="0.45"/>
<line x1="292.52" y1="423.62" x2="294.32" y2="423.62" stroke="#000" stroke-width="0.45"/>
<circle cx="293.42" cy="423.24" r="0.95" fill="#000"/>
<line x1="301.98" y1="421.70" x2="301.98" y2="422.73" stroke="#000" stroke-width="0.45"/>
<line x1="301.08" y1="421.70" x2="302.88" y2="421.70" stroke="#000" stroke-width="0.45"/>
<line x1="301.08" y1="422.73" x2="302.88" y2="422.73" stroke="#000" stroke-width="0.45"/>
<circle cx="301.98" cy="422.22" r="0.95" fill="#000"/>
<line x1="313.39" y1="416.46" x2="313.39" y2="419.27" stroke="#000" stroke-width="0.45"/>
<line x1="312.49" y1="416.46" x2="314.29" y2="416.46" stroke="#000" stroke-width="0.45"/>
<line x1="312.49" y1="419.27" x2="314.29" y2="419.27" stroke="#000" stroke-width="0.45"/>
<circle cx="313.39" cy="417.86" r="0.95" fill="#000"/>
<line x1="321.96" y1="410.95" x2="321.96" y2="415.56" stroke="#000" stroke-width="0.45"/>
<line x1="321.06" y1="410.95" x2="322.86" y2="410.95" stroke="#000" stroke-width="0.45"/>
<line x1="321.06" y1="415.56" x2="322.86" y2="415.56" stroke="#000" stroke-width="0.45"/>
<circle cx="321.96" cy="413.26" r="0.95" fill="#000"/>
<line x1="333.37" y1="400.07" x2="333.37" y2="405.96" stroke="#000" stroke-width="0.45"/>
<line x1="332.47" y1="400.07" x2="334.27" y2="400.07" stroke="#000" stroke-width="0.45"/>
<line x1="332.47" y1="405.96" x2="334.27" y2="405.96" stroke="#000" stroke-width="0.45"/>
<circle cx="333.37" cy="403.02" r="0.95" fill="#000"/>
<line x1="341.93" y1="369.74" x2="341.93" y2="378.18" stroke="#000" stroke-width="0.45"/>
<line x1="341.03" y1="369.74" x2="342.83" y2="369.74" stroke="#000" stroke-width="0.45"/>
<line x1="341.03" y1="378.18" x2="342.83" y2="378.18" stroke="#000" stroke-width="0.45"/>
<circle cx="341.93" cy="373.96" r="0.95" fill="#000"/>
<line x1="282.00" y1="361.43" x2="282.00" y2="426.18" stroke="#000" stroke-width="0.75"/>
<line x1="281.62" y1="425.80" x2="368.00" y2="425.80" stroke="#000" stroke-width="0.75"/>
<line x1="280.10" y1="425.80" x2="282.00" y2="425.80" stroke="#000" stroke-width="0.75"/>
<text x="279.30" y="427.74" font-size="5.7" font-weight="normal" text-anchor="end" fill="#111">0</text>
<line x1="280.10" y1="413.00" x2="282.00" y2="413.00" stroke="#000" stroke-width="0.75"/>
<text x="279.30" y="414.94" font-size="5.7" font-weight="normal" text-anchor="end" fill="#111">1,000</text>
<line x1="280.10" y1="400.20" x2="282.00" y2="400.20" stroke="#000" stroke-width="0.75"/>
<text x="279.30" y="402.14" font-size="5.7" font-weight="normal" text-anchor="end" fill="#111">2,000</text>
<line x1="280.10" y1="387.40" x2="282.00" y2="387.40" stroke="#000" stroke-width="0.75"/>
<text x="279.30" y="389.34" font-size="5.7" font-weight="normal" text-anchor="end" fill="#111">3,000</text>
<line x1="280.10" y1="374.60" x2="282.00" y2="374.60" stroke="#000" stroke-width="0.75"/>
<text x="279.30" y="376.54" font-size="5.7" font-weight="normal" text-anchor="end" fill="#111">4,000</text>
<line x1="280.10" y1="361.80" x2="282.00" y2="361.80" stroke="#000" stroke-width="0.75"/>
<text x="279.30" y="363.74" font-size="5.7" font-weight="normal" text-anchor="end" fill="#111">5,000</text>
<line x1="282.00" y1="425.80" x2="282.00" y2="427.70" stroke="#000" stroke-width="0.75"/>
<text x="282.00" y="433.80" font-size="5.7" font-weight="normal" text-anchor="middle" fill="#111">0</text>
<line x1="296.27" y1="425.80" x2="296.27" y2="427.70" stroke="#000" stroke-width="0.75"/>
<text x="296.27" y="433.80" font-size="5.7" font-weight="normal" text-anchor="middle" fill="#111">5</text>
<line x1="310.54" y1="425.80" x2="310.54" y2="427.70" stroke="#000" stroke-width="0.75"/>
<text x="310.54" y="433.80" font-size="5.7" font-weight="normal" text-anchor="middle" fill="#111">10</text>
<line x1="324.81" y1="425.80" x2="324.81" y2="427.70" stroke="#000" stroke-width="0.75"/>
<text x="324.81" y="433.80" font-size="5.7" font-weight="normal" text-anchor="middle" fill="#111">15</text>
<line x1="339.08" y1="425.80" x2="339.08" y2="427.70" stroke="#000" stroke-width="0.75"/>
<text x="339.08" y="433.80" font-size="5.7" font-weight="normal" text-anchor="middle" fill="#111">20</text>
<line x1="353.35" y1="425.80" x2="353.35" y2="427.70" stroke="#000" stroke-width="0.75"/>
<text x="353.35" y="433.80" font-size="5.7" font-weight="normal" text-anchor="middle" fill="#111">25</text>
<line x1="367.62" y1="425.80" x2="367.62" y2="427.70" stroke="#000" stroke-width="0.75"/>
<text x="367.62" y="433.80" font-size="5.7" font-weight="normal" text-anchor="middle" fill="#111">30</text>
<text x="258.4" y="391.2" font-size="7.0" font-weight="bold" text-anchor="middle" fill="#111" transform="rotate(-90 258.4 391.2)">Tumor volume (mm<tspan font-size="4.5" dy="-2.6">3</tspan><tspan dy="2.6">)</tspan></text>
<text x="325.00" y="442.40" font-size="6.8" font-weight="bold" text-anchor="middle" fill="#111">Days post grouping</text>
</g>
<line x1="347.64" y1="361.00" x2="347.64" y2="425.00" stroke="#666" stroke-width="0.45" stroke-dasharray="0.7,0.7"/>
<text x="313.30" y="366.00" font-size="3.8" font-weight="normal" text-anchor="middle" fill="#777">75mpk</text>
<text x="358.00" y="366.00" font-size="3.8" font-weight="normal" text-anchor="middle" fill="#777">50mpk</text>
<text x="349.40" y="451.70" font-size="5.55" font-weight="bold" text-anchor="start" fill="#111">TGI relative</text>
<text x="349.40" y="458.60" font-size="5.55" font-weight="bold" text-anchor="start" fill="#111">to veh (d21)</text>
<line x1="349.40" y1="459.70" x2="381.40" y2="459.70" stroke="#111" stroke-width="0.5"/>
<line x1="284.90" y1="462.70" x2="289.50" y2="462.70" stroke="#000" stroke-width="0.6"/>
<circle cx="287.20" cy="462.70" r="0.9" fill="#000"/>
<text x="293.40" y="464.70" font-size="5.55" font-weight="normal" text-anchor="start" fill="#111">Vehicle</text>
<line x1="284.90" y1="469.90" x2="289.50" y2="469.90" stroke="#e4555a" stroke-width="0.6"/>
<polygon points="287.20,470.98 286.21,469.09 288.19,469.09" fill="#e4555a"/>
<text x="293.40" y="471.90" font-size="5.45" font-weight="normal" text-anchor="start" fill="#111">Tulmimetostat (PO, QD)</text>
<text x="354.80" y="471.90" font-size="5.6" font-weight="normal" text-anchor="start" fill="#e4555a">99%</text>
<text x="368.60" y="473.20" font-size="6.8" font-weight="normal" text-anchor="start" fill="#666">***</text>
<g id="panelI">
<text x="383.00" y="341.60" font-size="11" font-weight="bold" text-anchor="start" fill="#000">I</text>
<text x="461.00" y="349.40" font-size="7.8" font-weight="bold" text-anchor="middle" fill="#222">UT5326 PDX</text>
<polyline points="412.30,423.52 419.13,422.36 424.26,421.87 431.09,421.54 436.21,421.04 443.04,420.05 448.17,419.72 455.00,420.55 460.12,420.38 466.96,420.55 472.08,421.37 478.91,421.21 484.04,420.38 490.87,419.72 495.99,419.39" fill="none" stroke="#e4555a" stroke-width="0.6" stroke-linejoin="round"/>
<line x1="412.30" y1="422.86" x2="412.30" y2="424.18" stroke="#e4555a" stroke-width="0.45"/>
<line x1="411.40" y1="422.86" x2="413.20" y2="422.86" stroke="#e4555a" stroke-width="0.45"/>
<line x1="411.40" y1="424.18" x2="413.20" y2="424.18" stroke="#e4555a" stroke-width="0.45"/>
<polygon points="412.30,424.66 411.25,422.67 413.35,422.67" fill="#e4555a"/>
<line x1="419.13" y1="421.46" x2="419.13" y2="423.27" stroke="#e4555a" stroke-width="0.45"/>
<line x1="418.23" y1="421.46" x2="420.03" y2="421.46" stroke="#e4555a" stroke-width="0.45"/>
<line x1="418.23" y1="423.27" x2="420.03" y2="423.27" stroke="#e4555a" stroke-width="0.45"/>
<polygon points="419.13,423.50 418.09,421.51 420.18,421.51" fill="#e4555a"/>
<line x1="424.26" y1="420.84" x2="424.26" y2="422.90" stroke="#e4555a" stroke-width="0.45"/>
<line x1="423.36" y1="420.84" x2="425.16" y2="420.84" stroke="#e4555a" stroke-width="0.45"/>
<line x1="423.36" y1="422.90" x2="425.16" y2="422.90" stroke="#e4555a" stroke-width="0.45"/>
<polygon points="424.26,423.01 423.21,421.01 425.30,421.01" fill="#e4555a"/>
<line x1="431.09" y1="420.42" x2="431.09" y2="422.65" stroke="#e4555a" stroke-width="0.45"/>
<line x1="430.19" y1="420.42" x2="431.99" y2="420.42" stroke="#e4555a" stroke-width="0.45"/>
<line x1="430.19" y1="422.65" x2="431.99" y2="422.65" stroke="#e4555a" stroke-width="0.45"/>
<polygon points="431.09,422.68 430.04,420.68 432.13,420.68" fill="#e4555a"/>
<line x1="436.21" y1="419.80" x2="436.21" y2="422.28" stroke="#e4555a" stroke-width="0.45"/>
<line x1="435.31" y1="419.80" x2="437.11" y2="419.80" stroke="#e4555a" stroke-width="0.45"/>
<line x1="435.31" y1="422.28" x2="437.11" y2="422.28" stroke="#e4555a" stroke-width="0.45"/>
<polygon points="436.21,422.18 435.17,420.19 437.26,420.19" fill="#e4555a"/>
<line x1="443.04" y1="418.56" x2="443.04" y2="421.54" stroke="#e4555a" stroke-width="0.45"/>
<line x1="442.14" y1="418.56" x2="443.94" y2="418.56" stroke="#e4555a" stroke-width="0.45"/>
<line x1="442.14" y1="421.54" x2="443.94" y2="421.54" stroke="#e4555a" stroke-width="0.45"/>
<polygon points="443.04,421.19 442.00,419.20 444.09,419.20" fill="#e4555a"/>
<line x1="448.17" y1="418.15" x2="448.17" y2="421.29" stroke="#e4555a" stroke-width="0.45"/>
<line x1="447.27" y1="418.15" x2="449.07" y2="418.15" stroke="#e4555a" stroke-width="0.45"/>
<line x1="447.27" y1="421.29" x2="449.07" y2="421.29" stroke="#e4555a" stroke-width="0.45"/>
<polygon points="448.17,420.86 447.12,418.87 449.21,418.87" fill="#e4555a"/>
<line x1="455.00" y1="419.18" x2="455.00" y2="421.91" stroke="#e4555a" stroke-width="0.45"/>
<line x1="454.10" y1="419.18" x2="455.90" y2="419.18" stroke="#e4555a" stroke-width="0.45"/>
<line x1="454.10" y1="421.91" x2="455.90" y2="421.91" stroke="#e4555a" stroke-width="0.45"/>
<polygon points="455.00,421.69 453.95,419.69 456.05,419.69" fill="#e4555a"/>
<line x1="460.12" y1="418.98" x2="460.12" y2="421.79" stroke="#e4555a" stroke-width="0.45"/>
<line x1="459.22" y1="418.98" x2="461.02" y2="418.98" stroke="#e4555a" stroke-width="0.45"/>
<line x1="459.22" y1="421.79" x2="461.02" y2="421.79" stroke="#e4555a" stroke-width="0.45"/>
<polygon points="460.12,421.52 459.08,419.53 461.17,419.53" fill="#e4555a"/>
<line x1="466.96" y1="419.18" x2="466.96" y2="421.91" stroke="#e4555a" stroke-width="0.45"/>
<line x1="466.06" y1="419.18" x2="467.86" y2="419.18" stroke="#e4555a" stroke-width="0.45"/>
<line x1="466.06" y1="421.91" x2="467.86" y2="421.91" stroke="#e4555a" stroke-width="0.45"/>
<polygon points="466.96,421.69 465.91,419.69 468.00,419.69" fill="#e4555a"/>
<line x1="472.08" y1="420.22" x2="472.08" y2="422.53" stroke="#e4555a" stroke-width="0.45"/>
<line x1="471.18" y1="420.22" x2="472.98" y2="420.22" stroke="#e4555a" stroke-width="0.45"/>
<line x1="471.18" y1="422.53" x2="472.98" y2="422.53" stroke="#e4555a" stroke-width="0.45"/>
<polygon points="472.08,422.51 471.03,420.52 473.12,420.52" fill="#e4555a"/>
<line x1="478.91" y1="420.01" x2="478.91" y2="422.41" stroke="#e4555a" stroke-width="0.45"/>
<line x1="478.01" y1="420.01" x2="479.81" y2="420.01" stroke="#e4555a" stroke-width="0.45"/>
<line x1="478.01" y1="422.41" x2="479.81" y2="422.41" stroke="#e4555a" stroke-width="0.45"/>
<polygon points="478.91,422.35 477.87,420.35 479.96,420.35" fill="#e4555a"/>
<line x1="484.04" y1="418.98" x2="484.04" y2="421.79" stroke="#e4555a" stroke-width="0.45"/>
<line x1="483.14" y1="418.98" x2="484.94" y2="418.98" stroke="#e4555a" stroke-width="0.45"/>
<line x1="483.14" y1="421.79" x2="484.94" y2="421.79" stroke="#e4555a" stroke-width="0.45"/>
<polygon points="484.04,421.52 482.99,419.53 485.08,419.53" fill="#e4555a"/>
<line x1="490.87" y1="418.15" x2="490.87" y2="421.29" stroke="#e4555a" stroke-width="0.45"/>
<line x1="489.97" y1="418.15" x2="491.77" y2="418.15" stroke="#e4555a" stroke-width="0.45"/>
<line x1="489.97" y1="421.29" x2="491.77" y2="421.29" stroke="#e4555a" stroke-width="0.45"/>
<polygon points="490.87,420.86 489.82,418.87 491.91,418.87" fill="#e4555a"/>
<line x1="495.99" y1="417.74" x2="495.99" y2="421.04" stroke="#e4555a" stroke-width="0.45"/>
<line x1="495.09" y1="417.74" x2="496.89" y2="417.74" stroke="#e4555a" stroke-width="0.45"/>
<line x1="495.09" y1="421.04" x2="496.89" y2="421.04" stroke="#e4555a" stroke-width="0.45"/>
<polygon points="495.99,420.53 494.95,418.53 497.04,418.53" fill="#e4555a"/>
<polyline points="412.30,423.52 419.13,422.20 424.26,421.70 431.09,421.21 436.21,420.71 443.04,419.72 448.17,418.89 455.00,415.75 460.12,411.46 466.96,409.81 472.08,406.17 478.91,402.87 484.04,399.89 490.87,394.27 495.99,390.47" fill="none" stroke="#000" stroke-width="0.6" stroke-linejoin="round"/>
<line x1="412.30" y1="422.69" x2="412.30" y2="424.35" stroke="#000" stroke-width="0.45"/>
<line x1="411.40" y1="422.69" x2="413.20" y2="422.69" stroke="#000" stroke-width="0.45"/>
<line x1="411.40" y1="424.35" x2="413.20" y2="424.35" stroke="#000" stroke-width="0.45"/>
<circle cx="412.30" cy="423.52" r="0.95" fill="#000"/>
<line x1="419.13" y1="421.37" x2="419.13" y2="423.03" stroke="#000" stroke-width="0.45"/>
<line x1="418.23" y1="421.37" x2="420.03" y2="421.37" stroke="#000" stroke-width="0.45"/>
<line x1="418.23" y1="423.03" x2="420.03" y2="423.03" stroke="#000" stroke-width="0.45"/>
<circle cx="419.13" cy="422.20" r="0.95" fill="#000"/>
<line x1="424.26" y1="420.84" x2="424.26" y2="422.56" stroke="#000" stroke-width="0.45"/>
<line x1="423.36" y1="420.84" x2="425.16" y2="420.84" stroke="#000" stroke-width="0.45"/>
<line x1="423.36" y1="422.56" x2="425.16" y2="422.56" stroke="#000" stroke-width="0.45"/>
<circle cx="424.26" cy="421.70" r="0.95" fill="#000"/>
<line x1="431.09" y1="420.25" x2="431.09" y2="422.17" stroke="#000" stroke-width="0.45"/>
<line x1="430.19" y1="420.25" x2="431.99" y2="420.25" stroke="#000" stroke-width="0.45"/>
<line x1="430.19" y1="422.17" x2="431.99" y2="422.17" stroke="#000" stroke-width="0.45"/>
<circle cx="431.09" cy="421.21" r="0.95" fill="#000"/>
<line x1="436.21" y1="419.65" x2="436.21" y2="421.77" stroke="#000" stroke-width="0.45"/>
<line x1="435.31" y1="419.65" x2="437.11" y2="419.65" stroke="#000" stroke-width="0.45"/>
<line x1="435.31" y1="421.77" x2="437.11" y2="421.77" stroke="#000" stroke-width="0.45"/>
<circle cx="436.21" cy="420.71" r="0.95" fill="#000"/>
<line x1="443.04" y1="418.46" x2="443.04" y2="420.98" stroke="#000" stroke-width="0.45"/>
<line x1="442.14" y1="418.46" x2="443.94" y2="418.46" stroke="#000" stroke-width="0.45"/>
<line x1="442.14" y1="420.98" x2="443.94" y2="420.98" stroke="#000" stroke-width="0.45"/>
<circle cx="443.04" cy="419.72" r="0.95" fill="#000"/>
<line x1="448.17" y1="417.47" x2="448.17" y2="420.32" stroke="#000" stroke-width="0.45"/>
<line x1="447.27" y1="417.47" x2="449.07" y2="417.47" stroke="#000" stroke-width="0.45"/>
<line x1="447.27" y1="420.32" x2="449.07" y2="420.32" stroke="#000" stroke-width="0.45"/>
<circle cx="448.17" cy="418.89" r="0.95" fill="#000"/>
<line x1="455.00" y1="413.71" x2="455.00" y2="417.80" stroke="#000" stroke-width="0.45"/>
<line x1="454.10" y1="413.71" x2="455.90" y2="413.71" stroke="#000" stroke-width="0.45"/>
<line x1="454.10" y1="417.80" x2="455.90" y2="417.80" stroke="#000" stroke-width="0.45"/>
<circle cx="455.00" cy="415.75" r="0.95" fill="#000"/>
<line x1="460.12" y1="408.55" x2="460.12" y2="414.37" stroke="#000" stroke-width="0.45"/>
<line x1="459.22" y1="408.55" x2="461.02" y2="408.55" stroke="#000" stroke-width="0.45"/>
<line x1="459.22" y1="414.37" x2="461.02" y2="414.37" stroke="#000" stroke-width="0.45"/>
<circle cx="460.12" cy="411.46" r="0.95" fill="#000"/>
<line x1="466.96" y1="406.57" x2="466.96" y2="413.04" stroke="#000" stroke-width="0.45"/>
<line x1="466.06" y1="406.57" x2="467.86" y2="406.57" stroke="#000" stroke-width="0.45"/>
<line x1="466.06" y1="413.04" x2="467.86" y2="413.04" stroke="#000" stroke-width="0.45"/>
<circle cx="466.96" cy="409.81" r="0.95" fill="#000"/>
<line x1="472.08" y1="402.20" x2="472.08" y2="410.14" stroke="#000" stroke-width="0.45"/>
<line x1="471.18" y1="402.20" x2="472.98" y2="402.20" stroke="#000" stroke-width="0.45"/>
<line x1="471.18" y1="410.14" x2="472.98" y2="410.14" stroke="#000" stroke-width="0.45"/>
<circle cx="472.08" cy="406.17" r="0.95" fill="#000"/>
<line x1="478.91" y1="398.24" x2="478.91" y2="407.49" stroke="#000" stroke-width="0.45"/>
<line x1="478.01" y1="398.24" x2="479.81" y2="398.24" stroke="#000" stroke-width="0.45"/>
<line x1="478.01" y1="407.49" x2="479.81" y2="407.49" stroke="#000" stroke-width="0.45"/>
<circle cx="478.91" cy="402.87" r="0.95" fill="#000"/>
<line x1="484.04" y1="394.67" x2="484.04" y2="405.11" stroke="#000" stroke-width="0.45"/>
<line x1="483.14" y1="394.67" x2="484.94" y2="394.67" stroke="#000" stroke-width="0.45"/>
<line x1="483.14" y1="405.11" x2="484.94" y2="405.11" stroke="#000" stroke-width="0.45"/>
<circle cx="484.04" cy="399.89" r="0.95" fill="#000"/>
<line x1="490.87" y1="387.93" x2="490.87" y2="400.62" stroke="#000" stroke-width="0.45"/>
<line x1="489.97" y1="387.93" x2="491.77" y2="387.93" stroke="#000" stroke-width="0.45"/>
<line x1="489.97" y1="400.62" x2="491.77" y2="400.62" stroke="#000" stroke-width="0.45"/>
<circle cx="490.87" cy="394.27" r="0.95" fill="#000"/>
<line x1="495.99" y1="383.37" x2="495.99" y2="397.58" stroke="#000" stroke-width="0.45"/>
<line x1="495.09" y1="383.37" x2="496.89" y2="383.37" stroke="#000" stroke-width="0.45"/>
<line x1="495.09" y1="397.58" x2="496.89" y2="397.58" stroke="#000" stroke-width="0.45"/>
<circle cx="495.99" cy="390.47" r="0.95" fill="#000"/>
<line x1="412.30" y1="359.52" x2="412.30" y2="426.38" stroke="#000" stroke-width="0.75"/>
<line x1="411.93" y1="426.00" x2="498.07" y2="426.00" stroke="#000" stroke-width="0.75"/>
<line x1="410.40" y1="426.00" x2="412.30" y2="426.00" stroke="#000" stroke-width="0.75"/>
<text x="409.60" y="427.94" font-size="5.7" font-weight="normal" text-anchor="end" fill="#111">0</text>
<line x1="410.40" y1="409.48" x2="412.30" y2="409.48" stroke="#000" stroke-width="0.75"/>
<text x="409.60" y="411.41" font-size="5.7" font-weight="normal" text-anchor="end" fill="#111">1,000</text>
<line x1="410.40" y1="392.95" x2="412.30" y2="392.95" stroke="#000" stroke-width="0.75"/>
<text x="409.60" y="394.89" font-size="5.7" font-weight="normal" text-anchor="end" fill="#111">2,000</text>
<line x1="410.40" y1="376.42" x2="412.30" y2="376.42" stroke="#000" stroke-width="0.75"/>
<text x="409.60" y="378.36" font-size="5.7" font-weight="normal" text-anchor="end" fill="#111">3,000</text>
<line x1="410.40" y1="359.90" x2="412.30" y2="359.90" stroke="#000" stroke-width="0.75"/>
<text x="409.60" y="361.84" font-size="5.7" font-weight="normal" text-anchor="end" fill="#111">4,000</text>
<line x1="412.30" y1="426.00" x2="412.30" y2="427.90" stroke="#000" stroke-width="0.75"/>
<text x="412.30" y="434.50" font-size="5.7" font-weight="normal" text-anchor="middle" fill="#111">0</text>
<line x1="420.84" y1="426.00" x2="420.84" y2="427.90" stroke="#000" stroke-width="0.75"/>
<text x="420.84" y="434.50" font-size="5.7" font-weight="normal" text-anchor="middle" fill="#111">5</text>
<line x1="429.38" y1="426.00" x2="429.38" y2="427.90" stroke="#000" stroke-width="0.75"/>
<text x="429.38" y="434.50" font-size="5.7" font-weight="normal" text-anchor="middle" fill="#111">10</text>
<line x1="437.92" y1="426.00" x2="437.92" y2="427.90" stroke="#000" stroke-width="0.75"/>
<text x="437.92" y="434.50" font-size="5.7" font-weight="normal" text-anchor="middle" fill="#111">15</text>
<line x1="446.46" y1="426.00" x2="446.46" y2="427.90" stroke="#000" stroke-width="0.75"/>
<text x="446.46" y="434.50" font-size="5.7" font-weight="normal" text-anchor="middle" fill="#111">20</text>
<line x1="455.00" y1="426.00" x2="455.00" y2="427.90" stroke="#000" stroke-width="0.75"/>
<text x="455.00" y="434.50" font-size="5.7" font-weight="normal" text-anchor="middle" fill="#111">25</text>
<line x1="463.54" y1="426.00" x2="463.54" y2="427.90" stroke="#000" stroke-width="0.75"/>
<text x="463.54" y="434.50" font-size="5.7" font-weight="normal" text-anchor="middle" fill="#111">30</text>
<line x1="472.08" y1="426.00" x2="472.08" y2="427.90" stroke="#000" stroke-width="0.75"/>
<text x="472.08" y="434.50" font-size="5.7" font-weight="normal" text-anchor="middle" fill="#111">35</text>
<line x1="480.62" y1="426.00" x2="480.62" y2="427.90" stroke="#000" stroke-width="0.75"/>
<text x="480.62" y="434.50" font-size="5.7" font-weight="normal" text-anchor="middle" fill="#111">40</text>
<line x1="489.16" y1="426.00" x2="489.16" y2="427.90" stroke="#000" stroke-width="0.75"/>
<text x="489.16" y="434.50" font-size="5.7" font-weight="normal" text-anchor="middle" fill="#111">45</text>
<line x1="497.70" y1="426.00" x2="497.70" y2="427.90" stroke="#000" stroke-width="0.75"/>
<text x="497.70" y="434.50" font-size="5.7" font-weight="normal" text-anchor="middle" fill="#111">50</text>
<text x="391.5" y="391.2" font-size="7.0" font-weight="bold" text-anchor="middle" fill="#111" transform="rotate(-90 391.5 391.2)">Tumor volume (mm<tspan font-size="4.5" dy="-2.6">3</tspan><tspan dy="2.6">)</tspan></text>
<text x="455.50" y="443.20" font-size="6.8" font-weight="bold" text-anchor="middle" fill="#111">Days post grouping</text>
</g>
<text x="488.00" y="453.30" font-size="5.55" font-weight="bold" text-anchor="start" fill="#111">TGI relative</text>
<text x="488.00" y="460.20" font-size="5.55" font-weight="bold" text-anchor="start" fill="#111">to veh (d49)</text>
<line x1="488.00" y1="461.30" x2="519.00" y2="461.30" stroke="#111" stroke-width="0.5"/>
<line x1="407.50" y1="461.70" x2="412.10" y2="461.70" stroke="#000" stroke-width="0.6"/>
<circle cx="409.80" cy="461.70" r="0.9" fill="#000"/>
<text x="413.50" y="463.70" font-size="5.4" font-weight="normal" text-anchor="start" fill="#111">Vehicle</text>
<line x1="407.50" y1="468.40" x2="412.10" y2="468.40" stroke="#e4555a" stroke-width="0.6"/>
<polygon points="409.80,469.48 408.81,467.59 410.79,467.59" fill="#e4555a"/>
<text x="413.50" y="470.40" font-size="5.36" font-weight="normal" text-anchor="start" fill="#111">Tulmimetostat (75 mg/kg, PO,QD)</text>
<text x="498.40" y="470.40" font-size="5.6" font-weight="normal" text-anchor="start" fill="#e4555a">87%</text>
<text x="511.30" y="471.60" font-size="6.8" font-weight="normal" text-anchor="start" fill="#666">*</text>
</svg>
</body></html>
